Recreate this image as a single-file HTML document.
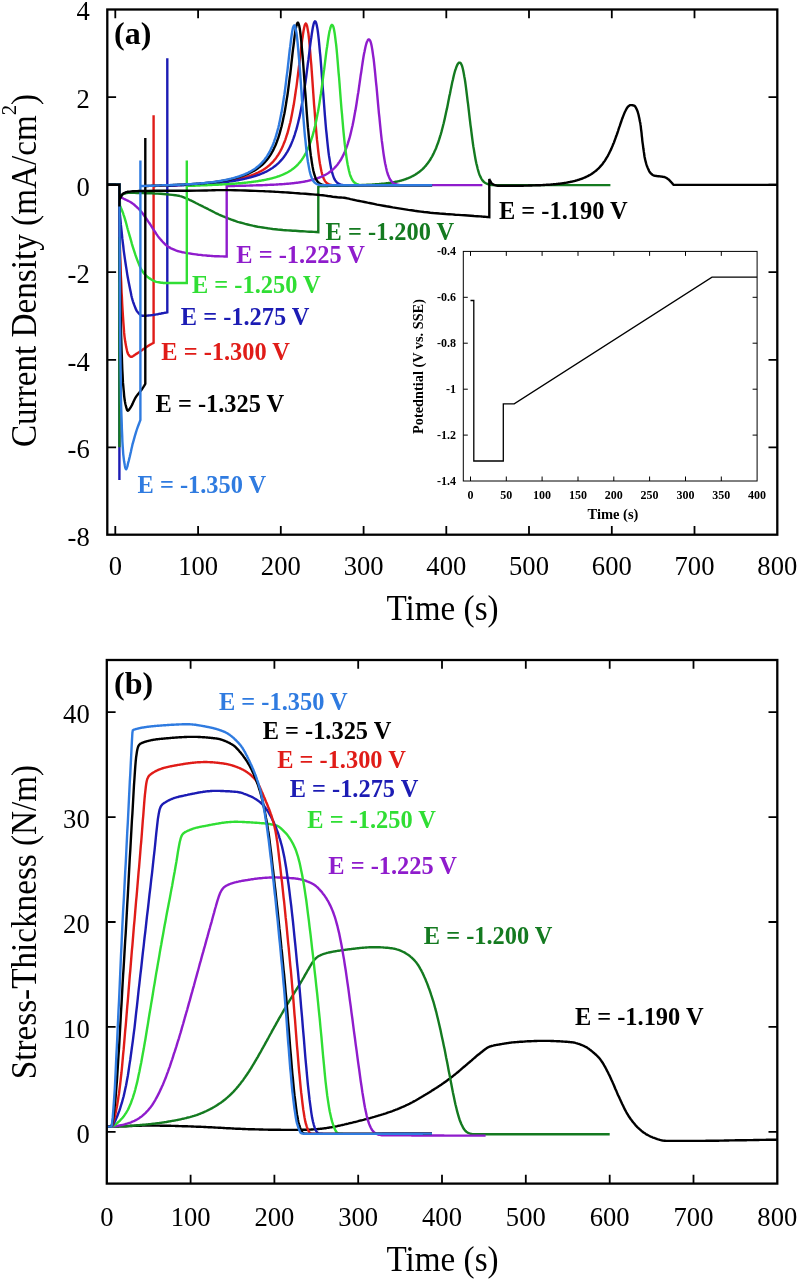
<!DOCTYPE html>
<html lang="en">
<head>
<meta charset="utf-8">
<title>Current density and stress-thickness transients</title>
<style>
html,body{margin:0;padding:0;background:#fff;}
body{width:798px;height:1280px;overflow:hidden;}
svg{display:block;}
</style>
</head>
<body>
<svg width="798" height="1280" viewBox="0 0 798 1280">
<rect x="0" y="0" width="798" height="1280" fill="#fff"/>
<defs><clipPath id="ca"><rect x="107.3" y="9.5" width="670.0" height="525.2"/></clipPath>
<clipPath id="cb"><rect x="106.8" y="660.0" width="670.5" height="523.6"/></clipPath></defs>
<g clip-path="url(#ca)" fill="none" stroke-linejoin="miter" stroke-linecap="butt" stroke-width="2.4">
<path d="M107.3,184.7 L119.4,184.7 L120.0,250.3 L120.2,257.0 L120.5,263.7 L120.7,270.1 L120.9,276.3 L121.2,282.1 L121.4,287.5 L121.6,292.6 L121.9,297.1 L122.2,303.9 L122.6,310.5 L123.0,316.8 L123.4,322.6 L123.8,327.8 L124.1,332.4 L124.5,336.3 L124.9,339.3 L125.3,342.1 L125.8,344.7 L126.2,347.1 L126.7,349.2 L127.1,351.0 L127.5,352.5 L128.0,353.7 L128.4,354.5 L128.8,354.9 L129.1,355.4 L129.5,355.8 L129.8,356.1 L130.2,356.4 L130.5,356.6 L130.9,356.8 L131.2,356.8 L131.8,356.7 L132.3,356.6 L132.8,356.3 L133.3,356.0 L133.9,355.6 L134.4,355.2 L134.9,354.8 L135.4,354.5 L136.3,353.9 L137.2,353.4 L138.1,352.8 L139.0,352.2 L139.8,351.6 L140.7,351.0 L141.6,350.4 L142.5,349.8 L143.2,349.3 L143.9,348.8 L144.7,348.3 L145.4,347.8 L146.1,347.3 L146.9,346.8 L147.6,346.3 L148.3,345.8 L149.0,345.4 L149.6,345.0 L150.3,344.6 L151.0,344.2 L151.6,343.8 L152.3,343.5 L153.0,343.1 L153.6,342.8 L153.6,115.3 L153.6,186.0 L154.0,186.0 L154.4,186.0 L154.9,186.0 L155.3,186.0 L155.7,186.0 L156.1,185.9 L156.5,185.9 L156.9,185.9 L157.3,185.9 L157.8,185.9 L158.2,185.9 L158.6,185.9 L159.0,185.8 L159.4,185.8 L159.8,185.8 L160.2,185.8 L160.6,185.8 L161.1,185.8 L161.5,185.7 L161.9,185.7 L162.3,185.7 L162.7,185.7 L163.1,185.7 L163.5,185.7 L164.0,185.7 L164.4,185.6 L164.8,185.6 L165.2,185.6 L165.6,185.6 L166.0,185.6 L166.4,185.6 L166.9,185.5 L167.3,185.5 L167.7,185.5 L168.1,185.5 L168.5,185.5 L168.9,185.5 L169.3,185.4 L169.7,185.4 L170.2,185.4 L170.6,185.4 L171.0,185.4 L171.4,185.4 L171.8,185.4 L172.2,185.3 L172.6,185.3 L173.1,185.3 L173.5,185.3 L173.9,185.3 L174.3,185.3 L174.7,185.2 L175.1,185.2 L175.5,185.2 L176.0,185.2 L176.4,185.2 L176.8,185.2 L177.2,185.1 L177.6,185.1 L178.0,185.1 L178.4,185.1 L178.9,185.1 L179.3,185.1 L179.7,185.0 L180.1,185.0 L180.5,185.0 L180.9,185.0 L181.3,185.0 L181.7,185.0 L182.2,184.9 L182.6,184.9 L183.0,184.9 L183.4,184.9 L183.8,184.9 L184.2,184.8 L184.6,184.8 L185.1,184.8 L185.5,184.8 L185.9,184.8 L186.3,184.8 L186.7,184.7 L187.1,184.7 L187.5,184.7 L188.0,184.7 L188.4,184.7 L188.8,184.6 L189.2,184.6 L189.6,184.6 L190.0,184.6 L190.4,184.6 L190.9,184.5 L191.3,184.5 L191.7,184.5 L192.1,184.5 L192.5,184.4 L192.9,184.4 L193.3,184.4 L193.7,184.4 L194.2,184.4 L194.6,184.3 L195.0,184.3 L195.4,184.3 L195.8,184.3 L196.2,184.2 L196.6,184.2 L197.1,184.2 L197.5,184.2 L197.9,184.1 L198.3,184.1 L198.7,184.1 L199.1,184.1 L199.5,184.0 L200.0,184.0 L200.4,184.0 L200.8,184.0 L201.2,183.9 L201.6,183.9 L202.0,183.9 L202.4,183.8 L202.8,183.8 L203.3,183.8 L203.7,183.8 L204.1,183.7 L204.5,183.7 L204.9,183.7 L205.3,183.6 L205.7,183.6 L206.2,183.6 L206.6,183.5 L207.0,183.5 L207.4,183.5 L207.8,183.4 L208.2,183.4 L208.6,183.4 L209.1,183.3 L209.5,183.3 L209.9,183.3 L210.3,183.2 L210.7,183.2 L211.1,183.2 L211.5,183.1 L212.0,183.1 L212.4,183.0 L212.8,183.0 L213.2,183.0 L213.6,182.9 L214.0,182.9 L214.4,182.8 L214.8,182.8 L215.3,182.7 L215.7,182.7 L216.1,182.7 L216.5,182.6 L216.9,182.6 L217.3,182.5 L217.7,182.5 L218.2,182.4 L218.6,182.4 L219.0,182.3 L219.4,182.3 L219.8,182.2 L220.2,182.2 L220.6,182.1 L221.1,182.1 L221.5,182.0 L221.9,182.0 L222.3,181.9 L222.7,181.9 L223.1,181.8 L223.5,181.8 L224.0,181.7 L224.4,181.6 L224.8,181.6 L225.2,181.5 L225.6,181.5 L226.0,181.4 L226.4,181.3 L226.8,181.3 L227.3,181.2 L227.7,181.1 L228.1,181.1 L228.5,181.0 L228.9,180.9 L229.3,180.9 L229.7,180.8 L230.2,180.7 L230.6,180.7 L231.0,180.6 L231.4,180.5 L231.8,180.4 L232.2,180.4 L232.6,180.3 L233.1,180.2 L233.5,180.1 L233.9,180.1 L234.3,180.0 L234.7,179.9 L235.1,179.8 L235.5,179.7 L235.9,179.6 L236.4,179.6 L236.8,179.5 L237.2,179.4 L237.6,179.3 L238.0,179.2 L238.4,179.1 L238.8,179.0 L239.3,178.9 L239.7,178.8 L240.1,178.7 L240.5,178.6 L240.9,178.5 L241.3,178.4 L241.7,178.3 L242.2,178.2 L242.6,178.1 L243.0,178.0 L243.4,177.9 L243.8,177.8 L244.2,177.6 L244.6,177.5 L245.1,177.4 L245.5,177.3 L245.9,177.2 L246.3,177.1 L246.7,176.9 L247.1,176.8 L247.5,176.7 L247.9,176.5 L248.4,176.4 L248.8,176.3 L249.2,176.1 L249.6,176.0 L250.0,175.9 L250.4,175.7 L250.8,175.6 L251.3,175.4 L251.7,175.3 L252.1,175.1 L252.5,175.0 L252.9,174.8 L253.3,174.6 L253.7,174.5 L254.2,174.3 L254.6,174.1 L255.0,174.0 L255.4,173.8 L255.8,173.6 L256.2,173.4 L256.6,173.2 L257.1,173.1 L257.5,172.9 L257.9,172.7 L258.3,172.5 L258.7,172.3 L259.1,172.1 L259.5,171.8 L259.9,171.6 L260.4,171.4 L260.8,171.2 L261.2,171.0 L261.6,170.7 L262.0,170.5 L262.4,170.2 L262.8,170.0 L263.3,169.7 L263.7,169.5 L264.1,169.2 L264.5,168.9 L264.9,168.7 L265.3,168.4 L265.7,168.1 L266.2,167.8 L266.6,167.5 L267.0,167.2 L267.4,166.8 L267.8,166.5 L268.2,166.2 L268.6,165.8 L269.0,165.5 L269.5,165.1 L269.9,164.8 L270.3,164.4 L270.7,164.0 L271.1,163.6 L271.5,163.2 L271.9,162.8 L272.4,162.3 L272.8,161.9 L273.2,161.5 L273.6,161.0 L274.0,160.5 L274.4,160.0 L274.8,159.5 L275.3,159.0 L275.7,158.4 L276.1,157.9 L276.5,157.3 L276.9,156.7 L277.3,156.1 L277.7,155.5 L278.2,154.9 L278.6,154.2 L279.0,153.5 L279.4,152.8 L279.8,152.1 L280.2,151.3 L280.6,150.6 L281.0,149.8 L281.5,148.9 L281.9,148.1 L282.3,147.2 L282.7,146.3 L283.1,145.3 L283.5,144.4 L283.9,143.3 L284.4,142.3 L284.8,141.2 L285.2,140.1 L285.6,138.9 L286.0,137.7 L286.4,136.4 L286.8,135.1 L287.3,133.8 L287.7,132.4 L288.1,130.9 L288.5,129.4 L288.9,127.8 L289.3,126.2 L289.7,124.5 L290.2,122.8 L290.6,120.9 L291.0,119.1 L291.4,117.1 L291.8,115.1 L292.2,112.9 L292.6,110.7 L293.0,108.5 L293.5,106.1 L293.9,103.7 L294.3,101.1 L294.7,98.5 L295.1,95.8 L295.5,93.0 L295.9,90.1 L296.4,87.1 L296.8,84.1 L297.2,80.9 L297.6,77.7 L298.0,74.4 L298.4,71.1 L298.8,67.7 L299.3,64.2 L299.7,60.7 L300.1,57.2 L300.5,53.7 L300.9,50.3 L301.3,46.9 L301.7,43.5 L302.1,40.3 L302.6,37.3 L303.0,34.4 L303.4,31.8 L303.8,29.4 L304.2,27.4 L304.6,25.8 L305.0,24.6 L305.5,23.9 L305.9,23.6 L306.3,23.9 L306.7,24.8 L307.1,26.1 L307.5,28.1 L307.9,30.5 L308.4,33.4 L308.8,36.8 L309.2,40.7 L309.6,44.9 L310.0,49.5 L310.4,54.4 L310.8,59.5 L311.3,64.9 L311.7,70.5 L312.1,76.1 L312.5,81.9 L312.9,87.7 L313.3,93.5 L313.7,99.2 L314.1,104.9 L314.6,110.4 L315.0,115.8 L315.4,121.0 L315.8,126.1 L316.2,130.9 L316.6,135.5 L317.0,139.9 L317.5,144.0 L317.9,147.9 L318.3,151.5 L318.7,154.9 L319.1,158.0 L319.5,160.9 L319.9,163.5 L320.4,166.0 L320.8,168.2 L321.2,170.2 L321.6,172.0 L322.0,173.6 L322.4,175.0 L322.8,176.3 L323.3,177.5 L323.7,178.5 L324.1,179.4 L324.5,180.1 L324.9,180.8 L325.3,181.4 L325.7,181.9 L326.1,182.4 L326.6,182.8 L327.0,183.1 L327.4,183.4 L327.8,183.7 L328.2,183.9 L328.6,184.1 L329.0,184.3 L329.5,184.5 L329.9,184.6 L330.3,184.8 L330.7,184.9 L331.1,185.0 L331.5,185.0 L331.9,185.1 L332.4,185.1 L332.8,185.1 L333.2,185.1 L333.6,185.1 L334.0,185.1 L334.4,185.1 L334.8,185.2 L335.2,185.2 L335.7,185.2 L336.1,185.2 L336.5,185.2 L336.9,185.2 L337.3,185.2 L337.7,185.2 L338.1,185.2 L338.6,185.2 L339.0,185.2 L339.4,185.2 L339.8,185.2 L340.2,185.2 L340.6,185.2 L341.0,185.2 L341.5,185.2 L341.9,185.2 L342.3,185.2 L342.7,185.2 L343.1,185.2 L343.5,185.2 L343.9,185.2 L344.4,185.2 L344.8,185.2 L345.2,185.2 L345.6,185.2 L346.0,185.2 L346.4,185.2 L346.8,185.2 L347.2,185.2 L347.7,185.2 L348.1,185.2 L348.5,185.2 L348.9,185.2 L349.3,185.2 L349.7,185.2 L350.1,185.2 L350.6,185.2 L351.0,185.2 L351.4,185.2 L351.8,185.2 L352.2,185.2 L352.6,185.2 L353.0,185.2 L353.5,185.2 L353.9,185.2 L354.3,185.2 L354.7,185.2 L355.1,185.2 L355.5,185.2 L355.9,185.2 L356.4,185.2 L356.8,185.2 L357.2,185.2 L357.6,185.2 L358.0,185.2 L358.4,185.2 L358.8,185.2 L359.2,185.2 L359.7,185.2 L360.1,185.2 L360.5,185.2 L360.9,185.2 L361.3,185.2 L361.7,185.2 L362.1,185.2 L362.6,185.2 L363.0,185.2 L363.4,185.2 L363.8,185.2 L364.2,185.2 L364.6,185.2 L365.0,185.2 L365.5,185.2 L365.9,185.2 L366.3,185.2 L366.7,185.2 L367.1,185.2 L367.5,185.2 L367.9,185.2 L368.3,185.2 L368.8,185.2 L369.2,185.2 L369.6,185.2 L370.0,185.2 L370.4,185.2 L370.8,185.2 L371.2,185.2 L371.7,185.2 L372.1,185.2 L372.5,185.2 L372.9,185.2 L373.3,185.2 L373.7,185.2 L374.1,185.2 L374.6,185.2 L375.0,185.2 L375.4,185.2 L375.8,185.2 L376.2,185.2 L376.6,185.2 L377.0,185.2 L377.5,185.2 L377.9,185.2 L378.3,185.2 L378.7,185.2 L379.1,185.2 L379.5,185.2 L379.9,185.2 L380.3,185.2 L380.8,185.2 L381.2,185.2 L381.6,185.2 L382.0,185.2 L382.4,185.2 L382.8,185.2 L383.2,185.2 L383.7,185.2 L384.1,185.2 L384.5,185.2 L384.9,185.2 L385.3,185.2 L385.7,185.2 L386.1,185.2 L386.6,185.2 L387.0,185.2 L387.4,185.2 L387.8,185.2 L388.2,185.2 L388.6,185.2 L389.0,185.2 L389.5,185.2 L389.9,185.2 L390.3,185.2 L390.7,185.2 L391.1,185.2 L391.5,185.2 L391.9,185.2 L392.3,185.2 L392.8,185.2 L393.2,185.2 L393.6,185.2 L394.0,185.2 L394.4,185.2 L394.8,185.2 L395.2,185.2 L395.7,185.2 L396.1,185.2 L396.5,185.2 L396.9,185.2 L397.3,185.2 L397.7,185.2 L398.1,185.2 L398.6,185.2 L399.0,185.2 L399.4,185.2 L399.8,185.2 L400.2,185.2 L400.6,185.2 L401.0,185.2 L401.4,185.2 L401.9,185.2 L402.3,185.2 L402.7,185.2 L403.1,185.2 L403.5,185.2 L403.9,185.2 L404.3,185.2 L404.8,185.2 L405.2,185.2 L405.6,185.2 L406.0,185.2 L406.4,185.2 L406.8,185.2 L407.2,185.2 L407.7,185.2 L408.1,185.2 L408.5,185.2 L408.9,185.2 L409.3,185.2 L409.7,185.2 L410.1,185.2 L410.6,185.2 L411.0,185.2 L411.4,185.2 L411.8,185.2 L412.2,185.2 L412.6,185.2 L413.0,185.2 L413.4,185.2 L413.9,185.2 L414.3,185.2 L414.7,185.2 L415.1,185.2 L415.5,185.2 L415.9,185.2 L416.3,185.2 L416.8,185.2 L417.2,185.2 L417.6,185.2 L418.0,185.2 L418.4,185.2 L418.8,185.2 L419.2,185.2 L419.7,185.2 L420.1,185.2 L420.5,185.2 L420.9,185.2 L421.3,185.2 L421.7,185.2 L422.1,185.2 L422.6,185.2 L423.0,185.2 L423.4,185.2 L423.8,185.2 L424.2,185.2 L424.6,185.2 L425.0,185.2 L425.4,185.2 L425.9,185.2 L426.3,185.2 L426.7,185.2 L427.1,185.2 L427.5,185.2 L427.9,185.2 L428.3,185.2 L428.8,185.2 L429.2,185.2 L429.6,185.2 L430.0,185.2 L430.4,185.2 L430.8,185.2 L431.2,185.2 L431.7,185.2 L432.1,185.2" stroke="#e01c18"/>
<path d="M107.3,184.7 L119.4,184.7 L119.4,480.1 L119.4,215.1 L120.0,215.1 L120.5,220.1 L120.9,224.9 L121.4,229.5 L121.9,234.1 L122.3,238.4 L122.8,242.6 L123.3,246.5 L123.7,250.3 L124.3,254.7 L124.9,258.9 L125.5,263.0 L126.1,266.9 L126.7,270.6 L127.2,274.1 L127.8,277.5 L128.4,280.7 L129.0,283.8 L129.6,286.8 L130.2,289.8 L130.8,292.6 L131.3,295.2 L131.9,297.7 L132.5,299.9 L133.1,301.8 L133.7,303.5 L134.3,305.2 L134.9,306.7 L135.4,308.1 L136.0,309.4 L136.6,310.6 L137.2,311.6 L137.8,312.3 L138.4,313.0 L139.0,313.6 L139.5,314.2 L140.1,314.7 L140.7,315.2 L141.3,315.5 L141.9,315.8 L142.5,315.8 L143.6,315.8 L144.8,315.8 L146.0,315.7 L147.2,315.6 L148.3,315.5 L149.5,315.4 L150.7,315.3 L151.8,315.1 L153.0,315.0 L154.2,314.8 L155.4,314.6 L156.5,314.4 L157.7,314.2 L158.9,313.9 L160.0,313.7 L161.2,313.5 L162.0,313.3 L162.7,313.2 L163.5,313.1 L164.2,312.9 L165.0,312.8 L165.8,312.6 L166.5,312.5 L167.3,312.3 L167.3,58.2 L167.3,185.9 L167.7,185.9 L168.1,185.8 L168.5,185.8 L168.9,185.8 L169.3,185.8 L169.7,185.8 L170.2,185.8 L170.6,185.7 L171.0,185.7 L171.4,185.7 L171.8,185.7 L172.2,185.7 L172.6,185.7 L173.1,185.6 L173.5,185.6 L173.9,185.6 L174.3,185.6 L174.7,185.6 L175.1,185.5 L175.5,185.5 L176.0,185.5 L176.4,185.5 L176.8,185.5 L177.2,185.5 L177.6,185.4 L178.0,185.4 L178.4,185.4 L178.9,185.4 L179.3,185.4 L179.7,185.3 L180.1,185.3 L180.5,185.3 L180.9,185.3 L181.3,185.3 L181.7,185.2 L182.2,185.2 L182.6,185.2 L183.0,185.2 L183.4,185.2 L183.8,185.2 L184.2,185.1 L184.6,185.1 L185.1,185.1 L185.5,185.1 L185.9,185.1 L186.3,185.0 L186.7,185.0 L187.1,185.0 L187.5,185.0 L188.0,185.0 L188.4,184.9 L188.8,184.9 L189.2,184.9 L189.6,184.9 L190.0,184.8 L190.4,184.8 L190.9,184.8 L191.3,184.8 L191.7,184.8 L192.1,184.7 L192.5,184.7 L192.9,184.7 L193.3,184.7 L193.7,184.7 L194.2,184.6 L194.6,184.6 L195.0,184.6 L195.4,184.6 L195.8,184.5 L196.2,184.5 L196.6,184.5 L197.1,184.5 L197.5,184.4 L197.9,184.4 L198.3,184.4 L198.7,184.4 L199.1,184.3 L199.5,184.3 L200.0,184.3 L200.4,184.3 L200.8,184.2 L201.2,184.2 L201.6,184.2 L202.0,184.2 L202.4,184.1 L202.8,184.1 L203.3,184.1 L203.7,184.1 L204.1,184.0 L204.5,184.0 L204.9,184.0 L205.3,183.9 L205.7,183.9 L206.2,183.9 L206.6,183.9 L207.0,183.8 L207.4,183.8 L207.8,183.8 L208.2,183.7 L208.6,183.7 L209.1,183.7 L209.5,183.6 L209.9,183.6 L210.3,183.6 L210.7,183.5 L211.1,183.5 L211.5,183.5 L212.0,183.4 L212.4,183.4 L212.8,183.4 L213.2,183.3 L213.6,183.3 L214.0,183.3 L214.4,183.2 L214.8,183.2 L215.3,183.1 L215.7,183.1 L216.1,183.1 L216.5,183.0 L216.9,183.0 L217.3,182.9 L217.7,182.9 L218.2,182.9 L218.6,182.8 L219.0,182.8 L219.4,182.7 L219.8,182.7 L220.2,182.7 L220.6,182.6 L221.1,182.6 L221.5,182.5 L221.9,182.5 L222.3,182.4 L222.7,182.4 L223.1,182.3 L223.5,182.3 L224.0,182.2 L224.4,182.2 L224.8,182.1 L225.2,182.1 L225.6,182.0 L226.0,182.0 L226.4,181.9 L226.8,181.9 L227.3,181.8 L227.7,181.8 L228.1,181.7 L228.5,181.7 L228.9,181.6 L229.3,181.5 L229.7,181.5 L230.2,181.4 L230.6,181.4 L231.0,181.3 L231.4,181.2 L231.8,181.2 L232.2,181.1 L232.6,181.1 L233.1,181.0 L233.5,180.9 L233.9,180.9 L234.3,180.8 L234.7,180.7 L235.1,180.7 L235.5,180.6 L235.9,180.5 L236.4,180.4 L236.8,180.4 L237.2,180.3 L237.6,180.2 L238.0,180.2 L238.4,180.1 L238.8,180.0 L239.3,179.9 L239.7,179.8 L240.1,179.8 L240.5,179.7 L240.9,179.6 L241.3,179.5 L241.7,179.4 L242.2,179.4 L242.6,179.3 L243.0,179.2 L243.4,179.1 L243.8,179.0 L244.2,178.9 L244.6,178.8 L245.1,178.7 L245.5,178.6 L245.9,178.5 L246.3,178.4 L246.7,178.3 L247.1,178.2 L247.5,178.1 L247.9,178.0 L248.4,177.9 L248.8,177.8 L249.2,177.7 L249.6,177.6 L250.0,177.5 L250.4,177.4 L250.8,177.3 L251.3,177.2 L251.7,177.0 L252.1,176.9 L252.5,176.8 L252.9,176.7 L253.3,176.6 L253.7,176.4 L254.2,176.3 L254.6,176.2 L255.0,176.1 L255.4,175.9 L255.8,175.8 L256.2,175.7 L256.6,175.5 L257.1,175.4 L257.5,175.2 L257.9,175.1 L258.3,174.9 L258.7,174.8 L259.1,174.6 L259.5,174.5 L259.9,174.3 L260.4,174.2 L260.8,174.0 L261.2,173.8 L261.6,173.7 L262.0,173.5 L262.4,173.3 L262.8,173.1 L263.3,173.0 L263.7,172.8 L264.1,172.6 L264.5,172.4 L264.9,172.2 L265.3,172.0 L265.7,171.8 L266.2,171.6 L266.6,171.4 L267.0,171.2 L267.4,171.0 L267.8,170.7 L268.2,170.5 L268.6,170.3 L269.0,170.0 L269.5,169.8 L269.9,169.6 L270.3,169.3 L270.7,169.1 L271.1,168.8 L271.5,168.5 L271.9,168.3 L272.4,168.0 L272.8,167.7 L273.2,167.4 L273.6,167.1 L274.0,166.8 L274.4,166.5 L274.8,166.2 L275.3,165.9 L275.7,165.5 L276.1,165.2 L276.5,164.9 L276.9,164.5 L277.3,164.1 L277.7,163.8 L278.2,163.4 L278.6,163.0 L279.0,162.6 L279.4,162.2 L279.8,161.8 L280.2,161.3 L280.6,160.9 L281.0,160.4 L281.5,160.0 L281.9,159.5 L282.3,159.0 L282.7,158.5 L283.1,158.0 L283.5,157.4 L283.9,156.9 L284.4,156.3 L284.8,155.7 L285.2,155.1 L285.6,154.5 L286.0,153.9 L286.4,153.2 L286.8,152.6 L287.3,151.9 L287.7,151.1 L288.1,150.4 L288.5,149.6 L288.9,148.9 L289.3,148.1 L289.7,147.2 L290.2,146.4 L290.6,145.5 L291.0,144.6 L291.4,143.6 L291.8,142.6 L292.2,141.6 L292.6,140.6 L293.0,139.5 L293.5,138.4 L293.9,137.2 L294.3,136.0 L294.7,134.8 L295.1,133.5 L295.5,132.2 L295.9,130.8 L296.4,129.4 L296.8,127.9 L297.2,126.4 L297.6,124.8 L298.0,123.2 L298.4,121.5 L298.8,119.7 L299.3,117.9 L299.7,116.0 L300.1,114.1 L300.5,112.1 L300.9,110.0 L301.3,107.8 L301.7,105.6 L302.1,103.3 L302.6,100.9 L303.0,98.4 L303.4,95.9 L303.8,93.3 L304.2,90.6 L304.6,87.8 L305.0,85.0 L305.5,82.0 L305.9,79.0 L306.3,76.0 L306.7,72.9 L307.1,69.7 L307.5,66.5 L307.9,63.2 L308.4,59.9 L308.8,56.6 L309.2,53.3 L309.6,50.0 L310.0,46.8 L310.4,43.6 L310.8,40.5 L311.3,37.5 L311.7,34.7 L312.1,32.0 L312.5,29.5 L312.9,27.3 L313.3,25.4 L313.7,23.8 L314.1,22.6 L314.6,21.8 L315.0,21.4 L315.4,21.5 L315.8,22.1 L316.2,23.1 L316.6,24.6 L317.0,26.6 L317.5,29.1 L317.9,32.0 L318.3,35.3 L318.7,38.9 L319.1,42.9 L319.5,47.3 L319.9,51.9 L320.4,56.7 L320.8,61.8 L321.2,67.0 L321.6,72.3 L322.0,77.7 L322.4,83.2 L322.8,88.7 L323.3,94.2 L323.7,99.6 L324.1,104.9 L324.5,110.2 L324.9,115.3 L325.3,120.2 L325.7,125.0 L326.1,129.6 L326.6,134.0 L327.0,138.2 L327.4,142.2 L327.8,145.9 L328.2,149.5 L328.6,152.8 L329.0,155.9 L329.5,158.7 L329.9,161.4 L330.3,163.9 L330.7,166.1 L331.1,168.2 L331.5,170.0 L331.9,171.7 L332.4,173.3 L332.8,174.7 L333.2,175.9 L333.6,177.0 L334.0,178.0 L334.4,178.9 L334.8,179.7 L335.2,180.4 L335.7,181.0 L336.1,181.5 L336.5,182.0 L336.9,182.4 L337.3,182.8 L337.7,183.1 L338.1,183.4 L338.6,183.6 L339.0,183.8 L339.4,184.0 L339.8,184.2 L340.2,184.4 L340.6,184.5 L341.0,184.7 L341.5,184.8 L341.9,184.9 L342.3,185.0 L342.7,185.0 L343.1,185.1 L343.5,185.1 L343.9,185.1 L344.4,185.1 L344.8,185.1 L345.2,185.1 L345.6,185.1 L346.0,185.1 L346.4,185.1 L346.8,185.1 L347.2,185.1 L347.7,185.1 L348.1,185.1 L348.5,185.1 L348.9,185.1 L349.3,185.1 L349.7,185.1 L350.1,185.1 L350.6,185.1 L351.0,185.1 L351.4,185.1 L351.8,185.1 L352.2,185.1 L352.6,185.1 L353.0,185.1 L353.5,185.1 L353.9,185.1 L354.3,185.1 L354.7,185.1 L355.1,185.1 L355.5,185.1 L355.9,185.1 L356.4,185.1 L356.8,185.1 L357.2,185.1 L357.6,185.1 L358.0,185.1 L358.4,185.1 L358.8,185.1 L359.2,185.1 L359.7,185.1 L360.1,185.1 L360.5,185.1 L360.9,185.1 L361.3,185.1 L361.7,185.1 L362.1,185.1 L362.6,185.1 L363.0,185.1 L363.4,185.1 L363.8,185.1 L364.2,185.1 L364.6,185.1 L365.0,185.1 L365.5,185.1 L365.9,185.1 L366.3,185.1 L366.7,185.1 L367.1,185.1 L367.5,185.1 L367.9,185.1 L368.3,185.1 L368.8,185.1 L369.2,185.1 L369.6,185.1 L370.0,185.1 L370.4,185.1 L370.8,185.1 L371.2,185.1 L371.7,185.1 L372.1,185.1 L372.5,185.1 L372.9,185.1 L373.3,185.1 L373.7,185.1 L374.1,185.1 L374.6,185.1 L375.0,185.1 L375.4,185.1 L375.8,185.1 L376.2,185.1 L376.6,185.1 L377.0,185.1 L377.5,185.1 L377.9,185.1 L378.3,185.1 L378.7,185.1 L379.1,185.1 L379.5,185.1 L379.9,185.1 L380.3,185.1 L380.8,185.1 L381.2,185.1 L381.6,185.1 L382.0,185.1 L382.4,185.1 L382.8,185.1 L383.2,185.1 L383.7,185.1 L384.1,185.1 L384.5,185.1 L384.9,185.1 L385.3,185.1 L385.7,185.1 L386.1,185.1 L386.6,185.1 L387.0,185.1 L387.4,185.1 L387.8,185.1 L388.2,185.1 L388.6,185.1 L389.0,185.1 L389.5,185.1 L389.9,185.1 L390.3,185.1 L390.7,185.1 L391.1,185.1 L391.5,185.1 L391.9,185.1 L392.3,185.1 L392.8,185.1 L393.2,185.1 L393.6,185.1 L394.0,185.1 L394.4,185.1 L394.8,185.1 L395.2,185.1 L395.7,185.1 L396.1,185.1 L396.5,185.1 L396.9,185.1 L397.3,185.1 L397.7,185.1 L398.1,185.1 L398.6,185.1 L399.0,185.1 L399.4,185.1 L399.8,185.1 L400.2,185.1 L400.6,185.1 L401.0,185.1 L401.4,185.1 L401.9,185.1 L402.3,185.1 L402.7,185.1 L403.1,185.1 L403.5,185.1 L403.9,185.1 L404.3,185.1 L404.8,185.1 L405.2,185.1 L405.6,185.1 L406.0,185.1 L406.4,185.1 L406.8,185.1 L407.2,185.1 L407.7,185.1 L408.1,185.1 L408.5,185.1 L408.9,185.1 L409.3,185.1 L409.7,185.1 L410.1,185.1 L410.6,185.1 L411.0,185.1 L411.4,185.1 L411.8,185.1 L412.2,185.1 L412.6,185.1 L413.0,185.1 L413.4,185.1 L413.9,185.1 L414.3,185.1 L414.7,185.1 L415.1,185.1 L415.5,185.1 L415.9,185.1 L416.3,185.1 L416.8,185.1 L417.2,185.1 L417.6,185.1 L418.0,185.1 L418.4,185.1 L418.8,185.1 L419.2,185.1 L419.7,185.1 L420.1,185.1 L420.5,185.1 L420.9,185.1 L421.3,185.1 L421.7,185.1 L422.1,185.1 L422.6,185.1 L423.0,185.1 L423.4,185.1 L423.8,185.1 L424.2,185.1 L424.6,185.1 L425.0,185.1 L425.4,185.1 L425.9,185.1 L426.3,185.1 L426.7,185.1 L427.1,185.1 L427.5,185.1 L427.9,185.1 L428.3,185.1 L428.8,185.1 L429.2,185.1 L429.6,185.1 L430.0,185.1 L430.4,185.1 L430.8,185.1 L431.2,185.1 L431.7,185.1 L432.1,185.1" stroke="#1c1cb4"/>
<path d="M107.3,184.7 L119.4,184.7 L119.4,447.3 L119.4,198.7 L120.0,198.7 L120.3,198.1 L120.6,197.4 L121.0,196.7 L121.3,196.1 L121.6,195.6 L121.9,195.1 L122.2,194.8 L122.6,194.5 L123.3,194.2 L124.0,193.8 L124.8,193.5 L125.5,193.3 L126.2,193.1 L127.0,193.0 L127.7,192.9 L128.4,192.9 L131.3,192.9 L134.3,192.9 L137.2,193.0 L140.1,193.0 L143.1,193.1 L146.0,193.2 L148.9,193.3 L151.8,193.3 L154.8,193.5 L157.7,193.6 L160.6,193.8 L163.5,194.0 L166.5,194.3 L169.4,194.6 L172.3,194.9 L175.3,195.2 L175.9,195.3 L176.4,195.4 L177.0,195.5 L177.6,195.6 L178.2,195.7 L178.8,195.8 L179.4,195.9 L180.0,196.1 L181.3,196.4 L182.5,196.8 L183.8,197.3 L185.0,197.8 L186.3,198.4 L187.5,198.9 L188.8,199.5 L190.0,200.1 L191.3,200.6 L192.5,201.2 L193.8,201.9 L195.0,202.5 L196.3,203.2 L197.5,203.8 L198.8,204.5 L200.1,205.1 L201.3,205.7 L202.6,206.3 L203.8,207.0 L205.1,207.6 L206.3,208.2 L207.6,208.8 L208.8,209.5 L210.1,210.1 L211.3,210.7 L212.6,211.4 L213.8,212.0 L215.1,212.7 L216.3,213.3 L217.6,213.9 L218.8,214.5 L220.1,215.1 L221.4,215.7 L222.6,216.2 L223.9,216.7 L225.1,217.2 L226.4,217.7 L227.6,218.2 L228.9,218.7 L230.1,219.1 L231.4,219.6 L232.6,220.0 L233.9,220.5 L235.1,220.9 L236.4,221.4 L237.6,221.8 L238.9,222.2 L240.2,222.5 L242.7,223.2 L245.2,223.9 L247.7,224.5 L250.2,225.1 L252.7,225.7 L255.2,226.2 L257.7,226.7 L260.2,227.1 L262.7,227.5 L265.2,227.9 L267.7,228.3 L270.2,228.6 L272.7,229.0 L275.2,229.2 L277.7,229.5 L280.3,229.7 L282.8,230.0 L285.3,230.2 L287.8,230.4 L290.3,230.5 L292.8,230.7 L295.3,230.8 L297.8,231.0 L300.3,231.2 L302.5,231.3 L304.8,231.4 L307.0,231.6 L309.3,231.7 L311.5,231.8 L313.8,231.9 L316.0,232.0 L318.3,232.2 L318.3,186.0 L318.3,186.2 L318.7,186.2 L319.1,186.2 L319.5,186.2 L319.9,186.1 L320.4,186.1 L320.8,186.1 L321.2,186.1 L321.6,186.1 L322.0,186.1 L322.4,186.1 L322.8,186.1 L323.3,186.1 L323.7,186.1 L324.1,186.0 L324.5,186.0 L324.9,186.0 L325.3,186.0 L325.7,186.0 L326.1,186.0 L326.6,186.0 L327.0,186.0 L327.4,186.0 L327.8,186.0 L328.2,185.9 L328.6,185.9 L329.0,185.9 L329.5,185.9 L329.9,185.9 L330.3,185.9 L330.7,185.9 L331.1,185.9 L331.5,185.9 L331.9,185.9 L332.4,185.8 L332.8,185.8 L333.2,185.8 L333.6,185.8 L334.0,185.8 L334.4,185.8 L334.8,185.8 L335.2,185.8 L335.7,185.8 L336.1,185.8 L336.5,185.7 L336.9,185.7 L337.3,185.7 L337.7,185.7 L338.1,185.7 L338.6,185.7 L339.0,185.7 L339.4,185.7 L339.8,185.7 L340.2,185.7 L340.6,185.6 L341.0,185.6 L341.5,185.6 L341.9,185.6 L342.3,185.6 L342.7,185.6 L343.1,185.6 L343.5,185.6 L343.9,185.6 L344.4,185.6 L344.8,185.5 L345.2,185.5 L345.6,185.5 L346.0,185.5 L346.4,185.5 L346.8,185.5 L347.2,185.5 L347.7,185.5 L348.1,185.5 L348.5,185.5 L348.9,185.4 L349.3,185.4 L349.7,185.4 L350.1,185.4 L350.6,185.4 L351.0,185.4 L351.4,185.4 L351.8,185.4 L352.2,185.3 L352.6,185.3 L353.0,185.3 L353.5,185.3 L353.9,185.3 L354.3,185.3 L354.7,185.3 L355.1,185.3 L355.5,185.3 L355.9,185.2 L356.4,185.2 L356.8,185.2 L357.2,185.2 L357.6,185.2 L358.0,185.2 L358.4,185.2 L358.8,185.1 L359.2,185.1 L359.7,185.1 L360.1,185.1 L360.5,185.1 L360.9,185.1 L361.3,185.1 L361.7,185.0 L362.1,185.0 L362.6,185.0 L363.0,185.0 L363.4,185.0 L363.8,185.0 L364.2,184.9 L364.6,184.9 L365.0,184.9 L365.5,184.9 L365.9,184.9 L366.3,184.9 L366.7,184.8 L367.1,184.8 L367.5,184.8 L367.9,184.8 L368.3,184.8 L368.8,184.7 L369.2,184.7 L369.6,184.7 L370.0,184.7 L370.4,184.6 L370.8,184.6 L371.2,184.6 L371.7,184.6 L372.1,184.6 L372.5,184.5 L372.9,184.5 L373.3,184.5 L373.7,184.5 L374.1,184.4 L374.6,184.4 L375.0,184.4 L375.4,184.3 L375.8,184.3 L376.2,184.3 L376.6,184.3 L377.0,184.2 L377.5,184.2 L377.9,184.2 L378.3,184.1 L378.7,184.1 L379.1,184.1 L379.5,184.0 L379.9,184.0 L380.3,184.0 L380.8,183.9 L381.2,183.9 L381.6,183.8 L382.0,183.8 L382.4,183.8 L382.8,183.7 L383.2,183.7 L383.7,183.6 L384.1,183.6 L384.5,183.6 L384.9,183.5 L385.3,183.5 L385.7,183.4 L386.1,183.4 L386.6,183.3 L387.0,183.3 L387.4,183.2 L387.8,183.2 L388.2,183.1 L388.6,183.0 L389.0,183.0 L389.5,182.9 L389.9,182.9 L390.3,182.8 L390.7,182.7 L391.1,182.7 L391.5,182.6 L391.9,182.5 L392.3,182.5 L392.8,182.4 L393.2,182.3 L393.6,182.2 L394.0,182.2 L394.4,182.1 L394.8,182.0 L395.2,181.9 L395.7,181.8 L396.1,181.8 L396.5,181.7 L396.9,181.6 L397.3,181.5 L397.7,181.4 L398.1,181.3 L398.6,181.2 L399.0,181.1 L399.4,181.0 L399.8,180.9 L400.2,180.8 L400.6,180.7 L401.0,180.6 L401.4,180.5 L401.9,180.3 L402.3,180.2 L402.7,180.1 L403.1,180.0 L403.5,179.8 L403.9,179.7 L404.3,179.6 L404.8,179.4 L405.2,179.3 L405.6,179.1 L406.0,179.0 L406.4,178.8 L406.8,178.7 L407.2,178.5 L407.7,178.4 L408.1,178.2 L408.5,178.0 L408.9,177.9 L409.3,177.7 L409.7,177.5 L410.1,177.3 L410.6,177.1 L411.0,176.9 L411.4,176.7 L411.8,176.5 L412.2,176.3 L412.6,176.1 L413.0,175.9 L413.4,175.7 L413.9,175.4 L414.3,175.2 L414.7,175.0 L415.1,174.7 L415.5,174.5 L415.9,174.2 L416.3,173.9 L416.8,173.7 L417.2,173.4 L417.6,173.1 L418.0,172.8 L418.4,172.5 L418.8,172.2 L419.2,171.9 L419.7,171.6 L420.1,171.2 L420.5,170.9 L420.9,170.6 L421.3,170.2 L421.7,169.8 L422.1,169.5 L422.6,169.1 L423.0,168.7 L423.4,168.3 L423.8,167.9 L424.2,167.4 L424.6,167.0 L425.0,166.5 L425.4,166.1 L425.9,165.6 L426.3,165.1 L426.7,164.6 L427.1,164.1 L427.5,163.5 L427.9,163.0 L428.3,162.4 L428.8,161.8 L429.2,161.2 L429.6,160.6 L430.0,160.0 L430.4,159.3 L430.8,158.6 L431.2,157.9 L431.7,157.2 L432.1,156.5 L432.5,155.7 L432.9,154.9 L433.3,154.1 L433.7,153.3 L434.1,152.4 L434.5,151.5 L435.0,150.6 L435.4,149.6 L435.8,148.7 L436.2,147.7 L436.6,146.6 L437.0,145.5 L437.4,144.4 L437.9,143.3 L438.3,142.1 L438.7,140.9 L439.1,139.7 L439.5,138.4 L439.9,137.1 L440.3,135.7 L440.8,134.3 L441.2,132.8 L441.6,131.4 L442.0,129.8 L442.4,128.3 L442.8,126.7 L443.2,125.0 L443.7,123.3 L444.1,121.6 L444.5,119.8 L444.9,118.0 L445.3,116.1 L445.7,114.3 L446.1,112.3 L446.5,110.4 L447.0,108.4 L447.4,106.4 L447.8,104.4 L448.2,102.3 L448.6,100.3 L449.0,98.2 L449.4,96.1 L449.9,94.0 L450.3,92.0 L450.7,89.9 L451.1,87.9 L451.5,85.9 L451.9,83.9 L452.3,82.0 L452.8,80.1 L453.2,78.3 L453.6,76.5 L454.0,74.8 L454.4,73.2 L454.8,71.7 L455.2,70.3 L455.7,69.0 L456.1,67.8 L456.5,66.7 L456.9,65.7 L457.3,64.9 L457.7,64.1 L458.1,63.5 L458.5,63.1 L459.0,62.7 L459.4,62.6 L459.8,62.6 L460.2,62.8 L460.6,63.1 L461.0,63.7 L461.4,64.5 L461.9,65.5 L462.3,66.8 L462.7,68.3 L463.1,70.0 L463.5,72.0 L463.9,74.1 L464.3,76.5 L464.8,79.1 L465.2,81.8 L465.6,84.7 L466.0,87.7 L466.4,90.8 L466.8,94.1 L467.2,97.4 L467.6,100.8 L468.1,104.3 L468.5,107.8 L468.9,111.3 L469.3,114.8 L469.7,118.3 L470.1,121.7 L470.5,125.1 L471.0,128.5 L471.4,131.8 L471.8,135.0 L472.2,138.1 L472.6,141.2 L473.0,144.1 L473.4,146.9 L473.9,149.6 L474.3,152.2 L474.7,154.6 L475.1,157.0 L475.5,159.2 L475.9,161.3 L476.3,163.3 L476.8,165.1 L477.2,166.8 L477.6,168.5 L478.0,170.0 L478.4,171.4 L478.8,172.7 L479.2,173.9 L479.6,175.0 L480.1,176.0 L480.5,176.9 L480.9,177.7 L481.3,178.5 L481.7,179.2 L482.1,179.8 L482.5,180.4 L483.0,180.9 L483.4,181.4 L483.8,181.8 L484.2,182.2 L484.6,182.5 L485.0,182.8 L485.4,183.0 L485.9,183.3 L486.3,183.5 L486.7,183.7 L487.1,183.8 L487.5,184.0 L487.9,184.1 L488.3,184.2 L488.8,184.4 L489.2,184.5 L489.6,184.6 L490.0,184.7 L490.4,184.8 L490.8,184.9 L491.2,184.9 L491.6,185.0 L492.1,185.1 L492.5,185.1 L492.9,185.1 L493.3,185.1 L493.7,185.1 L494.1,185.1 L494.5,185.1 L495.0,185.1 L495.4,185.1 L495.8,185.1 L496.2,185.1 L496.6,185.1 L497.0,185.1 L497.4,185.1 L497.9,185.1 L498.3,185.1 L498.7,185.1 L499.1,185.1 L499.5,185.1 L499.9,185.1 L500.3,185.1 L500.7,185.1 L501.2,185.1 L501.6,185.1 L502.0,185.1 L502.4,185.1 L502.8,185.1 L503.2,185.1 L503.6,185.1 L504.1,185.1 L504.5,185.1 L504.9,185.1 L505.3,185.1 L505.7,185.1 L506.1,185.1 L506.5,185.1 L507.0,185.1 L507.4,185.1 L507.8,185.1 L508.2,185.1 L508.6,185.1 L509.0,185.1 L509.4,185.1 L509.9,185.1 L510.3,185.1 L510.7,185.1 L511.1,185.1 L511.5,185.1 L511.9,185.1 L512.3,185.1 L512.7,185.1 L513.2,185.1 L513.6,185.1 L514.0,185.1 L514.4,185.1 L514.8,185.1 L515.2,185.1 L515.6,185.1 L516.1,185.1 L516.5,185.1 L516.9,185.1 L517.3,185.1 L517.7,185.1 L518.1,185.1 L518.5,185.1 L519.0,185.1 L519.4,185.1 L519.8,185.1 L520.2,185.1 L520.6,185.1 L521.0,185.1 L521.4,185.1 L521.9,185.1 L522.3,185.1 L522.7,185.1 L523.1,185.1 L523.5,185.1 L523.9,185.1 L524.3,185.1 L524.7,185.1 L525.2,185.1 L525.6,185.1 L526.0,185.1 L526.4,185.1 L526.8,185.1 L527.2,185.1 L527.6,185.1 L528.1,185.1 L528.5,185.1 L528.9,185.1 L529.3,185.1 L529.7,185.1 L530.1,185.1 L530.5,185.1 L531.0,185.1 L531.4,185.1 L531.8,185.1 L532.2,185.1 L532.6,185.1 L533.0,185.1 L533.4,185.1 L533.8,185.1 L534.3,185.1 L534.7,185.1 L535.1,185.1 L535.5,185.1 L535.9,185.1 L536.3,185.1 L536.7,185.1 L537.2,185.1 L537.6,185.1 L538.0,185.1 L538.4,185.1 L538.8,185.1 L539.2,185.1 L539.6,185.1 L540.1,185.1 L540.5,185.1 L540.9,185.1 L541.3,185.1 L541.7,185.1 L542.1,185.1 L542.5,185.1 L543.0,185.1 L543.4,185.1 L543.8,185.1 L544.2,185.1 L544.6,185.1 L545.0,185.1 L545.4,185.1 L545.8,185.1 L546.3,185.1 L546.7,185.1 L547.1,185.1 L547.5,185.1 L547.9,185.1 L548.3,185.1 L548.7,185.1 L549.2,185.1 L549.6,185.1 L550.0,185.1 L550.4,185.1 L550.8,185.1 L551.2,185.1 L551.6,185.1 L552.1,185.1 L552.5,185.1 L552.9,185.1 L553.3,185.1 L553.7,185.1 L554.1,185.1 L554.5,185.1 L555.0,185.1 L555.4,185.1 L555.8,185.1 L556.2,185.1 L556.6,185.1 L557.0,185.1 L557.4,185.1 L557.8,185.1 L558.3,185.1 L558.7,185.1 L559.1,185.1 L559.5,185.1 L559.9,185.1 L560.3,185.1 L560.7,185.1 L561.2,185.1 L561.6,185.1 L562.0,185.1 L562.4,185.1 L562.8,185.1 L563.2,185.1 L563.6,185.1 L564.1,185.1 L564.5,185.1 L564.9,185.1 L565.3,185.1 L565.7,185.1 L566.1,185.1 L566.5,185.1 L566.9,185.1 L567.4,185.1 L567.8,185.1 L568.2,185.1 L568.6,185.1 L569.0,185.1 L569.4,185.1 L569.8,185.1 L570.3,185.1 L570.7,185.1 L571.1,185.1 L571.5,185.1 L571.9,185.1 L572.3,185.1 L572.7,185.1 L573.2,185.1 L573.6,185.1 L574.0,185.1 L574.4,185.1 L574.8,185.1 L575.2,185.1 L575.6,185.1 L576.1,185.1 L576.5,185.1 L576.9,185.1 L577.3,185.1 L577.7,185.1 L578.1,185.1 L578.5,185.1 L578.9,185.1 L579.4,185.1 L579.8,185.1 L580.2,185.1 L580.6,185.1 L581.0,185.1 L581.4,185.1 L581.8,185.1 L582.3,185.1 L582.7,185.1 L583.1,185.1 L583.5,185.1 L583.9,185.1 L584.3,185.1 L584.7,185.1 L585.2,185.1 L585.6,185.1 L586.0,185.1 L586.4,185.1 L586.8,185.1 L587.2,185.1 L587.6,185.1 L588.1,185.1 L588.5,185.1 L588.9,185.1 L589.3,185.1 L589.7,185.1 L590.1,185.1 L590.5,185.1 L590.9,185.1 L591.4,185.1 L591.8,185.1 L592.2,185.1 L592.6,185.1 L593.0,185.1 L593.4,185.1 L593.8,185.1 L594.3,185.1 L594.7,185.1 L595.1,185.1 L595.5,185.1 L595.9,185.1 L596.3,185.1 L596.7,185.1 L597.2,185.1 L597.6,185.1 L598.0,185.1 L598.4,185.1 L598.8,185.1 L599.2,185.1 L599.6,185.1 L600.0,185.1 L600.5,185.1 L600.9,185.1 L601.3,185.1 L601.7,185.1 L602.1,185.1 L602.5,185.1 L602.9,185.1 L603.4,185.1 L603.8,185.1 L604.2,185.1 L604.6,185.1 L605.0,185.1 L605.4,185.1 L605.8,185.1 L606.3,185.1 L606.7,185.1 L607.1,185.1 L607.5,185.1 L607.9,185.1 L608.3,185.1 L608.7,185.1 L609.2,185.1 L609.6,185.1 L610.0,185.1 L610.4,185.1" stroke="#147a20"/>
<path d="M107.3,184.7 L119.4,184.7 L119.4,237.2 L119.4,196.4 L120.0,196.4 L120.5,196.7 L120.9,197.0 L121.4,197.3 L121.9,197.6 L122.3,197.9 L122.8,198.2 L123.3,198.5 L123.7,198.7 L124.6,199.2 L125.5,199.6 L126.4,200.0 L127.2,200.4 L128.1,200.8 L129.0,201.3 L129.9,201.7 L130.8,202.2 L131.9,203.0 L133.1,203.9 L134.3,204.8 L135.4,205.8 L136.6,206.9 L137.8,208.0 L139.0,209.2 L140.1,210.4 L141.3,211.8 L142.5,213.2 L143.6,214.8 L144.8,216.5 L146.0,218.2 L147.2,219.9 L148.3,221.6 L149.5,223.3 L150.7,225.1 L151.8,226.9 L153.0,228.8 L154.2,230.6 L155.4,232.5 L156.5,234.2 L157.7,235.9 L158.9,237.4 L160.0,238.8 L161.2,240.1 L162.4,241.5 L163.5,242.7 L164.7,243.9 L165.9,245.0 L167.1,245.9 L168.2,246.7 L169.4,247.4 L170.6,248.1 L171.7,248.7 L172.9,249.2 L174.1,249.7 L175.3,250.2 L176.4,250.6 L177.6,251.0 L178.8,251.3 L179.9,251.6 L181.1,251.9 L182.3,252.2 L183.5,252.4 L184.6,252.6 L185.8,252.9 L187.0,253.1 L189.2,253.4 L191.5,253.8 L193.7,254.1 L196.0,254.4 L198.2,254.7 L200.5,254.9 L202.7,255.2 L205.0,255.4 L206.4,255.5 L207.8,255.7 L209.2,255.8 L210.6,255.9 L212.0,256.0 L213.4,256.1 L214.8,256.2 L216.3,256.3 L217.6,256.3 L218.9,256.3 L220.2,256.4 L221.5,256.4 L222.8,256.4 L224.1,256.5 L225.4,256.5 L226.7,256.5 L226.7,184.7 L226.7,186.1 L227.1,186.1 L227.5,186.1 L227.9,186.1 L228.3,186.1 L228.8,186.1 L229.2,186.1 L229.6,186.1 L230.0,186.1 L230.4,186.1 L230.8,186.0 L231.2,186.0 L231.6,186.0 L232.1,186.0 L232.5,186.0 L232.9,186.0 L233.3,186.0 L233.7,186.0 L234.1,186.0 L234.5,186.0 L235.0,185.9 L235.4,185.9 L235.8,185.9 L236.2,185.9 L236.6,185.9 L237.0,185.9 L237.4,185.9 L237.9,185.9 L238.3,185.9 L238.7,185.8 L239.1,185.8 L239.5,185.8 L239.9,185.8 L240.3,185.8 L240.7,185.8 L241.2,185.8 L241.6,185.8 L242.0,185.8 L242.4,185.7 L242.8,185.7 L243.2,185.7 L243.6,185.7 L244.1,185.7 L244.5,185.7 L244.9,185.7 L245.3,185.7 L245.7,185.7 L246.1,185.6 L246.5,185.6 L247.0,185.6 L247.4,185.6 L247.8,185.6 L248.2,185.6 L248.6,185.6 L249.0,185.6 L249.4,185.6 L249.9,185.5 L250.3,185.5 L250.7,185.5 L251.1,185.5 L251.5,185.5 L251.9,185.5 L252.3,185.5 L252.7,185.5 L253.2,185.4 L253.6,185.4 L254.0,185.4 L254.4,185.4 L254.8,185.4 L255.2,185.4 L255.6,185.4 L256.1,185.4 L256.5,185.3 L256.9,185.3 L257.3,185.3 L257.7,185.3 L258.1,185.3 L258.5,185.3 L259.0,185.3 L259.4,185.3 L259.8,185.2 L260.2,185.2 L260.6,185.2 L261.0,185.2 L261.4,185.2 L261.9,185.2 L262.3,185.2 L262.7,185.1 L263.1,185.1 L263.5,185.1 L263.9,185.1 L264.3,185.1 L264.7,185.1 L265.2,185.0 L265.6,185.0 L266.0,185.0 L266.4,185.0 L266.8,185.0 L267.2,185.0 L267.6,184.9 L268.1,184.9 L268.5,184.9 L268.9,184.9 L269.3,184.9 L269.7,184.9 L270.1,184.8 L270.5,184.8 L271.0,184.8 L271.4,184.8 L271.8,184.8 L272.2,184.7 L272.6,184.7 L273.0,184.7 L273.4,184.7 L273.8,184.7 L274.3,184.6 L274.7,184.6 L275.1,184.6 L275.5,184.6 L275.9,184.6 L276.3,184.5 L276.7,184.5 L277.2,184.5 L277.6,184.5 L278.0,184.4 L278.4,184.4 L278.8,184.4 L279.2,184.4 L279.6,184.3 L280.1,184.3 L280.5,184.3 L280.9,184.3 L281.3,184.2 L281.7,184.2 L282.1,184.2 L282.5,184.1 L283.0,184.1 L283.4,184.1 L283.8,184.1 L284.2,184.0 L284.6,184.0 L285.0,184.0 L285.4,183.9 L285.8,183.9 L286.3,183.9 L286.7,183.8 L287.1,183.8 L287.5,183.8 L287.9,183.7 L288.3,183.7 L288.7,183.6 L289.2,183.6 L289.6,183.6 L290.0,183.5 L290.4,183.5 L290.8,183.5 L291.2,183.4 L291.6,183.4 L292.1,183.3 L292.5,183.3 L292.9,183.2 L293.3,183.2 L293.7,183.1 L294.1,183.1 L294.5,183.0 L295.0,183.0 L295.4,182.9 L295.8,182.9 L296.2,182.8 L296.6,182.8 L297.0,182.7 L297.4,182.7 L297.8,182.6 L298.3,182.6 L298.7,182.5 L299.1,182.5 L299.5,182.4 L299.9,182.3 L300.3,182.3 L300.7,182.2 L301.2,182.1 L301.6,182.1 L302.0,182.0 L302.4,181.9 L302.8,181.9 L303.2,181.8 L303.6,181.7 L304.1,181.7 L304.5,181.6 L304.9,181.5 L305.3,181.4 L305.7,181.3 L306.1,181.3 L306.5,181.2 L306.9,181.1 L307.4,181.0 L307.8,180.9 L308.2,180.8 L308.6,180.7 L309.0,180.6 L309.4,180.5 L309.8,180.4 L310.3,180.3 L310.7,180.2 L311.1,180.1 L311.5,180.0 L311.9,179.9 L312.3,179.8 L312.7,179.7 L313.2,179.6 L313.6,179.5 L314.0,179.4 L314.4,179.2 L314.8,179.1 L315.2,179.0 L315.6,178.9 L316.1,178.7 L316.5,178.6 L316.9,178.5 L317.3,178.3 L317.7,178.2 L318.1,178.0 L318.5,177.9 L318.9,177.7 L319.4,177.6 L319.8,177.4 L320.2,177.2 L320.6,177.1 L321.0,176.9 L321.4,176.7 L321.8,176.5 L322.3,176.3 L322.7,176.2 L323.1,176.0 L323.5,175.8 L323.9,175.6 L324.3,175.3 L324.7,175.1 L325.2,174.9 L325.6,174.7 L326.0,174.4 L326.4,174.2 L326.8,174.0 L327.2,173.7 L327.6,173.5 L328.1,173.2 L328.5,172.9 L328.9,172.6 L329.3,172.4 L329.7,172.1 L330.1,171.8 L330.5,171.4 L330.9,171.1 L331.4,170.8 L331.8,170.5 L332.2,170.1 L332.6,169.7 L333.0,169.4 L333.4,169.0 L333.8,168.6 L334.3,168.2 L334.7,167.8 L335.1,167.3 L335.5,166.9 L335.9,166.4 L336.3,166.0 L336.7,165.5 L337.2,165.0 L337.6,164.4 L338.0,163.9 L338.4,163.3 L338.8,162.8 L339.2,162.2 L339.6,161.6 L340.0,160.9 L340.5,160.3 L340.9,159.6 L341.3,158.9 L341.7,158.1 L342.1,157.4 L342.5,156.6 L342.9,155.8 L343.4,154.9 L343.8,154.0 L344.2,153.1 L344.6,152.2 L345.0,151.2 L345.4,150.2 L345.8,149.2 L346.3,148.1 L346.7,146.9 L347.1,145.8 L347.5,144.5 L347.9,143.3 L348.3,141.9 L348.7,140.6 L349.2,139.2 L349.6,137.7 L350.0,136.2 L350.4,134.6 L350.8,132.9 L351.2,131.2 L351.6,129.5 L352.0,127.7 L352.5,125.8 L352.9,123.8 L353.3,121.8 L353.7,119.7 L354.1,117.5 L354.5,115.3 L354.9,113.0 L355.4,110.6 L355.8,108.2 L356.2,105.7 L356.6,103.2 L357.0,100.5 L357.4,97.9 L357.8,95.1 L358.3,92.4 L358.7,89.6 L359.1,86.7 L359.5,83.8 L359.9,81.0 L360.3,78.1 L360.7,75.2 L361.2,72.3 L361.6,69.5 L362.0,66.7 L362.4,64.0 L362.8,61.3 L363.2,58.8 L363.6,56.3 L364.0,54.0 L364.5,51.8 L364.9,49.7 L365.3,47.8 L365.7,46.1 L366.1,44.5 L366.5,43.1 L366.9,41.9 L367.4,41.0 L367.8,40.2 L368.2,39.7 L368.6,39.4 L369.0,39.4 L369.4,39.6 L369.8,40.1 L370.3,41.0 L370.7,42.1 L371.1,43.5 L371.5,45.3 L371.9,47.4 L372.3,49.8 L372.7,52.5 L373.1,55.4 L373.6,58.7 L374.0,62.1 L374.4,65.8 L374.8,69.7 L375.2,73.7 L375.6,77.9 L376.0,82.1 L376.5,86.5 L376.9,90.9 L377.3,95.4 L377.7,99.9 L378.1,104.3 L378.5,108.7 L378.9,113.1 L379.4,117.4 L379.8,121.6 L380.2,125.7 L380.6,129.6 L381.0,133.5 L381.4,137.2 L381.8,140.7 L382.3,144.1 L382.7,147.3 L383.1,150.4 L383.5,153.3 L383.9,156.0 L384.3,158.5 L384.7,160.9 L385.1,163.2 L385.6,165.2 L386.0,167.2 L386.4,168.9 L386.8,170.6 L387.2,172.1 L387.6,173.4 L388.0,174.7 L388.5,175.8 L388.9,176.9 L389.3,177.8 L389.7,178.6 L390.1,179.4 L390.5,180.0 L390.9,180.6 L391.4,181.2 L391.8,181.7 L392.2,182.1 L392.6,182.4 L393.0,182.8 L393.4,183.1 L393.8,183.3 L394.3,183.5 L394.7,183.7 L395.1,183.9 L395.5,184.1 L395.9,184.2 L396.3,184.4 L396.7,184.5 L397.1,184.6 L397.6,184.8 L398.0,184.8 L398.4,184.9 L398.8,185.0 L399.2,185.0 L399.6,185.1 L400.0,185.1 L400.5,185.1 L400.9,185.1 L401.3,185.1 L401.7,185.1 L402.1,185.1 L402.5,185.1 L402.9,185.1 L403.4,185.1 L403.8,185.1 L404.2,185.1 L404.6,185.1 L405.0,185.1 L405.4,185.1 L405.8,185.1 L406.2,185.1 L406.7,185.1 L407.1,185.1 L407.5,185.1 L407.9,185.1 L408.3,185.1 L408.7,185.1 L409.1,185.1 L409.6,185.1 L410.0,185.1 L410.4,185.1 L410.8,185.1 L411.2,185.1 L411.6,185.1 L412.0,185.1 L412.5,185.1 L412.9,185.1 L413.3,185.1 L413.7,185.1 L414.1,185.1 L414.5,185.1 L414.9,185.1 L415.4,185.1 L415.8,185.1 L416.2,185.1 L416.6,185.1 L417.0,185.1 L417.4,185.1 L417.8,185.1 L418.2,185.1 L418.7,185.1 L419.1,185.1 L419.5,185.1 L419.9,185.1 L420.3,185.1 L420.7,185.1 L421.1,185.1 L421.6,185.1 L422.0,185.1 L422.4,185.1 L422.8,185.1 L423.2,185.1 L423.6,185.1 L424.0,185.1 L424.5,185.1 L424.9,185.1 L425.3,185.1 L425.7,185.1 L426.1,185.1 L426.5,185.1 L426.9,185.1 L427.4,185.1 L427.8,185.1 L428.2,185.1 L428.6,185.1 L429.0,185.1 L429.4,185.1 L429.8,185.1 L430.2,185.1 L430.7,185.1 L431.1,185.1 L431.5,185.1 L431.9,185.1 L432.3,185.1 L432.7,185.1 L433.1,185.1 L433.6,185.1 L434.0,185.1 L434.4,185.1 L434.8,185.1 L435.2,185.1 L435.6,185.1 L436.0,185.1 L436.5,185.1 L436.9,185.1 L437.3,185.1 L437.7,185.1 L438.1,185.1 L438.5,185.1 L438.9,185.1 L439.3,185.1 L439.8,185.1 L440.2,185.1 L440.6,185.1 L441.0,185.1 L441.4,185.1 L441.8,185.1 L442.2,185.1 L442.7,185.1 L443.1,185.1 L443.5,185.1 L443.9,185.1 L444.3,185.1 L444.7,185.1 L445.1,185.1 L445.6,185.1 L446.0,185.1 L446.4,185.1 L446.8,185.1 L447.2,185.1 L447.6,185.1 L448.0,185.1 L448.5,185.1 L448.9,185.1 L449.3,185.1 L449.7,185.1 L450.1,185.1 L450.5,185.1 L450.9,185.1 L451.3,185.1 L451.8,185.1 L452.2,185.1 L452.6,185.1 L453.0,185.1 L453.4,185.1 L453.8,185.1 L454.2,185.1 L454.7,185.1 L455.1,185.1 L455.5,185.1 L455.9,185.1 L456.3,185.1 L456.7,185.1 L457.1,185.1 L457.6,185.1 L458.0,185.1 L458.4,185.1 L458.8,185.1 L459.2,185.1 L459.6,185.1 L460.0,185.1 L460.5,185.1 L460.9,185.1 L461.3,185.1 L461.7,185.1 L462.1,185.1 L462.5,185.1 L462.9,185.1 L463.3,185.1 L463.8,185.1 L464.2,185.1 L464.6,185.1 L465.0,185.1 L465.4,185.1 L465.8,185.1 L466.2,185.1 L466.7,185.1 L467.1,185.1 L467.5,185.1 L467.9,185.1 L468.3,185.1 L468.7,185.1 L469.1,185.1 L469.6,185.1 L470.0,185.1 L470.4,185.1 L470.8,185.1 L471.2,185.1 L471.6,185.1 L472.0,185.1 L472.4,185.1 L472.9,185.1 L473.3,185.1 L473.7,185.1 L474.1,185.1 L474.5,185.1 L474.9,185.1 L475.3,185.1 L475.8,185.1 L476.2,185.1 L476.6,185.1 L477.0,185.1 L477.4,185.1 L477.8,185.1 L478.2,185.1 L478.7,185.1 L479.1,185.1 L479.5,185.1 L479.9,185.1 L480.3,185.1 L480.7,185.1 L481.1,185.1 L481.6,185.1 L482.0,185.1 L482.4,185.1" stroke="#8f1ccc"/>
<path d="M107.3,184.7 L119.4,184.7 L120.0,205.8 L120.5,206.8 L120.9,207.8 L121.4,208.9 L121.9,210.1 L122.3,211.3 L122.8,212.5 L123.3,213.8 L123.7,215.1 L124.3,216.9 L124.9,218.8 L125.5,220.9 L126.1,223.0 L126.7,225.2 L127.2,227.3 L127.8,229.5 L128.4,231.5 L129.3,234.6 L130.2,237.7 L131.1,240.8 L131.9,243.8 L132.8,246.8 L133.7,249.7 L134.6,252.4 L135.4,254.9 L136.3,257.4 L137.2,259.8 L138.1,262.1 L139.0,264.3 L139.8,266.4 L140.7,268.3 L141.6,270.0 L142.5,271.3 L143.3,272.5 L144.2,273.6 L145.1,274.6 L146.0,275.5 L146.9,276.3 L147.7,277.1 L148.6,277.7 L149.5,278.4 L150.4,278.9 L151.3,279.5 L152.1,280.0 L153.0,280.5 L153.9,281.0 L154.8,281.3 L155.6,281.6 L156.5,281.9 L157.7,282.1 L158.9,282.3 L160.0,282.5 L161.2,282.7 L162.4,282.8 L163.5,283.0 L164.7,283.0 L165.9,283.0 L167.1,283.0 L168.2,283.0 L169.4,283.0 L170.6,283.0 L171.7,283.0 L172.9,283.0 L174.1,283.0 L175.3,283.0 L176.7,283.0 L178.1,283.0 L179.6,283.0 L181.0,283.0 L182.5,283.0 L183.9,283.0 L185.4,283.0 L186.8,283.0 L186.8,160.4 L186.8,186.0 L187.2,186.0 L187.6,185.9 L188.0,185.9 L188.5,185.9 L188.9,185.9 L189.3,185.9 L189.7,185.9 L190.1,185.9 L190.5,185.8 L190.9,185.8 L191.3,185.8 L191.8,185.8 L192.2,185.8 L192.6,185.8 L193.0,185.7 L193.4,185.7 L193.8,185.7 L194.2,185.7 L194.7,185.7 L195.1,185.7 L195.5,185.6 L195.9,185.6 L196.3,185.6 L196.7,185.6 L197.1,185.6 L197.6,185.6 L198.0,185.5 L198.4,185.5 L198.8,185.5 L199.2,185.5 L199.6,185.5 L200.0,185.5 L200.4,185.4 L200.9,185.4 L201.3,185.4 L201.7,185.4 L202.1,185.4 L202.5,185.4 L202.9,185.3 L203.3,185.3 L203.8,185.3 L204.2,185.3 L204.6,185.3 L205.0,185.3 L205.4,185.2 L205.8,185.2 L206.2,185.2 L206.7,185.2 L207.1,185.2 L207.5,185.1 L207.9,185.1 L208.3,185.1 L208.7,185.1 L209.1,185.1 L209.6,185.1 L210.0,185.0 L210.4,185.0 L210.8,185.0 L211.2,185.0 L211.6,185.0 L212.0,185.0 L212.4,184.9 L212.9,184.9 L213.3,184.9 L213.7,184.9 L214.1,184.9 L214.5,184.8 L214.9,184.8 L215.3,184.8 L215.8,184.8 L216.2,184.8 L216.6,184.7 L217.0,184.7 L217.4,184.7 L217.8,184.7 L218.2,184.7 L218.7,184.6 L219.1,184.6 L219.5,184.6 L219.9,184.6 L220.3,184.5 L220.7,184.5 L221.1,184.5 L221.6,184.5 L222.0,184.5 L222.4,184.4 L222.8,184.4 L223.2,184.4 L223.6,184.4 L224.0,184.3 L224.4,184.3 L224.9,184.3 L225.3,184.3 L225.7,184.2 L226.1,184.2 L226.5,184.2 L226.9,184.2 L227.3,184.1 L227.8,184.1 L228.2,184.1 L228.6,184.1 L229.0,184.0 L229.4,184.0 L229.8,184.0 L230.2,184.0 L230.7,183.9 L231.1,183.9 L231.5,183.9 L231.9,183.9 L232.3,183.8 L232.7,183.8 L233.1,183.8 L233.5,183.7 L234.0,183.7 L234.4,183.7 L234.8,183.6 L235.2,183.6 L235.6,183.6 L236.0,183.5 L236.4,183.5 L236.9,183.5 L237.3,183.4 L237.7,183.4 L238.1,183.4 L238.5,183.3 L238.9,183.3 L239.3,183.3 L239.8,183.2 L240.2,183.2 L240.6,183.2 L241.0,183.1 L241.4,183.1 L241.8,183.1 L242.2,183.0 L242.7,183.0 L243.1,182.9 L243.5,182.9 L243.9,182.9 L244.3,182.8 L244.7,182.8 L245.1,182.7 L245.5,182.7 L246.0,182.6 L246.4,182.6 L246.8,182.6 L247.2,182.5 L247.6,182.5 L248.0,182.4 L248.4,182.4 L248.9,182.3 L249.3,182.3 L249.7,182.2 L250.1,182.2 L250.5,182.1 L250.9,182.1 L251.3,182.0 L251.8,182.0 L252.2,181.9 L252.6,181.9 L253.0,181.8 L253.4,181.8 L253.8,181.7 L254.2,181.6 L254.7,181.6 L255.1,181.5 L255.5,181.5 L255.9,181.4 L256.3,181.4 L256.7,181.3 L257.1,181.2 L257.5,181.2 L258.0,181.1 L258.4,181.0 L258.8,181.0 L259.2,180.9 L259.6,180.8 L260.0,180.8 L260.4,180.7 L260.9,180.6 L261.3,180.6 L261.7,180.5 L262.1,180.4 L262.5,180.3 L262.9,180.3 L263.3,180.2 L263.8,180.1 L264.2,180.0 L264.6,179.9 L265.0,179.9 L265.4,179.8 L265.8,179.7 L266.2,179.6 L266.6,179.5 L267.1,179.4 L267.5,179.3 L267.9,179.3 L268.3,179.2 L268.7,179.1 L269.1,179.0 L269.5,178.9 L270.0,178.8 L270.4,178.7 L270.8,178.6 L271.2,178.5 L271.6,178.4 L272.0,178.3 L272.4,178.1 L272.9,178.0 L273.3,177.9 L273.7,177.8 L274.1,177.7 L274.5,177.6 L274.9,177.5 L275.3,177.3 L275.8,177.2 L276.2,177.1 L276.6,176.9 L277.0,176.8 L277.4,176.7 L277.8,176.5 L278.2,176.4 L278.6,176.3 L279.1,176.1 L279.5,176.0 L279.9,175.8 L280.3,175.7 L280.7,175.5 L281.1,175.3 L281.5,175.2 L282.0,175.0 L282.4,174.8 L282.8,174.7 L283.2,174.5 L283.6,174.3 L284.0,174.1 L284.4,173.9 L284.9,173.7 L285.3,173.5 L285.7,173.3 L286.1,173.1 L286.5,172.9 L286.9,172.7 L287.3,172.5 L287.8,172.2 L288.2,172.0 L288.6,171.8 L289.0,171.5 L289.4,171.3 L289.8,171.0 L290.2,170.7 L290.6,170.5 L291.1,170.2 L291.5,169.9 L291.9,169.6 L292.3,169.3 L292.7,169.0 L293.1,168.7 L293.5,168.4 L294.0,168.1 L294.4,167.7 L294.8,167.4 L295.2,167.0 L295.6,166.7 L296.0,166.3 L296.4,165.9 L296.9,165.5 L297.3,165.1 L297.7,164.7 L298.1,164.2 L298.5,163.8 L298.9,163.3 L299.3,162.8 L299.7,162.4 L300.2,161.9 L300.6,161.3 L301.0,160.8 L301.4,160.2 L301.8,159.7 L302.2,159.1 L302.6,158.5 L303.1,157.9 L303.5,157.2 L303.9,156.5 L304.3,155.9 L304.7,155.1 L305.1,154.4 L305.5,153.6 L306.0,152.8 L306.4,152.0 L306.8,151.2 L307.2,150.3 L307.6,149.4 L308.0,148.5 L308.4,147.5 L308.9,146.5 L309.3,145.4 L309.7,144.4 L310.1,143.2 L310.5,142.1 L310.9,140.9 L311.3,139.6 L311.7,138.3 L312.2,137.0 L312.6,135.6 L313.0,134.1 L313.4,132.6 L313.8,131.1 L314.2,129.4 L314.6,127.8 L315.1,126.0 L315.5,124.2 L315.9,122.3 L316.3,120.4 L316.7,118.3 L317.1,116.3 L317.5,114.1 L318.0,111.8 L318.4,109.5 L318.8,107.1 L319.2,104.6 L319.6,102.1 L320.0,99.4 L320.4,96.7 L320.9,93.9 L321.3,91.0 L321.7,88.1 L322.1,85.1 L322.5,82.0 L322.9,78.9 L323.3,75.7 L323.7,72.5 L324.2,69.2 L324.6,65.9 L325.0,62.7 L325.4,59.4 L325.8,56.1 L326.2,52.9 L326.6,49.8 L327.1,46.7 L327.5,43.8 L327.9,40.9 L328.3,38.2 L328.7,35.7 L329.1,33.4 L329.5,31.3 L330.0,29.5 L330.4,27.9 L330.8,26.7 L331.2,25.7 L331.6,25.2 L332.0,24.9 L332.4,25.1 L332.8,25.7 L333.3,26.7 L333.7,28.1 L334.1,30.0 L334.5,32.3 L334.9,34.9 L335.3,38.0 L335.7,41.4 L336.2,45.1 L336.6,49.2 L337.0,53.5 L337.4,58.1 L337.8,62.8 L338.2,67.8 L338.6,72.8 L339.1,78.0 L339.5,83.2 L339.9,88.5 L340.3,93.8 L340.7,99.0 L341.1,104.1 L341.5,109.2 L342.0,114.2 L342.4,119.0 L342.8,123.7 L343.2,128.3 L343.6,132.6 L344.0,136.7 L344.4,140.7 L344.8,144.4 L345.3,148.0 L345.7,151.3 L346.1,154.4 L346.5,157.3 L346.9,160.0 L347.3,162.5 L347.7,164.8 L348.2,167.0 L348.6,168.9 L349.0,170.7 L349.4,172.3 L349.8,173.8 L350.2,175.1 L350.6,176.3 L351.1,177.3 L351.5,178.3 L351.9,179.1 L352.3,179.9 L352.7,180.5 L353.1,181.1 L353.5,181.6 L354.0,182.1 L354.4,182.5 L354.8,182.8 L355.2,183.1 L355.6,183.4 L356.0,183.6 L356.4,183.8 L356.8,184.0 L357.3,184.2 L357.7,184.4 L358.1,184.5 L358.5,184.7 L358.9,184.8 L359.3,184.9 L359.7,185.0 L360.2,185.0 L360.6,185.1 L361.0,185.1 L361.4,185.1 L361.8,185.1 L362.2,185.1 L362.6,185.1 L363.1,185.1 L363.5,185.1 L363.9,185.1 L364.3,185.1 L364.7,185.1 L365.1,185.1 L365.5,185.1 L365.9,185.1 L366.4,185.1 L366.8,185.1 L367.2,185.1 L367.6,185.1 L368.0,185.1 L368.4,185.1 L368.8,185.1 L369.3,185.1 L369.7,185.1 L370.1,185.1 L370.5,185.1 L370.9,185.1 L371.3,185.1 L371.7,185.1 L372.2,185.1 L372.6,185.1 L373.0,185.1 L373.4,185.1 L373.8,185.1 L374.2,185.1 L374.6,185.1 L375.1,185.1 L375.5,185.1 L375.9,185.1 L376.3,185.1 L376.7,185.1 L377.1,185.1 L377.5,185.1 L377.9,185.1 L378.4,185.1 L378.8,185.1 L379.2,185.1 L379.6,185.1 L380.0,185.1 L380.4,185.1 L380.8,185.1 L381.3,185.1 L381.7,185.1 L382.1,185.1 L382.5,185.1 L382.9,185.1 L383.3,185.1 L383.7,185.1 L384.2,185.1 L384.6,185.1 L385.0,185.1 L385.4,185.1 L385.8,185.1 L386.2,185.1 L386.6,185.1 L387.1,185.1 L387.5,185.1 L387.9,185.1 L388.3,185.1 L388.7,185.1 L389.1,185.1 L389.5,185.1 L389.9,185.1 L390.4,185.1 L390.8,185.1 L391.2,185.1 L391.6,185.1 L392.0,185.1 L392.4,185.1 L392.8,185.1 L393.3,185.1 L393.7,185.1 L394.1,185.1 L394.5,185.1 L394.9,185.1 L395.3,185.1 L395.7,185.1 L396.2,185.1 L396.6,185.1 L397.0,185.1 L397.4,185.1 L397.8,185.1 L398.2,185.1 L398.6,185.1 L399.0,185.1 L399.5,185.1 L399.9,185.1 L400.3,185.1 L400.7,185.1 L401.1,185.1 L401.5,185.1 L401.9,185.1 L402.4,185.1 L402.8,185.1 L403.2,185.1 L403.6,185.1 L404.0,185.1 L404.4,185.1 L404.8,185.1 L405.3,185.1 L405.7,185.1 L406.1,185.1 L406.5,185.1 L406.9,185.1 L407.3,185.1 L407.7,185.1 L408.2,185.1 L408.6,185.1 L409.0,185.1 L409.4,185.1 L409.8,185.1 L410.2,185.1 L410.6,185.1 L411.0,185.1 L411.5,185.1 L411.9,185.1 L412.3,185.1 L412.7,185.1 L413.1,185.1 L413.5,185.1 L413.9,185.1 L414.4,185.1 L414.8,185.1 L415.2,185.1 L415.6,185.1 L416.0,185.1 L416.4,185.1 L416.8,185.1 L417.3,185.1 L417.7,185.1 L418.1,185.1 L418.5,185.1 L418.9,185.1 L419.3,185.1 L419.7,185.1 L420.2,185.1 L420.6,185.1 L421.0,185.1 L421.4,185.1 L421.8,185.1 L422.2,185.1 L422.6,185.1 L423.0,185.1 L423.5,185.1 L423.9,185.1 L424.3,185.1 L424.7,185.1 L425.1,185.1 L425.5,185.1 L425.9,185.1 L426.4,185.1 L426.8,185.1 L427.2,185.1 L427.6,185.1 L428.0,185.1 L428.4,185.1 L428.8,185.1 L429.3,185.1 L429.7,185.1 L430.1,185.1 L430.5,185.1 L430.9,185.1 L431.3,185.1 L431.7,185.1 L432.1,185.1" stroke="#30de34"/>
<path d="M107.3,184.7 L119.4,184.7 L120.0,273.7 L120.2,284.4 L120.3,294.8 L120.5,304.7 L120.7,314.1 L120.9,322.8 L121.0,330.8 L121.2,337.9 L121.4,343.9 L121.6,351.1 L121.9,357.8 L122.1,364.0 L122.3,369.6 L122.6,374.7 L122.8,379.1 L123.0,382.9 L123.3,386.1 L123.6,389.5 L123.9,392.5 L124.1,395.3 L124.4,397.8 L124.7,400.0 L125.0,401.9 L125.3,403.5 L125.6,404.8 L125.9,405.9 L126.1,407.0 L126.4,407.9 L126.7,408.8 L126.9,409.6 L127.2,410.2 L127.5,410.5 L127.7,410.7 L128.1,410.6 L128.5,410.3 L128.9,410.0 L129.2,409.5 L129.6,408.9 L130.0,408.3 L130.4,407.7 L130.8,407.2 L131.3,406.2 L131.9,405.1 L132.5,403.9 L133.1,402.6 L133.7,401.3 L134.3,400.0 L134.9,398.8 L135.4,397.8 L136.3,396.4 L137.2,395.2 L138.1,394.1 L139.0,393.0 L139.8,391.9 L140.7,390.8 L141.6,389.7 L142.5,388.4 L142.8,387.9 L143.2,387.3 L143.5,386.8 L143.9,386.2 L144.3,385.6 L144.6,385.0 L145.0,384.4 L145.3,383.7 L145.3,137.9 L145.3,186.1 L145.8,186.0 L146.2,186.0 L146.6,186.0 L147.0,186.0 L147.4,186.0 L147.8,186.0 L148.2,186.0 L148.6,185.9 L149.1,185.9 L149.5,185.9 L149.9,185.9 L150.3,185.9 L150.7,185.9 L151.1,185.9 L151.5,185.8 L152.0,185.8 L152.4,185.8 L152.8,185.8 L153.2,185.8 L153.6,185.8 L154.0,185.7 L154.4,185.7 L154.9,185.7 L155.3,185.7 L155.7,185.7 L156.1,185.7 L156.5,185.7 L156.9,185.6 L157.3,185.6 L157.8,185.6 L158.2,185.6 L158.6,185.6 L159.0,185.6 L159.4,185.6 L159.8,185.5 L160.2,185.5 L160.6,185.5 L161.1,185.5 L161.5,185.5 L161.9,185.5 L162.3,185.4 L162.7,185.4 L163.1,185.4 L163.5,185.4 L164.0,185.4 L164.4,185.4 L164.8,185.4 L165.2,185.3 L165.6,185.3 L166.0,185.3 L166.4,185.3 L166.9,185.3 L167.3,185.3 L167.7,185.2 L168.1,185.2 L168.5,185.2 L168.9,185.2 L169.3,185.2 L169.7,185.2 L170.2,185.2 L170.6,185.1 L171.0,185.1 L171.4,185.1 L171.8,185.1 L172.2,185.1 L172.6,185.1 L173.1,185.0 L173.5,185.0 L173.9,185.0 L174.3,185.0 L174.7,185.0 L175.1,185.0 L175.5,184.9 L176.0,184.9 L176.4,184.9 L176.8,184.9 L177.2,184.9 L177.6,184.8 L178.0,184.8 L178.4,184.8 L178.9,184.8 L179.3,184.8 L179.7,184.8 L180.1,184.7 L180.5,184.7 L180.9,184.7 L181.3,184.7 L181.7,184.7 L182.2,184.6 L182.6,184.6 L183.0,184.6 L183.4,184.6 L183.8,184.6 L184.2,184.5 L184.6,184.5 L185.1,184.5 L185.5,184.5 L185.9,184.5 L186.3,184.4 L186.7,184.4 L187.1,184.4 L187.5,184.4 L188.0,184.3 L188.4,184.3 L188.8,184.3 L189.2,184.3 L189.6,184.2 L190.0,184.2 L190.4,184.2 L190.9,184.2 L191.3,184.2 L191.7,184.1 L192.1,184.1 L192.5,184.1 L192.9,184.0 L193.3,184.0 L193.7,184.0 L194.2,184.0 L194.6,183.9 L195.0,183.9 L195.4,183.9 L195.8,183.9 L196.2,183.8 L196.6,183.8 L197.1,183.8 L197.5,183.7 L197.9,183.7 L198.3,183.7 L198.7,183.6 L199.1,183.6 L199.5,183.6 L200.0,183.5 L200.4,183.5 L200.8,183.5 L201.2,183.4 L201.6,183.4 L202.0,183.4 L202.4,183.3 L202.8,183.3 L203.3,183.3 L203.7,183.2 L204.1,183.2 L204.5,183.2 L204.9,183.1 L205.3,183.1 L205.7,183.0 L206.2,183.0 L206.6,183.0 L207.0,182.9 L207.4,182.9 L207.8,182.8 L208.2,182.8 L208.6,182.7 L209.1,182.7 L209.5,182.7 L209.9,182.6 L210.3,182.6 L210.7,182.5 L211.1,182.5 L211.5,182.4 L212.0,182.4 L212.4,182.3 L212.8,182.3 L213.2,182.2 L213.6,182.2 L214.0,182.1 L214.4,182.1 L214.8,182.0 L215.3,182.0 L215.7,181.9 L216.1,181.8 L216.5,181.8 L216.9,181.7 L217.3,181.7 L217.7,181.6 L218.2,181.5 L218.6,181.5 L219.0,181.4 L219.4,181.4 L219.8,181.3 L220.2,181.2 L220.6,181.2 L221.1,181.1 L221.5,181.0 L221.9,181.0 L222.3,180.9 L222.7,180.8 L223.1,180.7 L223.5,180.7 L224.0,180.6 L224.4,180.5 L224.8,180.4 L225.2,180.4 L225.6,180.3 L226.0,180.2 L226.4,180.1 L226.8,180.0 L227.3,180.0 L227.7,179.9 L228.1,179.8 L228.5,179.7 L228.9,179.6 L229.3,179.5 L229.7,179.4 L230.2,179.3 L230.6,179.2 L231.0,179.2 L231.4,179.1 L231.8,179.0 L232.2,178.9 L232.6,178.8 L233.1,178.7 L233.5,178.6 L233.9,178.5 L234.3,178.3 L234.7,178.2 L235.1,178.1 L235.5,178.0 L235.9,177.9 L236.4,177.8 L236.8,177.7 L237.2,177.6 L237.6,177.4 L238.0,177.3 L238.4,177.2 L238.8,177.1 L239.3,176.9 L239.7,176.8 L240.1,176.7 L240.5,176.5 L240.9,176.4 L241.3,176.3 L241.7,176.1 L242.2,176.0 L242.6,175.9 L243.0,175.7 L243.4,175.6 L243.8,175.4 L244.2,175.3 L244.6,175.1 L245.1,174.9 L245.5,174.8 L245.9,174.6 L246.3,174.4 L246.7,174.3 L247.1,174.1 L247.5,173.9 L247.9,173.7 L248.4,173.6 L248.8,173.4 L249.2,173.2 L249.6,173.0 L250.0,172.8 L250.4,172.6 L250.8,172.4 L251.3,172.2 L251.7,172.0 L252.1,171.8 L252.5,171.5 L252.9,171.3 L253.3,171.1 L253.7,170.9 L254.2,170.6 L254.6,170.4 L255.0,170.1 L255.4,169.9 L255.8,169.6 L256.2,169.4 L256.6,169.1 L257.1,168.8 L257.5,168.5 L257.9,168.2 L258.3,167.9 L258.7,167.6 L259.1,167.3 L259.5,167.0 L259.9,166.7 L260.4,166.4 L260.8,166.0 L261.2,165.7 L261.6,165.3 L262.0,165.0 L262.4,164.6 L262.8,164.2 L263.3,163.8 L263.7,163.4 L264.1,163.0 L264.5,162.6 L264.9,162.1 L265.3,161.7 L265.7,161.2 L266.2,160.7 L266.6,160.3 L267.0,159.8 L267.4,159.2 L267.8,158.7 L268.2,158.2 L268.6,157.6 L269.0,157.0 L269.5,156.4 L269.9,155.8 L270.3,155.2 L270.7,154.5 L271.1,153.9 L271.5,153.2 L271.9,152.4 L272.4,151.7 L272.8,150.9 L273.2,150.1 L273.6,149.3 L274.0,148.5 L274.4,147.6 L274.8,146.7 L275.3,145.8 L275.7,144.8 L276.1,143.8 L276.5,142.7 L276.9,141.7 L277.3,140.5 L277.7,139.4 L278.2,138.2 L278.6,136.9 L279.0,135.6 L279.4,134.3 L279.8,132.9 L280.2,131.4 L280.6,129.9 L281.0,128.4 L281.5,126.8 L281.9,125.1 L282.3,123.3 L282.7,121.5 L283.1,119.6 L283.5,117.6 L283.9,115.6 L284.4,113.5 L284.8,111.2 L285.2,109.0 L285.6,106.6 L286.0,104.1 L286.4,101.5 L286.8,98.9 L287.3,96.1 L287.7,93.3 L288.1,90.3 L288.5,87.3 L288.9,84.2 L289.3,81.0 L289.7,77.7 L290.2,74.3 L290.6,70.8 L291.0,67.3 L291.4,63.7 L291.8,60.1 L292.2,56.5 L292.6,52.9 L293.0,49.3 L293.5,45.8 L293.9,42.3 L294.3,39.0 L294.7,35.9 L295.1,32.9 L295.5,30.3 L295.9,27.9 L296.4,26.0 L296.8,24.4 L297.2,23.3 L297.6,22.8 L298.0,22.8 L298.4,23.3 L298.8,24.4 L299.3,26.0 L299.7,28.2 L300.1,30.9 L300.5,34.0 L300.9,37.6 L301.3,41.7 L301.7,46.1 L302.1,50.8 L302.6,55.8 L303.0,61.0 L303.4,66.5 L303.8,72.0 L304.2,77.7 L304.6,83.5 L305.0,89.3 L305.5,95.0 L305.9,100.7 L306.3,106.3 L306.7,111.8 L307.1,117.1 L307.5,122.3 L307.9,127.2 L308.4,132.0 L308.8,136.5 L309.2,140.8 L309.6,144.8 L310.0,148.6 L310.4,152.1 L310.8,155.4 L311.3,158.5 L311.7,161.3 L312.1,163.9 L312.5,166.3 L312.9,168.4 L313.3,170.4 L313.7,172.1 L314.1,173.7 L314.6,175.1 L315.0,176.4 L315.4,177.5 L315.8,178.5 L316.2,179.4 L316.6,180.2 L317.0,180.8 L317.5,181.4 L317.9,181.9 L318.3,182.4 L318.7,182.8 L319.1,183.1 L319.5,183.4 L319.9,183.7 L320.4,183.9 L320.8,184.1 L321.2,184.3 L321.6,184.5 L322.0,184.6 L322.4,184.8 L322.8,184.9 L323.3,185.0 L323.7,185.0 L324.1,185.1 L324.5,185.1 L324.9,185.1 L325.3,185.1 L325.7,185.1 L326.1,185.1 L326.6,185.1 L327.0,185.2 L327.4,185.2 L327.8,185.2 L328.2,185.2 L328.6,185.2 L329.0,185.2 L329.5,185.2 L329.9,185.2 L330.3,185.2 L330.7,185.2 L331.1,185.2 L331.5,185.2 L331.9,185.2 L332.4,185.2 L332.8,185.2 L333.2,185.2 L333.6,185.2 L334.0,185.2 L334.4,185.2 L334.8,185.2 L335.2,185.2 L335.7,185.2 L336.1,185.2 L336.5,185.2 L336.9,185.2 L337.3,185.2 L337.7,185.2 L338.1,185.2 L338.6,185.2 L339.0,185.2 L339.4,185.2 L339.8,185.2 L340.2,185.2 L340.6,185.2 L341.0,185.2 L341.5,185.2 L341.9,185.2 L342.3,185.2 L342.7,185.2 L343.1,185.2 L343.5,185.2 L343.9,185.2 L344.4,185.2 L344.8,185.2 L345.2,185.2 L345.6,185.2 L346.0,185.2 L346.4,185.2 L346.8,185.2 L347.2,185.2 L347.7,185.2 L348.1,185.2 L348.5,185.2 L348.9,185.2 L349.3,185.2 L349.7,185.2 L350.1,185.2 L350.6,185.2 L351.0,185.2 L351.4,185.2 L351.8,185.2 L352.2,185.2 L352.6,185.2 L353.0,185.2 L353.5,185.2 L353.9,185.2 L354.3,185.2 L354.7,185.2 L355.1,185.2 L355.5,185.2 L355.9,185.2 L356.4,185.2 L356.8,185.2 L357.2,185.2 L357.6,185.2 L358.0,185.2 L358.4,185.2 L358.8,185.2 L359.2,185.2 L359.7,185.2 L360.1,185.2 L360.5,185.2 L360.9,185.2 L361.3,185.2 L361.7,185.2 L362.1,185.2 L362.6,185.2 L363.0,185.2 L363.4,185.2 L363.8,185.2 L364.2,185.2 L364.6,185.2 L365.0,185.2 L365.5,185.2 L365.9,185.2 L366.3,185.2 L366.7,185.2 L367.1,185.2 L367.5,185.2 L367.9,185.2 L368.3,185.2 L368.8,185.2 L369.2,185.2 L369.6,185.2 L370.0,185.2 L370.4,185.2 L370.8,185.2 L371.2,185.2 L371.7,185.2 L372.1,185.2 L372.5,185.2 L372.9,185.2 L373.3,185.2 L373.7,185.2 L374.1,185.2 L374.6,185.2 L375.0,185.2 L375.4,185.2 L375.8,185.2 L376.2,185.2 L376.6,185.2 L377.0,185.2 L377.5,185.2 L377.9,185.2 L378.3,185.2 L378.7,185.2 L379.1,185.2 L379.5,185.2 L379.9,185.2 L380.3,185.2 L380.8,185.2 L381.2,185.2 L381.6,185.2 L382.0,185.2 L382.4,185.2 L382.8,185.2 L383.2,185.2 L383.7,185.2 L384.1,185.2 L384.5,185.2 L384.9,185.2 L385.3,185.2 L385.7,185.2 L386.1,185.2 L386.6,185.2 L387.0,185.2 L387.4,185.2 L387.8,185.2 L388.2,185.2 L388.6,185.2 L389.0,185.2 L389.5,185.2 L389.9,185.2 L390.3,185.2 L390.7,185.2 L391.1,185.2 L391.5,185.2 L391.9,185.2 L392.3,185.2 L392.8,185.2 L393.2,185.2 L393.6,185.2 L394.0,185.2 L394.4,185.2 L394.8,185.2 L395.2,185.2 L395.7,185.2 L396.1,185.2 L396.5,185.2 L396.9,185.2 L397.3,185.2 L397.7,185.2 L398.1,185.2 L398.6,185.2 L399.0,185.2 L399.4,185.2 L399.8,185.2 L400.2,185.2 L400.6,185.2 L401.0,185.2 L401.4,185.2 L401.9,185.2 L402.3,185.2 L402.7,185.2 L403.1,185.2 L403.5,185.2 L403.9,185.2 L404.3,185.2 L404.8,185.2 L405.2,185.2 L405.6,185.2 L406.0,185.2 L406.4,185.2 L406.8,185.2 L407.2,185.2 L407.7,185.2 L408.1,185.2 L408.5,185.2 L408.9,185.2 L409.3,185.2 L409.7,185.2 L410.1,185.2 L410.6,185.2 L411.0,185.2 L411.4,185.2 L411.8,185.2 L412.2,185.2 L412.6,185.2 L413.0,185.2 L413.4,185.2 L413.9,185.2 L414.3,185.2 L414.7,185.2 L415.1,185.2 L415.5,185.2 L415.9,185.2 L416.3,185.2 L416.8,185.2 L417.2,185.2 L417.6,185.2 L418.0,185.2 L418.4,185.2 L418.8,185.2 L419.2,185.2 L419.7,185.2 L420.1,185.2 L420.5,185.2 L420.9,185.2 L421.3,185.2 L421.7,185.2 L422.1,185.2 L422.6,185.2 L423.0,185.2 L423.4,185.2 L423.8,185.2 L424.2,185.2 L424.6,185.2 L425.0,185.2 L425.4,185.2 L425.9,185.2 L426.3,185.2 L426.7,185.2 L427.1,185.2 L427.5,185.2 L427.9,185.2 L428.3,185.2 L428.8,185.2 L429.2,185.2 L429.6,185.2 L430.0,185.2 L430.4,185.2 L430.8,185.2 L431.2,185.2 L431.7,185.2 L432.1,185.2" stroke="#000000"/>
<path d="M107.3,184.7 L119.4,184.7 L120.0,320.5 L120.2,335.4 L120.3,349.9 L120.5,363.8 L120.7,376.7 L120.9,388.5 L121.0,398.9 L121.2,407.5 L121.4,414.2 L121.7,422.2 L121.9,429.4 L122.2,435.9 L122.4,441.5 L122.7,446.4 L123.0,450.5 L123.2,453.8 L123.5,456.3 L123.8,458.9 L124.1,461.3 L124.5,463.5 L124.8,465.4 L125.1,467.0 L125.4,468.2 L125.8,469.0 L126.1,469.2 L126.4,469.0 L126.7,468.4 L127.0,467.4 L127.4,466.3 L127.7,465.0 L128.0,463.6 L128.3,462.3 L128.7,461.0 L129.2,458.9 L129.8,456.6 L130.3,454.2 L130.9,451.7 L131.4,449.2 L132.0,446.7 L132.5,444.4 L133.1,442.3 L134.0,439.1 L134.9,435.9 L135.8,432.9 L136.7,430.0 L137.6,427.3 L138.6,424.7 L139.5,422.3 L140.4,420.0 L140.4,160.4 L140.4,186.1 L140.8,186.1 L141.2,186.1 L141.6,186.1 L142.0,186.0 L142.4,186.0 L142.9,186.0 L143.3,186.0 L143.7,186.0 L144.1,186.0 L144.5,186.0 L144.9,185.9 L145.3,185.9 L145.8,185.9 L146.2,185.9 L146.6,185.9 L147.0,185.9 L147.4,185.9 L147.8,185.8 L148.2,185.8 L148.6,185.8 L149.1,185.8 L149.5,185.8 L149.9,185.8 L150.3,185.8 L150.7,185.7 L151.1,185.7 L151.5,185.7 L152.0,185.7 L152.4,185.7 L152.8,185.7 L153.2,185.7 L153.6,185.6 L154.0,185.6 L154.4,185.6 L154.9,185.6 L155.3,185.6 L155.7,185.6 L156.1,185.6 L156.5,185.5 L156.9,185.5 L157.3,185.5 L157.8,185.5 L158.2,185.5 L158.6,185.5 L159.0,185.5 L159.4,185.4 L159.8,185.4 L160.2,185.4 L160.6,185.4 L161.1,185.4 L161.5,185.4 L161.9,185.4 L162.3,185.3 L162.7,185.3 L163.1,185.3 L163.5,185.3 L164.0,185.3 L164.4,185.3 L164.8,185.2 L165.2,185.2 L165.6,185.2 L166.0,185.2 L166.4,185.2 L166.9,185.2 L167.3,185.2 L167.7,185.1 L168.1,185.1 L168.5,185.1 L168.9,185.1 L169.3,185.1 L169.7,185.1 L170.2,185.1 L170.6,185.0 L171.0,185.0 L171.4,185.0 L171.8,185.0 L172.2,185.0 L172.6,185.0 L173.1,184.9 L173.5,184.9 L173.9,184.9 L174.3,184.9 L174.7,184.9 L175.1,184.9 L175.5,184.8 L176.0,184.8 L176.4,184.8 L176.8,184.8 L177.2,184.8 L177.6,184.8 L178.0,184.7 L178.4,184.7 L178.9,184.7 L179.3,184.7 L179.7,184.7 L180.1,184.6 L180.5,184.6 L180.9,184.6 L181.3,184.6 L181.7,184.6 L182.2,184.5 L182.6,184.5 L183.0,184.5 L183.4,184.5 L183.8,184.5 L184.2,184.4 L184.6,184.4 L185.1,184.4 L185.5,184.4 L185.9,184.4 L186.3,184.3 L186.7,184.3 L187.1,184.3 L187.5,184.3 L188.0,184.2 L188.4,184.2 L188.8,184.2 L189.2,184.2 L189.6,184.2 L190.0,184.1 L190.4,184.1 L190.9,184.1 L191.3,184.1 L191.7,184.0 L192.1,184.0 L192.5,184.0 L192.9,183.9 L193.3,183.9 L193.7,183.9 L194.2,183.9 L194.6,183.8 L195.0,183.8 L195.4,183.8 L195.8,183.7 L196.2,183.7 L196.6,183.7 L197.1,183.7 L197.5,183.6 L197.9,183.6 L198.3,183.6 L198.7,183.5 L199.1,183.5 L199.5,183.5 L200.0,183.4 L200.4,183.4 L200.8,183.4 L201.2,183.3 L201.6,183.3 L202.0,183.2 L202.4,183.2 L202.8,183.2 L203.3,183.1 L203.7,183.1 L204.1,183.1 L204.5,183.0 L204.9,183.0 L205.3,182.9 L205.7,182.9 L206.2,182.8 L206.6,182.8 L207.0,182.8 L207.4,182.7 L207.8,182.7 L208.2,182.6 L208.6,182.6 L209.1,182.5 L209.5,182.5 L209.9,182.4 L210.3,182.4 L210.7,182.3 L211.1,182.3 L211.5,182.2 L212.0,182.2 L212.4,182.1 L212.8,182.1 L213.2,182.0 L213.6,182.0 L214.0,181.9 L214.4,181.9 L214.8,181.8 L215.3,181.7 L215.7,181.7 L216.1,181.6 L216.5,181.6 L216.9,181.5 L217.3,181.4 L217.7,181.4 L218.2,181.3 L218.6,181.2 L219.0,181.2 L219.4,181.1 L219.8,181.0 L220.2,181.0 L220.6,180.9 L221.1,180.8 L221.5,180.7 L221.9,180.7 L222.3,180.6 L222.7,180.5 L223.1,180.4 L223.5,180.4 L224.0,180.3 L224.4,180.2 L224.8,180.1 L225.2,180.0 L225.6,179.9 L226.0,179.9 L226.4,179.8 L226.8,179.7 L227.3,179.6 L227.7,179.5 L228.1,179.4 L228.5,179.3 L228.9,179.2 L229.3,179.1 L229.7,179.0 L230.2,178.9 L230.6,178.8 L231.0,178.7 L231.4,178.6 L231.8,178.5 L232.2,178.4 L232.6,178.3 L233.1,178.2 L233.5,178.1 L233.9,178.0 L234.3,177.9 L234.7,177.7 L235.1,177.6 L235.5,177.5 L235.9,177.4 L236.4,177.2 L236.8,177.1 L237.2,177.0 L237.6,176.9 L238.0,176.7 L238.4,176.6 L238.8,176.5 L239.3,176.3 L239.7,176.2 L240.1,176.0 L240.5,175.9 L240.9,175.7 L241.3,175.6 L241.7,175.4 L242.2,175.3 L242.6,175.1 L243.0,175.0 L243.4,174.8 L243.8,174.6 L244.2,174.5 L244.6,174.3 L245.1,174.1 L245.5,173.9 L245.9,173.7 L246.3,173.6 L246.7,173.4 L247.1,173.2 L247.5,173.0 L247.9,172.8 L248.4,172.6 L248.8,172.4 L249.2,172.1 L249.6,171.9 L250.0,171.7 L250.4,171.5 L250.8,171.3 L251.3,171.0 L251.7,170.8 L252.1,170.5 L252.5,170.3 L252.9,170.0 L253.3,169.8 L253.7,169.5 L254.2,169.2 L254.6,168.9 L255.0,168.7 L255.4,168.4 L255.8,168.1 L256.2,167.8 L256.6,167.4 L257.1,167.1 L257.5,166.8 L257.9,166.4 L258.3,166.1 L258.7,165.7 L259.1,165.4 L259.5,165.0 L259.9,164.6 L260.4,164.2 L260.8,163.8 L261.2,163.4 L261.6,163.0 L262.0,162.6 L262.4,162.1 L262.8,161.6 L263.3,161.2 L263.7,160.7 L264.1,160.2 L264.5,159.7 L264.9,159.1 L265.3,158.6 L265.7,158.0 L266.2,157.4 L266.6,156.8 L267.0,156.2 L267.4,155.6 L267.8,154.9 L268.2,154.2 L268.6,153.5 L269.0,152.8 L269.5,152.0 L269.9,151.2 L270.3,150.4 L270.7,149.6 L271.1,148.7 L271.5,147.9 L271.9,146.9 L272.4,146.0 L272.8,145.0 L273.2,144.0 L273.6,142.9 L274.0,141.8 L274.4,140.6 L274.8,139.4 L275.3,138.2 L275.7,136.9 L276.1,135.6 L276.5,134.2 L276.9,132.8 L277.3,131.3 L277.7,129.7 L278.2,128.1 L278.6,126.4 L279.0,124.7 L279.4,122.8 L279.8,120.9 L280.2,119.0 L280.6,116.9 L281.0,114.8 L281.5,112.6 L281.9,110.3 L282.3,107.9 L282.7,105.4 L283.1,102.8 L283.5,100.2 L283.9,97.4 L284.4,94.5 L284.8,91.5 L285.2,88.5 L285.6,85.3 L286.0,82.1 L286.4,78.7 L286.8,75.3 L287.3,71.8 L287.7,68.3 L288.1,64.7 L288.5,61.1 L288.9,57.4 L289.3,53.8 L289.7,50.2 L290.2,46.7 L290.6,43.3 L291.0,40.0 L291.4,37.0 L291.8,34.2 L292.2,31.6 L292.6,29.5 L293.0,27.7 L293.5,26.4 L293.9,25.6 L294.3,25.4 L294.7,25.7 L295.1,26.5 L295.5,28.0 L295.9,29.9 L296.4,32.4 L296.8,35.4 L297.2,38.9 L297.6,42.7 L298.0,47.0 L298.4,51.6 L298.8,56.5 L299.3,61.7 L299.7,67.0 L300.1,72.6 L300.5,78.2 L300.9,83.9 L301.3,89.7 L301.7,95.4 L302.1,101.1 L302.6,106.7 L303.0,112.1 L303.4,117.5 L303.8,122.6 L304.2,127.6 L304.6,132.3 L305.0,136.8 L305.5,141.1 L305.9,145.2 L306.3,149.0 L306.7,152.5 L307.1,155.8 L307.5,158.8 L307.9,161.7 L308.4,164.2 L308.8,166.6 L309.2,168.7 L309.6,170.7 L310.0,172.4 L310.4,174.0 L310.8,175.4 L311.3,176.6 L311.7,177.7 L312.1,178.7 L312.5,179.6 L312.9,180.3 L313.3,181.0 L313.7,181.5 L314.1,182.0 L314.6,182.5 L315.0,182.8 L315.4,183.2 L315.8,183.5 L316.2,183.7 L316.6,183.9 L317.0,184.1 L317.5,184.3 L317.9,184.5 L318.3,184.6 L318.7,184.8 L319.1,184.9 L319.5,185.0 L319.9,185.0 L320.4,185.1 L320.8,185.1 L321.2,185.1 L321.6,185.1 L322.0,185.1 L322.4,185.1 L322.8,185.2 L323.3,185.2 L323.7,185.2 L324.1,185.2 L324.5,185.2 L324.9,185.2 L325.3,185.2 L325.7,185.2 L326.1,185.2 L326.6,185.2 L327.0,185.2 L327.4,185.2 L327.8,185.2 L328.2,185.2 L328.6,185.2 L329.0,185.2 L329.5,185.2 L329.9,185.2 L330.3,185.2 L330.7,185.2 L331.1,185.2 L331.5,185.2 L331.9,185.2 L332.4,185.2 L332.8,185.2 L333.2,185.2 L333.6,185.2 L334.0,185.2 L334.4,185.2 L334.8,185.2 L335.2,185.2 L335.7,185.2 L336.1,185.2 L336.5,185.2 L336.9,185.2 L337.3,185.2 L337.7,185.2 L338.1,185.2 L338.6,185.2 L339.0,185.2 L339.4,185.2 L339.8,185.2 L340.2,185.2 L340.6,185.2 L341.0,185.2 L341.5,185.2 L341.9,185.2 L342.3,185.2 L342.7,185.2 L343.1,185.2 L343.5,185.2 L343.9,185.2 L344.4,185.2 L344.8,185.2 L345.2,185.2 L345.6,185.2 L346.0,185.2 L346.4,185.2 L346.8,185.2 L347.2,185.2 L347.7,185.2 L348.1,185.2 L348.5,185.2 L348.9,185.2 L349.3,185.2 L349.7,185.2 L350.1,185.2 L350.6,185.2 L351.0,185.2 L351.4,185.2 L351.8,185.2 L352.2,185.2 L352.6,185.2 L353.0,185.2 L353.5,185.2 L353.9,185.2 L354.3,185.2 L354.7,185.2 L355.1,185.2 L355.5,185.2 L355.9,185.2 L356.4,185.2 L356.8,185.2 L357.2,185.2 L357.6,185.2 L358.0,185.2 L358.4,185.2 L358.8,185.2 L359.2,185.2 L359.7,185.2 L360.1,185.2 L360.5,185.2 L360.9,185.2 L361.3,185.2 L361.7,185.2 L362.1,185.2 L362.6,185.2 L363.0,185.2 L363.4,185.2 L363.8,185.2 L364.2,185.2 L364.6,185.2 L365.0,185.2 L365.5,185.2 L365.9,185.2 L366.3,185.2 L366.7,185.2 L367.1,185.2 L367.5,185.2 L367.9,185.2 L368.3,185.2 L368.8,185.2 L369.2,185.2 L369.6,185.2 L370.0,185.2 L370.4,185.2 L370.8,185.2 L371.2,185.2 L371.7,185.2 L372.1,185.2 L372.5,185.2 L372.9,185.2 L373.3,185.2 L373.7,185.2 L374.1,185.2 L374.6,185.2 L375.0,185.2 L375.4,185.2 L375.8,185.2 L376.2,185.2 L376.6,185.2 L377.0,185.2 L377.5,185.2 L377.9,185.2 L378.3,185.2 L378.7,185.2 L379.1,185.2 L379.5,185.2 L379.9,185.2 L380.3,185.2 L380.8,185.2 L381.2,185.2 L381.6,185.2 L382.0,185.2 L382.4,185.2 L382.8,185.2 L383.2,185.2 L383.7,185.2 L384.1,185.2 L384.5,185.2 L384.9,185.2 L385.3,185.2 L385.7,185.2 L386.1,185.2 L386.6,185.2 L387.0,185.2 L387.4,185.2 L387.8,185.2 L388.2,185.2 L388.6,185.2 L389.0,185.2 L389.5,185.2 L389.9,185.2 L390.3,185.2 L390.7,185.2 L391.1,185.2 L391.5,185.2 L391.9,185.2 L392.3,185.2 L392.8,185.2 L393.2,185.2 L393.6,185.2 L394.0,185.2 L394.4,185.2 L394.8,185.2 L395.2,185.2 L395.7,185.2 L396.1,185.2 L396.5,185.2 L396.9,185.2 L397.3,185.2 L397.7,185.2 L398.1,185.2 L398.6,185.2 L399.0,185.2 L399.4,185.2 L399.8,185.2 L400.2,185.2 L400.6,185.2 L401.0,185.2 L401.4,185.2 L401.9,185.2 L402.3,185.2 L402.7,185.2 L403.1,185.2 L403.5,185.2 L403.9,185.2 L404.3,185.2 L404.8,185.2 L405.2,185.2 L405.6,185.2 L406.0,185.2 L406.4,185.2 L406.8,185.2 L407.2,185.2 L407.7,185.2 L408.1,185.2 L408.5,185.2 L408.9,185.2 L409.3,185.2 L409.7,185.2 L410.1,185.2 L410.6,185.2 L411.0,185.2 L411.4,185.2 L411.8,185.2 L412.2,185.2 L412.6,185.2 L413.0,185.2 L413.4,185.2 L413.9,185.2 L414.3,185.2 L414.7,185.2 L415.1,185.2 L415.5,185.2 L415.9,185.2 L416.3,185.2 L416.8,185.2 L417.2,185.2 L417.6,185.2 L418.0,185.2 L418.4,185.2 L418.8,185.2 L419.2,185.2 L419.7,185.2 L420.1,185.2 L420.5,185.2 L420.9,185.2 L421.3,185.2 L421.7,185.2 L422.1,185.2 L422.6,185.2 L423.0,185.2 L423.4,185.2 L423.8,185.2 L424.2,185.2 L424.6,185.2 L425.0,185.2 L425.4,185.2 L425.9,185.2 L426.3,185.2 L426.7,185.2 L427.1,185.2 L427.5,185.2 L427.9,185.2 L428.3,185.2 L428.8,185.2 L429.2,185.2 L429.6,185.2 L430.0,185.2 L430.4,185.2 L430.8,185.2 L431.2,185.2 L431.7,185.2 L432.1,185.2" stroke="#2f7be0"/>
<path d="M107.3,184.7 L119.4,184.7 L119.4,206.6 L119.4,198.7 L120.0,198.7 L120.3,198.0 L120.6,197.3 L121.0,196.6 L121.3,195.9 L121.6,195.3 L121.9,194.8 L122.2,194.3 L122.6,194.1 L123.3,193.6 L124.0,193.1 L124.8,192.8 L125.5,192.4 L126.2,192.2 L127.0,192.0 L127.7,191.8 L128.4,191.7 L129.9,191.6 L131.3,191.4 L132.8,191.3 L134.3,191.2 L135.7,191.1 L137.2,191.1 L138.7,191.0 L140.1,191.0 L148.2,190.9 L156.3,190.8 L164.5,190.8 L172.6,190.8 L180.7,190.7 L188.8,190.7 L196.9,190.6 L205.0,190.5 L206.9,190.5 L208.8,190.4 L210.7,190.4 L212.6,190.3 L214.4,190.2 L216.3,190.1 L218.2,190.1 L220.1,190.1 L225.1,190.1 L230.1,190.1 L235.1,190.2 L240.2,190.4 L245.2,190.5 L250.2,190.7 L255.2,190.9 L260.2,191.1 L262.7,191.1 L265.2,191.3 L267.7,191.4 L270.2,191.5 L272.7,191.6 L275.2,191.8 L277.7,191.9 L280.3,192.1 L282.8,192.2 L285.3,192.4 L287.8,192.5 L290.3,192.7 L292.8,192.9 L295.3,193.1 L297.8,193.3 L300.3,193.5 L302.8,193.6 L305.3,193.8 L307.8,194.0 L310.3,194.2 L312.8,194.4 L315.3,194.6 L317.8,194.8 L320.4,195.1 L322.8,195.3 L325.3,195.6 L327.7,196.0 L330.2,196.3 L332.6,196.7 L335.1,197.0 L337.5,197.3 L340.0,197.5 L340.3,197.5 L340.6,197.5 L340.9,197.5 L341.3,197.5 L341.6,197.6 L341.9,197.6 L342.2,197.6 L342.5,197.6 L344.1,197.8 L345.7,198.0 L347.2,198.3 L348.8,198.7 L350.4,199.1 L351.9,199.4 L353.5,199.8 L355.1,200.1 L358.2,200.8 L361.3,201.4 L364.5,202.0 L367.6,202.7 L370.7,203.3 L373.9,203.9 L377.0,204.6 L380.1,205.1 L383.3,205.7 L386.4,206.3 L389.5,206.8 L392.7,207.4 L395.8,207.9 L398.9,208.4 L402.1,208.9 L405.2,209.4 L408.3,209.9 L411.5,210.3 L414.6,210.8 L417.7,211.2 L420.9,211.6 L424.0,212.0 L427.1,212.3 L430.3,212.7 L433.4,213.0 L436.5,213.2 L439.6,213.5 L442.8,213.7 L445.9,214.0 L449.0,214.2 L452.2,214.4 L455.3,214.7 L458.4,214.9 L461.6,215.1 L464.7,215.3 L467.8,215.5 L471.0,215.7 L474.1,216.0 L477.2,216.2 L480.4,216.4 L481.5,216.5 L482.6,216.6 L483.7,216.7 L484.9,216.8 L486.0,216.9 L487.1,217.0 L488.2,217.1 L489.3,217.2 L489.3,179.0 L489.3,178.9 L489.7,180.0 L490.2,180.9 L490.6,181.7 L491.0,182.3 L491.4,182.9 L491.8,183.4 L492.2,183.7 L492.6,184.1 L493.1,184.4 L493.5,184.6 L493.9,184.8 L494.3,185.0 L494.7,185.1 L495.1,185.2 L495.5,185.3 L496.0,185.4 L496.4,185.5 L496.8,185.6 L497.2,185.6 L497.6,185.7 L498.0,185.7 L498.4,185.7 L498.8,185.7 L499.3,185.8 L499.7,185.8 L500.1,185.8 L500.5,185.8 L500.9,185.8 L501.3,185.8 L501.7,185.8 L502.2,185.8 L502.6,185.8 L503.0,185.8 L503.4,185.8 L503.8,185.8 L504.2,185.8 L504.6,185.8 L505.1,185.8 L505.5,185.8 L505.9,185.8 L506.3,185.8 L506.7,185.8 L507.1,185.8 L507.5,185.8 L507.9,185.8 L508.4,185.8 L508.8,185.8 L509.2,185.8 L509.6,185.8 L510.0,185.8 L510.4,185.8 L510.8,185.8 L511.3,185.8 L511.7,185.8 L512.1,185.8 L512.5,185.8 L512.9,185.8 L513.3,185.8 L513.7,185.8 L514.2,185.8 L514.6,185.8 L515.0,185.8 L515.4,185.8 L515.8,185.8 L516.2,185.8 L516.6,185.8 L517.1,185.7 L517.5,185.7 L517.9,185.7 L518.3,185.7 L518.7,185.7 L519.1,185.7 L519.5,185.7 L519.9,185.7 L520.4,185.7 L520.8,185.7 L521.2,185.7 L521.6,185.7 L522.0,185.7 L522.4,185.7 L522.8,185.7 L523.3,185.7 L523.7,185.6 L524.1,185.6 L524.5,185.6 L524.9,185.6 L525.3,185.6 L525.7,185.6 L526.2,185.6 L526.6,185.6 L527.0,185.6 L527.4,185.6 L527.8,185.6 L528.2,185.6 L528.6,185.5 L529.0,185.5 L529.5,185.5 L529.9,185.5 L530.3,185.5 L530.7,185.5 L531.1,185.5 L531.5,185.5 L531.9,185.5 L532.4,185.4 L532.8,185.4 L533.2,185.4 L533.6,185.4 L534.0,185.4 L534.4,185.4 L534.8,185.4 L535.3,185.4 L535.7,185.3 L536.1,185.3 L536.5,185.3 L536.9,185.3 L537.3,185.3 L537.7,185.3 L538.2,185.3 L538.6,185.2 L539.0,185.2 L539.4,185.2 L539.8,185.2 L540.2,185.2 L540.6,185.2 L541.0,185.1 L541.5,185.1 L541.9,185.1 L542.3,185.1 L542.7,185.1 L543.1,185.0 L543.5,185.0 L543.9,185.0 L544.4,185.0 L544.8,184.9 L545.2,184.9 L545.6,184.9 L546.0,184.9 L546.4,184.8 L546.8,184.8 L547.3,184.8 L547.7,184.8 L548.1,184.7 L548.5,184.7 L548.9,184.7 L549.3,184.7 L549.7,184.6 L550.2,184.6 L550.6,184.6 L551.0,184.5 L551.4,184.5 L551.8,184.5 L552.2,184.4 L552.6,184.4 L553.0,184.4 L553.5,184.3 L553.9,184.3 L554.3,184.2 L554.7,184.2 L555.1,184.2 L555.5,184.1 L555.9,184.1 L556.4,184.0 L556.8,184.0 L557.2,184.0 L557.6,183.9 L558.0,183.9 L558.4,183.8 L558.8,183.8 L559.3,183.7 L559.7,183.7 L560.1,183.6 L560.5,183.6 L560.9,183.5 L561.3,183.5 L561.7,183.4 L562.1,183.4 L562.6,183.3 L563.0,183.2 L563.4,183.2 L563.8,183.1 L564.2,183.0 L564.6,183.0 L565.0,182.9 L565.5,182.9 L565.9,182.8 L566.3,182.7 L566.7,182.6 L567.1,182.6 L567.5,182.5 L567.9,182.4 L568.4,182.3 L568.8,182.3 L569.2,182.2 L569.6,182.1 L570.0,182.0 L570.4,181.9 L570.8,181.8 L571.3,181.8 L571.7,181.7 L572.1,181.6 L572.5,181.5 L572.9,181.4 L573.3,181.3 L573.7,181.2 L574.1,181.1 L574.6,181.0 L575.0,180.9 L575.4,180.8 L575.8,180.6 L576.2,180.5 L576.6,180.4 L577.0,180.3 L577.5,180.2 L577.9,180.0 L578.3,179.9 L578.7,179.8 L579.1,179.7 L579.5,179.5 L579.9,179.4 L580.4,179.2 L580.8,179.1 L581.2,178.9 L581.6,178.8 L582.0,178.6 L582.4,178.5 L582.8,178.3 L583.3,178.2 L583.7,178.0 L584.1,177.8 L584.5,177.6 L584.9,177.5 L585.3,177.3 L585.7,177.1 L586.1,176.9 L586.6,176.7 L587.0,176.5 L587.4,176.3 L587.8,176.1 L588.2,175.9 L588.6,175.7 L589.0,175.4 L589.5,175.2 L589.9,175.0 L590.3,174.7 L590.7,174.5 L591.1,174.2 L591.5,174.0 L591.9,173.7 L592.4,173.4 L592.8,173.1 L593.2,172.8 L593.6,172.6 L594.0,172.2 L594.4,171.9 L594.8,171.6 L595.2,171.3 L595.7,171.0 L596.1,170.6 L596.5,170.3 L596.9,169.9 L597.3,169.5 L597.7,169.1 L598.1,168.8 L598.6,168.4 L599.0,167.9 L599.4,167.5 L599.8,167.1 L600.2,166.6 L600.6,166.2 L601.0,165.7 L601.5,165.2 L601.9,164.7 L602.3,164.2 L602.7,163.7 L603.1,163.1 L603.5,162.6 L603.9,162.0 L604.4,161.4 L604.8,160.8 L605.2,160.2 L605.6,159.5 L606.0,158.9 L606.4,158.2 L606.8,157.5 L607.2,156.8 L607.7,156.1 L608.1,155.3 L608.5,154.5 L608.9,153.8 L609.3,152.9 L609.7,152.1 L610.1,151.2 L610.6,150.4 L611.0,149.5 L611.4,148.6 L611.8,147.6 L612.2,146.6 L612.6,145.7 L613.0,144.6 L613.5,143.6 L613.9,142.6 L614.3,141.5 L614.7,140.4 L615.1,139.3 L615.5,138.2 L615.9,137.0 L616.4,135.8 L616.8,134.7 L617.2,133.5 L617.6,132.3 L618.0,131.1 L618.4,129.8 L618.8,128.6 L619.2,127.4 L619.7,126.2 L620.1,124.9 L620.5,123.7 L620.9,122.5 L621.3,121.3 L621.7,120.1 L622.1,118.9 L622.6,117.8 L623.0,116.7 L623.4,115.6 L623.8,114.6 L624.2,113.6 L624.6,112.6 L625.0,111.7 L625.5,110.8 L625.9,110.0 L626.3,109.2 L626.7,108.5 L627.1,107.9 L627.5,107.3 L627.9,106.8 L628.3,106.4 L628.8,106.0 L629.2,105.7 L629.6,105.4 L630.0,105.2 L630.4,105.1 L630.8,105.1 L631.2,105.1 L631.5,105.1 L631.8,105.1 L632.1,105.1 L632.4,105.2 L632.7,105.2 L633.0,105.3 L633.3,105.4 L633.6,105.5 L633.9,105.6 L634.2,105.7 L634.5,105.8 L634.8,106.1 L635.1,106.4 L635.4,106.8 L635.7,107.3 L636.0,107.9 L636.3,108.5 L636.6,109.1 L636.9,109.8 L637.2,110.5 L637.5,111.2 L637.8,112.1 L638.1,113.2 L638.4,114.3 L638.7,115.5 L639.0,116.9 L639.3,118.3 L639.6,119.9 L639.9,121.4 L640.3,123.1 L640.5,124.7 L640.8,126.6 L641.0,128.8 L641.3,131.0 L641.6,133.4 L641.8,135.8 L642.1,138.2 L642.3,140.6 L642.6,142.8 L642.9,144.8 L643.1,146.5 L643.3,148.3 L643.6,150.0 L643.8,151.7 L644.1,153.4 L644.3,155.0 L644.5,156.5 L644.8,157.9 L645.0,159.1 L645.3,160.2 L645.6,161.4 L645.9,162.5 L646.2,163.6 L646.5,164.6 L646.8,165.5 L647.1,166.3 L647.4,167.1 L647.7,167.9 L648.0,168.6 L648.3,169.2 L648.5,169.7 L648.8,170.2 L649.0,170.7 L649.2,171.1 L649.5,171.6 L649.7,172.0 L650.0,172.3 L650.2,172.7 L650.4,173.0 L650.7,173.2 L651.0,173.6 L651.4,173.9 L651.8,174.2 L652.1,174.5 L652.5,174.8 L652.8,175.0 L653.2,175.2 L653.6,175.4 L653.9,175.5 L654.3,175.6 L654.9,175.8 L655.5,175.9 L656.1,176.0 L656.7,176.0 L657.3,176.1 L657.9,176.2 L658.5,176.2 L659.1,176.3 L659.7,176.4 L660.3,176.4 L660.7,176.5 L661.1,176.5 L661.5,176.6 L661.9,176.6 L662.3,176.7 L662.7,176.7 L663.1,176.8 L663.5,176.9 L663.9,177.0 L664.3,177.0 L664.7,177.2 L665.1,177.3 L665.5,177.5 L665.9,177.7 L666.3,177.9 L666.7,178.1 L667.1,178.4 L667.5,178.7 L667.9,179.0 L668.3,179.2 L668.6,179.5 L668.9,179.7 L669.2,180.0 L669.5,180.3 L669.8,180.6 L670.1,181.0 L670.4,181.3 L670.7,181.6 L671.0,181.9 L671.3,182.3 L671.6,182.5 L671.8,182.9 L672.1,183.2 L672.4,183.5 L672.6,183.9 L672.9,184.2 L673.2,184.5 L673.4,184.7 L673.7,184.8 L673.9,184.9 L674.6,184.9 L675.2,184.9 L675.9,184.9 L676.5,184.9 L677.1,184.9 L677.8,184.9 L678.4,184.9 L679.1,184.9 L679.7,184.9 L680.4,184.9 L682.3,184.9 L684.3,184.9 L686.2,184.9 L688.2,184.9 L690.2,184.9 L692.1,184.9 L694.1,184.9 L696.1,184.9 L698.0,184.9 L700.0,184.9 L707.7,184.9 L715.5,184.9 L723.2,184.9 L730.9,184.9 L738.6,184.9 L746.4,184.9 L754.1,184.9 L761.8,184.9 L769.6,184.9 L777.3,184.9" stroke="#000000"/>
</g>
<g clip-path="url(#cb)" fill="none" stroke-linejoin="round" stroke-width="2.4">
<path d="M106.8,1126.6 L107.6,1126.6 L108.5,1126.6 L109.3,1126.6 L110.2,1126.6 L111.0,1126.6 L111.8,1126.6 L112.7,1126.5 L113.5,1126.5 L114.3,1126.5 L115.2,1126.5 L116.0,1126.5 L116.9,1126.5 L117.7,1126.5 L118.5,1126.5 L119.4,1126.4 L120.2,1126.4 L121.0,1126.4 L121.9,1126.4 L122.7,1126.3 L123.6,1126.3 L124.4,1126.3 L125.2,1126.2 L126.1,1126.2 L126.9,1126.2 L127.8,1126.1 L128.6,1126.1 L129.4,1126.1 L130.3,1126.0 L131.1,1126.0 L131.9,1126.0 L132.8,1125.9 L133.6,1125.9 L134.5,1125.9 L135.3,1125.9 L136.1,1125.8 L137.0,1125.8 L137.8,1125.8 L138.6,1125.7 L139.5,1125.7 L140.3,1125.7 L141.2,1125.7 L142.0,1125.6 L142.8,1125.6 L143.7,1125.6 L144.5,1125.6 L145.4,1125.6 L146.2,1125.6 L147.0,1125.6 L147.9,1125.6 L148.7,1125.6 L149.5,1125.6 L150.4,1125.6 L151.2,1125.6 L152.1,1125.6 L152.9,1125.6 L153.7,1125.6 L154.6,1125.6 L155.4,1125.6 L156.2,1125.6 L157.1,1125.6 L157.9,1125.6 L158.8,1125.6 L159.6,1125.6 L160.4,1125.7 L161.3,1125.7 L162.1,1125.7 L163.0,1125.7 L163.8,1125.7 L164.6,1125.7 L165.5,1125.7 L166.3,1125.7 L167.1,1125.8 L168.0,1125.8 L168.8,1125.8 L169.7,1125.8 L170.5,1125.8 L171.3,1125.9 L172.2,1125.9 L173.0,1125.9 L173.8,1125.9 L174.7,1125.9 L175.5,1126.0 L176.4,1126.0 L177.2,1126.0 L178.0,1126.0 L178.9,1126.1 L179.7,1126.1 L180.6,1126.1 L181.4,1126.1 L182.2,1126.2 L183.1,1126.2 L183.9,1126.2 L184.7,1126.2 L185.6,1126.3 L186.4,1126.3 L187.3,1126.3 L188.1,1126.4 L188.9,1126.4 L189.8,1126.4 L190.6,1126.4 L191.4,1126.5 L192.3,1126.5 L193.1,1126.5 L194.0,1126.6 L194.8,1126.6 L195.6,1126.6 L196.5,1126.7 L197.3,1126.7 L198.2,1126.7 L199.0,1126.8 L199.8,1126.8 L200.7,1126.8 L201.5,1126.9 L202.3,1126.9 L203.2,1126.9 L204.0,1127.0 L204.9,1127.0 L205.7,1127.0 L206.5,1127.1 L207.4,1127.1 L208.2,1127.2 L209.0,1127.2 L209.9,1127.2 L210.7,1127.3 L211.6,1127.3 L212.4,1127.4 L213.2,1127.4 L214.1,1127.5 L214.9,1127.5 L215.8,1127.6 L216.6,1127.6 L217.4,1127.6 L218.3,1127.7 L219.1,1127.7 L219.9,1127.8 L220.8,1127.8 L221.6,1127.9 L222.5,1127.9 L223.3,1128.0 L224.1,1128.0 L225.0,1128.1 L225.8,1128.1 L226.6,1128.2 L227.5,1128.2 L228.3,1128.3 L229.2,1128.3 L230.0,1128.3 L230.8,1128.4 L231.7,1128.4 L232.5,1128.5 L233.4,1128.5 L234.2,1128.6 L235.0,1128.6 L235.9,1128.7 L236.7,1128.7 L237.5,1128.7 L238.4,1128.8 L239.2,1128.8 L240.1,1128.8 L240.9,1128.9 L241.7,1128.9 L242.6,1129.0 L243.4,1129.0 L244.2,1129.0 L245.1,1129.0 L245.9,1129.1 L246.8,1129.1 L247.6,1129.1 L248.4,1129.2 L249.3,1129.2 L250.1,1129.2 L251.0,1129.2 L251.8,1129.3 L252.6,1129.3 L253.5,1129.3 L254.3,1129.3 L255.1,1129.4 L256.0,1129.4 L256.8,1129.4 L257.7,1129.4 L258.5,1129.4 L259.3,1129.5 L260.2,1129.5 L261.0,1129.5 L261.8,1129.5 L262.7,1129.5 L263.5,1129.6 L264.4,1129.6 L265.2,1129.6 L266.0,1129.6 L266.9,1129.6 L267.7,1129.6 L268.6,1129.7 L269.4,1129.7 L270.2,1129.7 L271.1,1129.7 L271.9,1129.7 L272.7,1129.7 L273.6,1129.7 L274.4,1129.8 L275.3,1129.8 L276.1,1129.8 L276.9,1129.8 L277.8,1129.8 L278.6,1129.8 L279.4,1129.8 L280.3,1129.8 L281.1,1129.9 L282.0,1129.9 L282.8,1129.9 L283.6,1129.9 L284.5,1129.9 L285.3,1129.9 L286.2,1129.9 L287.0,1129.9 L287.8,1129.9 L288.7,1129.9 L289.5,1129.9 L290.3,1129.9 L291.2,1129.9 L292.0,1129.9 L292.9,1129.9 L293.7,1129.9 L294.5,1129.9 L295.4,1129.9 L296.2,1129.9 L297.0,1129.9 L297.9,1129.9 L298.7,1129.9 L299.6,1129.9 L300.4,1129.9 L301.2,1129.9 L302.1,1129.8 L302.9,1129.8 L303.8,1129.8 L304.6,1129.8 L305.4,1129.8 L306.3,1129.7 L307.1,1129.7 L307.9,1129.7 L308.8,1129.6 L309.6,1129.6 L310.5,1129.6 L311.3,1129.5 L312.1,1129.5 L313.0,1129.4 L313.8,1129.4 L314.6,1129.3 L315.5,1129.2 L316.3,1129.2 L317.2,1129.1 L318.0,1129.0 L318.8,1129.0 L319.7,1128.9 L320.5,1128.8 L321.4,1128.7 L322.2,1128.6 L323.0,1128.5 L323.9,1128.4 L324.7,1128.3 L325.5,1128.2 L326.4,1128.1 L327.2,1127.9 L328.1,1127.8 L328.9,1127.7 L329.7,1127.5 L330.6,1127.4 L331.4,1127.3 L332.2,1127.1 L333.1,1127.0 L333.9,1126.8 L334.8,1126.6 L335.6,1126.5 L336.4,1126.3 L337.3,1126.1 L338.1,1125.9 L339.0,1125.7 L339.8,1125.6 L340.6,1125.4 L341.5,1125.2 L342.3,1125.0 L343.1,1124.8 L344.0,1124.6 L344.8,1124.4 L345.7,1124.2 L346.5,1124.0 L347.3,1123.8 L348.2,1123.6 L349.0,1123.4 L349.8,1123.2 L350.7,1123.0 L351.5,1122.8 L352.4,1122.6 L353.2,1122.4 L354.0,1122.2 L354.9,1122.0 L355.7,1121.8 L356.6,1121.6 L357.4,1121.4 L358.2,1121.2 L359.1,1120.9 L359.9,1120.7 L360.7,1120.5 L361.6,1120.3 L362.4,1120.1 L363.3,1119.9 L364.1,1119.7 L364.9,1119.4 L365.8,1119.2 L366.6,1119.0 L367.4,1118.8 L368.3,1118.5 L369.1,1118.3 L370.0,1118.1 L370.8,1117.8 L371.6,1117.6 L372.5,1117.4 L373.3,1117.1 L374.2,1116.9 L375.0,1116.7 L375.8,1116.4 L376.7,1116.2 L377.5,1115.9 L378.3,1115.7 L379.2,1115.4 L380.0,1115.2 L380.9,1114.9 L381.7,1114.6 L382.5,1114.4 L383.4,1114.1 L384.2,1113.8 L385.0,1113.6 L385.9,1113.3 L386.7,1113.0 L387.6,1112.7 L388.4,1112.4 L389.2,1112.2 L390.1,1111.9 L390.9,1111.6 L391.8,1111.3 L392.6,1111.0 L393.4,1110.7 L394.3,1110.3 L395.1,1110.0 L395.9,1109.7 L396.8,1109.4 L397.6,1109.1 L398.5,1108.7 L399.3,1108.4 L400.1,1108.0 L401.0,1107.7 L401.8,1107.3 L402.6,1106.9 L403.5,1106.6 L404.3,1106.2 L405.2,1105.8 L406.0,1105.4 L406.8,1105.0 L407.7,1104.6 L408.5,1104.2 L409.4,1103.8 L410.2,1103.4 L411.0,1102.9 L411.9,1102.5 L412.7,1102.1 L413.5,1101.6 L414.4,1101.1 L415.2,1100.7 L416.1,1100.2 L416.9,1099.8 L417.7,1099.3 L418.6,1098.8 L419.4,1098.3 L420.2,1097.8 L421.1,1097.3 L421.9,1096.8 L422.8,1096.3 L423.6,1095.8 L424.4,1095.3 L425.3,1094.8 L426.1,1094.3 L427.0,1093.8 L427.8,1093.3 L428.6,1092.7 L429.5,1092.2 L430.3,1091.7 L431.1,1091.2 L432.0,1090.6 L432.8,1090.1 L433.7,1089.6 L434.5,1089.0 L435.3,1088.5 L436.2,1088.0 L437.0,1087.4 L437.8,1086.9 L438.7,1086.3 L439.5,1085.8 L440.4,1085.2 L441.2,1084.7 L442.0,1084.1 L442.9,1083.5 L443.7,1082.9 L444.6,1082.4 L445.4,1081.8 L446.2,1081.2 L447.1,1080.6 L447.9,1079.9 L448.7,1079.3 L449.6,1078.7 L450.4,1078.1 L451.3,1077.4 L452.1,1076.8 L452.9,1076.1 L453.8,1075.4 L454.6,1074.8 L455.4,1074.1 L456.3,1073.4 L457.1,1072.7 L458.0,1072.0 L458.8,1071.3 L459.6,1070.6 L460.5,1069.9 L461.3,1069.2 L462.2,1068.4 L463.0,1067.7 L463.8,1067.0 L464.7,1066.3 L465.5,1065.6 L466.3,1064.9 L467.2,1064.2 L468.0,1063.4 L468.9,1062.7 L469.7,1062.0 L470.5,1061.3 L471.4,1060.6 L472.2,1059.8 L473.0,1059.1 L473.9,1058.4 L474.7,1057.7 L475.6,1057.0 L476.4,1056.2 L477.2,1055.5 L478.1,1054.8 L478.9,1054.2 L479.8,1053.5 L480.6,1052.8 L481.4,1052.2 L482.3,1051.5 L483.1,1050.8 L483.9,1050.2 L484.8,1049.5 L485.6,1048.9 L486.5,1048.3 L487.3,1047.7 L488.1,1047.3 L489.0,1046.9 L489.8,1046.5 L490.6,1046.3 L491.5,1046.0 L492.3,1045.8 L493.2,1045.6 L494.0,1045.4 L494.8,1045.2 L495.7,1045.1 L496.5,1044.9 L497.4,1044.8 L498.2,1044.6 L499.0,1044.5 L499.9,1044.3 L500.7,1044.2 L501.5,1044.1 L502.4,1043.9 L503.2,1043.8 L504.1,1043.6 L504.9,1043.5 L505.7,1043.4 L506.6,1043.2 L507.4,1043.1 L508.2,1043.0 L509.1,1042.9 L509.9,1042.7 L510.8,1042.6 L511.6,1042.5 L512.4,1042.4 L513.3,1042.4 L514.1,1042.3 L515.0,1042.2 L515.8,1042.1 L516.6,1042.1 L517.5,1042.0 L518.3,1042.0 L519.1,1041.9 L520.0,1041.8 L520.8,1041.8 L521.7,1041.7 L522.5,1041.7 L523.3,1041.6 L524.2,1041.6 L525.0,1041.5 L525.8,1041.4 L526.7,1041.4 L527.5,1041.3 L528.4,1041.3 L529.2,1041.3 L530.0,1041.2 L530.9,1041.2 L531.7,1041.1 L532.6,1041.1 L533.4,1041.1 L534.2,1041.0 L535.1,1041.0 L535.9,1041.0 L536.7,1041.0 L537.6,1040.9 L538.4,1040.9 L539.3,1040.9 L540.1,1040.9 L540.9,1040.9 L541.8,1040.9 L542.6,1040.9 L543.5,1040.9 L544.3,1040.9 L545.1,1040.9 L546.0,1040.9 L546.8,1040.9 L547.6,1040.9 L548.5,1040.9 L549.3,1040.9 L550.2,1040.9 L551.0,1041.0 L551.8,1041.0 L552.7,1041.0 L553.5,1041.0 L554.3,1041.1 L555.2,1041.1 L556.0,1041.1 L556.9,1041.2 L557.7,1041.2 L558.5,1041.3 L559.4,1041.3 L560.2,1041.4 L561.1,1041.4 L561.9,1041.5 L562.7,1041.5 L563.6,1041.6 L564.4,1041.6 L565.2,1041.7 L566.1,1041.8 L566.9,1041.8 L567.8,1041.9 L568.6,1042.0 L569.4,1042.0 L570.3,1042.1 L571.1,1042.2 L571.9,1042.3 L572.8,1042.4 L573.6,1042.5 L574.5,1042.7 L575.3,1042.9 L576.1,1043.1 L577.0,1043.3 L577.8,1043.6 L578.7,1043.9 L579.5,1044.2 L580.3,1044.5 L581.2,1044.8 L582.0,1045.2 L582.8,1045.5 L583.7,1045.9 L584.5,1046.3 L585.4,1046.7 L586.2,1047.1 L587.0,1047.6 L587.9,1048.2 L588.7,1048.7 L589.5,1049.4 L590.4,1050.0 L591.2,1050.7 L592.1,1051.4 L592.9,1052.1 L593.7,1052.8 L594.6,1053.5 L595.4,1054.3 L596.3,1055.0 L597.1,1055.8 L597.9,1056.7 L598.8,1057.6 L599.6,1058.6 L600.4,1059.6 L601.3,1060.8 L602.1,1062.0 L603.0,1063.3 L603.8,1064.7 L604.6,1066.2 L605.5,1067.7 L606.3,1069.3 L607.1,1070.9 L608.0,1072.5 L608.8,1074.2 L609.7,1075.9 L610.5,1077.7 L611.3,1079.5 L612.2,1081.4 L613.0,1083.3 L613.9,1085.2 L614.7,1087.2 L615.5,1089.2 L616.4,1091.1 L617.2,1093.1 L618.0,1095.0 L618.9,1096.8 L619.7,1098.6 L620.6,1100.5 L621.4,1102.2 L622.2,1104.0 L623.1,1105.8 L623.9,1107.5 L624.7,1109.2 L625.6,1110.8 L626.4,1112.3 L627.3,1113.8 L628.1,1115.2 L628.9,1116.5 L629.8,1117.8 L630.6,1119.0 L631.5,1120.1 L632.3,1121.2 L633.1,1122.3 L634.0,1123.3 L634.8,1124.3 L635.6,1125.3 L636.5,1126.2 L637.3,1127.1 L638.2,1127.9 L639.0,1128.7 L639.8,1129.4 L640.7,1130.2 L641.5,1130.9 L642.3,1131.5 L643.2,1132.2 L644.0,1132.8 L644.9,1133.3 L645.7,1133.9 L646.5,1134.4 L647.4,1134.9 L648.2,1135.3 L649.1,1135.8 L649.9,1136.2 L650.7,1136.6 L651.6,1136.9 L652.4,1137.3 L653.2,1137.6 L654.1,1137.9 L654.9,1138.2 L655.8,1138.5 L656.6,1138.8 L657.4,1139.1 L658.3,1139.4 L659.1,1139.6 L659.9,1139.9 L660.8,1140.1 L661.6,1140.3 L662.5,1140.5 L663.3,1140.6 L664.1,1140.7 L665.0,1140.8 L665.8,1140.9 L666.7,1140.9 L667.5,1140.9 L668.3,1140.9 L669.2,1140.9 L670.0,1140.9 L670.8,1140.9 L671.7,1140.9 L672.5,1140.9 L673.4,1140.9 L674.2,1140.9 L675.0,1140.9 L675.9,1140.9 L676.7,1140.9 L677.5,1140.9 L678.4,1140.9 L679.2,1140.9 L680.1,1140.9 L680.9,1140.9 L681.7,1140.9 L682.6,1140.9 L683.4,1140.9 L684.3,1140.9 L685.1,1140.9 L685.9,1140.9 L686.8,1140.9 L687.6,1140.9 L688.4,1140.9 L689.3,1140.9 L690.1,1140.9 L691.0,1140.9 L691.8,1140.9 L692.6,1140.9 L693.5,1140.9 L694.3,1140.9 L695.1,1140.9 L696.0,1140.9 L696.8,1140.9 L697.7,1140.9 L698.5,1140.9 L699.3,1140.9 L700.2,1140.9 L701.0,1140.9 L701.9,1140.9 L702.7,1140.9 L703.5,1140.9 L704.4,1140.9 L705.2,1140.9 L706.0,1140.8 L706.9,1140.8 L707.7,1140.8 L708.6,1140.8 L709.4,1140.8 L710.2,1140.8 L711.1,1140.8 L711.9,1140.8 L712.7,1140.8 L713.6,1140.7 L714.4,1140.7 L715.3,1140.7 L716.1,1140.7 L716.9,1140.7 L717.8,1140.7 L718.6,1140.7 L719.5,1140.6 L720.3,1140.6 L721.1,1140.6 L722.0,1140.6 L722.8,1140.6 L723.6,1140.6 L724.5,1140.5 L725.3,1140.5 L726.2,1140.5 L727.0,1140.5 L727.8,1140.5 L728.7,1140.5 L729.5,1140.4 L730.3,1140.4 L731.2,1140.4 L732.0,1140.4 L732.9,1140.4 L733.7,1140.4 L734.5,1140.4 L735.4,1140.3 L736.2,1140.3 L737.1,1140.3 L737.9,1140.3 L738.7,1140.3 L739.6,1140.3 L740.4,1140.2 L741.2,1140.2 L742.1,1140.2 L742.9,1140.2 L743.8,1140.2 L744.6,1140.2 L745.4,1140.2 L746.3,1140.2 L747.1,1140.1 L747.9,1140.1 L748.8,1140.1 L749.6,1140.1 L750.5,1140.1 L751.3,1140.1 L752.1,1140.1 L753.0,1140.1 L753.8,1140.0 L754.7,1140.0 L755.5,1140.0 L756.3,1140.0 L757.2,1140.0 L758.0,1140.0 L758.8,1140.0 L759.7,1139.9 L760.5,1139.9 L761.4,1139.9 L762.2,1139.9 L763.0,1139.9 L763.9,1139.9 L764.7,1139.9 L765.5,1139.9 L766.4,1139.8 L767.2,1139.8 L768.1,1139.8 L768.9,1139.8 L769.7,1139.8 L770.6,1139.8 L771.4,1139.8 L772.3,1139.7 L773.1,1139.7 L773.9,1139.7 L774.8,1139.7 L775.6,1139.7 L776.4,1139.7 L777.3,1139.7" stroke="#000000"/>
<path d="M106.8,1126.6 L107.6,1126.6 L108.5,1126.6 L109.3,1126.6 L110.2,1126.6 L111.0,1126.5 L111.8,1126.5 L112.7,1126.5 L113.5,1126.5 L114.3,1126.5 L115.2,1126.5 L116.0,1126.5 L116.9,1126.5 L117.7,1126.5 L118.5,1126.4 L119.4,1126.4 L120.2,1126.4 L121.0,1126.3 L121.9,1126.3 L122.7,1126.3 L123.6,1126.2 L124.4,1126.2 L125.2,1126.2 L126.1,1126.1 L126.9,1126.1 L127.8,1126.0 L128.6,1126.0 L129.4,1125.9 L130.3,1125.8 L131.1,1125.8 L131.9,1125.7 L132.8,1125.7 L133.6,1125.6 L134.5,1125.5 L135.3,1125.5 L136.1,1125.4 L137.0,1125.3 L137.8,1125.3 L138.6,1125.2 L139.5,1125.1 L140.3,1125.0 L141.2,1125.0 L142.0,1124.9 L142.8,1124.8 L143.7,1124.8 L144.5,1124.7 L145.4,1124.6 L146.2,1124.5 L147.0,1124.4 L147.9,1124.4 L148.7,1124.3 L149.5,1124.2 L150.4,1124.1 L151.2,1124.0 L152.1,1123.9 L152.9,1123.8 L153.7,1123.7 L154.6,1123.6 L155.4,1123.5 L156.2,1123.4 L157.1,1123.3 L157.9,1123.2 L158.8,1123.1 L159.6,1123.0 L160.4,1122.9 L161.3,1122.7 L162.1,1122.6 L163.0,1122.5 L163.8,1122.4 L164.6,1122.2 L165.5,1122.1 L166.3,1122.0 L167.1,1121.8 L168.0,1121.7 L168.8,1121.5 L169.7,1121.4 L170.5,1121.2 L171.3,1121.1 L172.2,1120.9 L173.0,1120.8 L173.8,1120.6 L174.7,1120.5 L175.5,1120.3 L176.4,1120.1 L177.2,1120.0 L178.0,1119.8 L178.9,1119.6 L179.7,1119.5 L180.6,1119.3 L181.4,1119.1 L182.2,1118.9 L183.1,1118.7 L183.9,1118.6 L184.7,1118.4 L185.6,1118.2 L186.4,1118.0 L187.3,1117.7 L188.1,1117.5 L188.9,1117.3 L189.8,1117.1 L190.6,1116.9 L191.4,1116.6 L192.3,1116.4 L193.1,1116.1 L194.0,1115.9 L194.8,1115.6 L195.6,1115.3 L196.5,1115.1 L197.3,1114.8 L198.2,1114.5 L199.0,1114.2 L199.8,1113.8 L200.7,1113.5 L201.5,1113.2 L202.3,1112.8 L203.2,1112.5 L204.0,1112.1 L204.9,1111.7 L205.7,1111.3 L206.5,1111.0 L207.4,1110.5 L208.2,1110.1 L209.0,1109.7 L209.9,1109.3 L210.7,1108.8 L211.6,1108.4 L212.4,1107.9 L213.2,1107.4 L214.1,1107.0 L214.9,1106.5 L215.8,1106.0 L216.6,1105.4 L217.4,1104.9 L218.3,1104.4 L219.1,1103.8 L219.9,1103.3 L220.8,1102.7 L221.6,1102.1 L222.5,1101.5 L223.3,1100.8 L224.1,1100.2 L225.0,1099.5 L225.8,1098.8 L226.6,1098.1 L227.5,1097.4 L228.3,1096.7 L229.2,1095.9 L230.0,1095.1 L230.8,1094.3 L231.7,1093.5 L232.5,1092.7 L233.4,1091.8 L234.2,1090.9 L235.0,1090.0 L235.9,1089.0 L236.7,1088.1 L237.5,1087.1 L238.4,1086.1 L239.2,1085.1 L240.1,1084.0 L240.9,1082.9 L241.7,1081.8 L242.6,1080.7 L243.4,1079.6 L244.2,1078.4 L245.1,1077.2 L245.9,1076.0 L246.8,1074.8 L247.6,1073.5 L248.4,1072.3 L249.3,1071.0 L250.1,1069.7 L251.0,1068.3 L251.8,1067.0 L252.6,1065.6 L253.5,1064.2 L254.3,1062.8 L255.1,1061.4 L256.0,1060.0 L256.8,1058.5 L257.7,1057.1 L258.5,1055.6 L259.3,1054.2 L260.2,1052.7 L261.0,1051.2 L261.8,1049.7 L262.7,1048.2 L263.5,1046.7 L264.4,1045.1 L265.2,1043.6 L266.0,1042.1 L266.9,1040.6 L267.7,1039.1 L268.6,1037.5 L269.4,1036.0 L270.2,1034.5 L271.1,1033.0 L271.9,1031.4 L272.7,1029.9 L273.6,1028.4 L274.4,1026.9 L275.3,1025.4 L276.1,1023.9 L276.9,1022.4 L277.8,1020.9 L278.6,1019.4 L279.4,1017.9 L280.3,1016.5 L281.1,1015.0 L282.0,1013.5 L282.8,1012.1 L283.6,1010.7 L284.5,1009.2 L285.3,1007.8 L286.2,1006.4 L287.0,1005.0 L287.8,1003.5 L288.7,1002.1 L289.5,1000.7 L290.3,999.3 L291.2,997.9 L292.0,996.6 L292.9,995.2 L293.7,993.8 L294.5,992.5 L295.4,991.1 L296.2,989.8 L297.0,988.5 L297.9,987.2 L298.7,985.8 L299.6,984.5 L300.4,983.1 L301.2,981.7 L302.1,980.3 L302.9,978.8 L303.8,977.4 L304.6,975.9 L305.4,974.4 L306.3,973.0 L307.1,971.5 L307.9,970.0 L308.8,968.6 L309.6,967.1 L310.5,965.7 L311.3,964.3 L312.1,963.0 L313.0,961.8 L313.8,960.6 L314.6,959.6 L315.5,958.7 L316.3,957.9 L317.2,957.1 L318.0,956.5 L318.8,956.0 L319.7,955.6 L320.5,955.2 L321.4,954.8 L322.2,954.5 L323.0,954.2 L323.9,953.9 L324.7,953.7 L325.5,953.4 L326.4,953.2 L327.2,952.9 L328.1,952.7 L328.9,952.5 L329.7,952.3 L330.6,952.2 L331.4,952.0 L332.2,951.8 L333.1,951.6 L333.9,951.5 L334.8,951.4 L335.6,951.2 L336.4,951.1 L337.3,950.9 L338.1,950.8 L339.0,950.7 L339.8,950.6 L340.6,950.4 L341.5,950.3 L342.3,950.2 L343.1,950.1 L344.0,950.0 L344.8,949.9 L345.7,949.7 L346.5,949.6 L347.3,949.5 L348.2,949.4 L349.0,949.3 L349.8,949.2 L350.7,949.1 L351.5,949.0 L352.4,948.9 L353.2,948.8 L354.0,948.7 L354.9,948.6 L355.7,948.5 L356.6,948.4 L357.4,948.3 L358.2,948.2 L359.1,948.1 L359.9,948.0 L360.7,947.9 L361.6,947.9 L362.4,947.8 L363.3,947.7 L364.1,947.6 L364.9,947.6 L365.8,947.5 L366.6,947.5 L367.4,947.4 L368.3,947.4 L369.1,947.3 L370.0,947.3 L370.8,947.3 L371.6,947.2 L372.5,947.2 L373.3,947.2 L374.2,947.2 L375.0,947.2 L375.8,947.2 L376.7,947.2 L377.5,947.2 L378.3,947.3 L379.2,947.3 L380.0,947.3 L380.9,947.4 L381.7,947.4 L382.5,947.4 L383.4,947.5 L384.2,947.6 L385.0,947.6 L385.9,947.7 L386.7,947.7 L387.6,947.8 L388.4,947.9 L389.2,948.0 L390.1,948.1 L390.9,948.2 L391.8,948.3 L392.6,948.4 L393.4,948.6 L394.3,948.7 L395.1,948.9 L395.9,949.1 L396.8,949.4 L397.6,949.6 L398.5,949.9 L399.3,950.2 L400.1,950.5 L401.0,950.8 L401.8,951.2 L402.6,951.6 L403.5,952.0 L404.3,952.4 L405.2,952.9 L406.0,953.4 L406.8,954.0 L407.7,954.5 L408.5,955.1 L409.4,955.7 L410.2,956.4 L411.0,957.1 L411.9,957.8 L412.7,958.6 L413.5,959.4 L414.4,960.3 L415.2,961.3 L416.1,962.3 L416.9,963.4 L417.7,964.5 L418.6,965.8 L419.4,967.1 L420.2,968.6 L421.1,970.1 L421.9,971.7 L422.8,973.4 L423.6,975.2 L424.4,977.0 L425.3,978.9 L426.1,981.0 L427.0,983.1 L427.8,985.2 L428.6,987.5 L429.5,989.8 L430.3,992.2 L431.1,994.7 L432.0,997.3 L432.8,999.9 L433.7,1002.7 L434.5,1005.6 L435.3,1008.7 L436.2,1011.8 L437.0,1015.2 L437.8,1018.6 L438.7,1022.2 L439.5,1025.8 L440.4,1029.6 L441.2,1033.4 L442.0,1037.2 L442.9,1041.2 L443.7,1045.2 L444.6,1049.3 L445.4,1053.4 L446.2,1057.7 L447.1,1062.0 L447.9,1066.3 L448.7,1070.7 L449.6,1075.1 L450.4,1079.5 L451.3,1083.9 L452.1,1088.2 L452.9,1092.4 L453.8,1096.5 L454.6,1100.4 L455.4,1104.2 L456.3,1107.8 L457.1,1111.2 L458.0,1114.3 L458.8,1117.1 L459.6,1119.7 L460.5,1122.0 L461.3,1124.0 L462.2,1125.8 L463.0,1127.4 L463.8,1128.8 L464.7,1129.9 L465.5,1130.9 L466.3,1131.7 L467.2,1132.3 L468.0,1132.8 L468.9,1133.2 L469.7,1133.5 L470.5,1133.8 L471.4,1133.9 L472.2,1134.1 L473.0,1134.2 L473.9,1134.2 L474.7,1134.3 L475.6,1134.3 L476.4,1134.3 L477.2,1134.3 L478.1,1134.3 L478.9,1134.3 L479.8,1134.3 L480.6,1134.3 L481.4,1134.3 L482.3,1134.3 L483.1,1134.3 L483.9,1134.3 L484.8,1134.3 L485.6,1134.3 L486.5,1134.3 L487.3,1134.3 L488.1,1134.3 L489.0,1134.3 L489.8,1134.3 L490.6,1134.3 L491.5,1134.3 L492.3,1134.3 L493.2,1134.3 L494.0,1134.3 L494.8,1134.3 L495.7,1134.3 L496.5,1134.3 L497.4,1134.3 L498.2,1134.3 L499.0,1134.3 L499.9,1134.3 L500.7,1134.3 L501.5,1134.3 L502.4,1134.3 L503.2,1134.3 L504.1,1134.3 L504.9,1134.3 L505.7,1134.3 L506.6,1134.3 L507.4,1134.3 L508.2,1134.3 L509.1,1134.3 L509.9,1134.3 L510.8,1134.3 L511.6,1134.3 L512.4,1134.3 L513.3,1134.3 L514.1,1134.3 L515.0,1134.3 L515.8,1134.3 L516.6,1134.3 L517.5,1134.3 L518.3,1134.3 L519.1,1134.3 L520.0,1134.3 L520.8,1134.3 L521.7,1134.3 L522.5,1134.3 L523.3,1134.3 L524.2,1134.3 L525.0,1134.3 L525.8,1134.3 L526.7,1134.3 L527.5,1134.3 L528.4,1134.3 L529.2,1134.3 L530.0,1134.3 L530.9,1134.3 L531.7,1134.3 L532.6,1134.3 L533.4,1134.3 L534.2,1134.3 L535.1,1134.3 L535.9,1134.3 L536.7,1134.3 L537.6,1134.3 L538.4,1134.3 L539.3,1134.3 L540.1,1134.3 L540.9,1134.3 L541.8,1134.3 L542.6,1134.3 L543.5,1134.3 L544.3,1134.3 L545.1,1134.3 L546.0,1134.3 L546.8,1134.3 L547.6,1134.3 L548.5,1134.3 L549.3,1134.3 L550.2,1134.3 L551.0,1134.3 L551.8,1134.3 L552.7,1134.3 L553.5,1134.3 L554.3,1134.3 L555.2,1134.3 L556.0,1134.3 L556.9,1134.3 L557.7,1134.3 L558.5,1134.3 L559.4,1134.3 L560.2,1134.3 L561.1,1134.3 L561.9,1134.3 L562.7,1134.3 L563.6,1134.3 L564.4,1134.3 L565.2,1134.3 L566.1,1134.3 L566.9,1134.3 L567.8,1134.3 L568.6,1134.3 L569.4,1134.3 L570.3,1134.3 L571.1,1134.3 L571.9,1134.3 L572.8,1134.3 L573.6,1134.3 L574.5,1134.3 L575.3,1134.3 L576.1,1134.3 L577.0,1134.3 L577.8,1134.3 L578.7,1134.3 L579.5,1134.3 L580.3,1134.3 L581.2,1134.3 L582.0,1134.3 L582.8,1134.3 L583.7,1134.3 L584.5,1134.3 L585.4,1134.3 L586.2,1134.3 L587.0,1134.3 L587.9,1134.3 L588.7,1134.3 L589.5,1134.3 L590.4,1134.3 L591.2,1134.3 L592.1,1134.3 L592.9,1134.3 L593.7,1134.3 L594.6,1134.3 L595.4,1134.3 L596.3,1134.3 L597.1,1134.3 L597.9,1134.3 L598.8,1134.3 L599.6,1134.3 L600.4,1134.3 L601.3,1134.3 L602.1,1134.3 L603.0,1134.3 L603.8,1134.3 L604.6,1134.3 L605.5,1134.3 L606.3,1134.3 L607.1,1134.3 L608.0,1134.3 L608.8,1134.3 L609.7,1134.3" stroke="#147a20"/>
<path d="M106.8,1126.6 L107.6,1126.6 L108.5,1126.6 L109.3,1126.5 L110.2,1126.5 L111.0,1126.5 L111.8,1126.5 L112.7,1126.5 L113.5,1126.4 L114.3,1126.3 L115.2,1126.2 L116.0,1126.1 L116.9,1126.0 L117.7,1125.9 L118.5,1125.7 L119.4,1125.5 L120.2,1125.4 L121.0,1125.2 L121.9,1125.0 L122.7,1124.8 L123.6,1124.6 L124.4,1124.4 L125.2,1124.2 L126.1,1123.9 L126.9,1123.7 L127.8,1123.4 L128.6,1123.2 L129.4,1122.9 L130.3,1122.6 L131.1,1122.3 L131.9,1121.9 L132.8,1121.5 L133.6,1121.2 L134.5,1120.8 L135.3,1120.4 L136.1,1119.9 L137.0,1119.5 L137.8,1119.0 L138.6,1118.5 L139.5,1117.9 L140.3,1117.3 L141.2,1116.7 L142.0,1116.1 L142.8,1115.4 L143.7,1114.6 L144.5,1113.9 L145.4,1113.1 L146.2,1112.2 L147.0,1111.4 L147.9,1110.5 L148.7,1109.5 L149.5,1108.5 L150.4,1107.5 L151.2,1106.4 L152.1,1105.2 L152.9,1104.0 L153.7,1102.6 L154.6,1101.2 L155.4,1099.8 L156.2,1098.3 L157.1,1096.7 L157.9,1095.1 L158.8,1093.4 L159.6,1091.7 L160.4,1089.9 L161.3,1088.1 L162.1,1086.3 L163.0,1084.4 L163.8,1082.4 L164.6,1080.4 L165.5,1078.3 L166.3,1076.1 L167.1,1073.9 L168.0,1071.6 L168.8,1069.2 L169.7,1066.8 L170.5,1064.3 L171.3,1061.9 L172.2,1059.3 L173.0,1056.8 L173.8,1054.2 L174.7,1051.7 L175.5,1049.1 L176.4,1046.4 L177.2,1043.7 L178.0,1041.0 L178.9,1038.3 L179.7,1035.5 L180.6,1032.6 L181.4,1029.8 L182.2,1026.9 L183.1,1024.0 L183.9,1021.1 L184.7,1018.2 L185.6,1015.2 L186.4,1012.3 L187.3,1009.3 L188.1,1006.4 L188.9,1003.4 L189.8,1000.4 L190.6,997.4 L191.4,994.4 L192.3,991.4 L193.1,988.3 L194.0,985.3 L194.8,982.2 L195.6,979.2 L196.5,976.1 L197.3,973.1 L198.2,970.0 L199.0,967.0 L199.8,963.9 L200.7,960.9 L201.5,957.9 L202.3,954.9 L203.2,951.9 L204.0,948.9 L204.9,945.9 L205.7,942.9 L206.5,939.9 L207.4,936.9 L208.2,933.9 L209.0,930.8 L209.9,927.8 L210.7,924.8 L211.6,921.8 L212.4,918.7 L213.2,915.7 L214.1,912.6 L214.9,909.5 L215.8,906.5 L216.6,903.6 L217.4,900.8 L218.3,898.1 L219.1,895.7 L219.9,893.6 L220.8,891.7 L221.6,890.2 L222.5,889.0 L223.3,888.0 L224.1,887.2 L225.0,886.6 L225.8,886.0 L226.6,885.5 L227.5,885.1 L228.3,884.7 L229.2,884.3 L230.0,884.0 L230.8,883.7 L231.7,883.4 L232.5,883.1 L233.4,882.8 L234.2,882.6 L235.0,882.4 L235.9,882.2 L236.7,882.0 L237.5,881.8 L238.4,881.6 L239.2,881.4 L240.1,881.3 L240.9,881.1 L241.7,880.9 L242.6,880.8 L243.4,880.7 L244.2,880.5 L245.1,880.4 L245.9,880.2 L246.8,880.1 L247.6,880.0 L248.4,879.8 L249.3,879.7 L250.1,879.6 L251.0,879.4 L251.8,879.3 L252.6,879.2 L253.5,879.1 L254.3,878.9 L255.1,878.8 L256.0,878.7 L256.8,878.6 L257.7,878.5 L258.5,878.4 L259.3,878.3 L260.2,878.2 L261.0,878.2 L261.8,878.1 L262.7,878.0 L263.5,877.9 L264.4,877.9 L265.2,877.8 L266.0,877.7 L266.9,877.7 L267.7,877.6 L268.6,877.6 L269.4,877.5 L270.2,877.5 L271.1,877.5 L271.9,877.5 L272.7,877.4 L273.6,877.4 L274.4,877.4 L275.3,877.4 L276.1,877.4 L276.9,877.4 L277.8,877.5 L278.6,877.5 L279.4,877.5 L280.3,877.5 L281.1,877.6 L282.0,877.6 L282.8,877.6 L283.6,877.7 L284.5,877.7 L285.3,877.7 L286.2,877.8 L287.0,877.8 L287.8,877.9 L288.7,877.9 L289.5,878.0 L290.3,878.1 L291.2,878.1 L292.0,878.2 L292.9,878.3 L293.7,878.3 L294.5,878.4 L295.4,878.5 L296.2,878.6 L297.0,878.7 L297.9,878.8 L298.7,879.0 L299.6,879.1 L300.4,879.3 L301.2,879.5 L302.1,879.7 L302.9,880.0 L303.8,880.2 L304.6,880.5 L305.4,880.7 L306.3,881.0 L307.1,881.4 L307.9,881.7 L308.8,882.0 L309.6,882.4 L310.5,882.7 L311.3,883.1 L312.1,883.6 L313.0,884.0 L313.8,884.5 L314.6,885.1 L315.5,885.7 L316.3,886.4 L317.2,887.1 L318.0,887.9 L318.8,888.8 L319.7,889.7 L320.5,890.6 L321.4,891.6 L322.2,892.6 L323.0,893.7 L323.9,894.8 L324.7,895.9 L325.5,897.1 L326.4,898.4 L327.2,899.8 L328.1,901.2 L328.9,902.7 L329.7,904.4 L330.6,906.1 L331.4,908.0 L332.2,909.9 L333.1,912.0 L333.9,914.3 L334.8,916.8 L335.6,919.5 L336.4,922.4 L337.3,925.6 L338.1,929.0 L339.0,932.6 L339.8,936.5 L340.6,940.6 L341.5,945.0 L342.3,949.6 L343.1,954.4 L344.0,959.4 L344.8,964.7 L345.7,970.2 L346.5,975.8 L347.3,981.6 L348.2,987.6 L349.0,993.7 L349.8,999.9 L350.7,1006.2 L351.5,1012.6 L352.4,1019.0 L353.2,1025.3 L354.0,1031.7 L354.9,1038.0 L355.7,1044.3 L356.6,1050.6 L357.4,1056.8 L358.2,1062.9 L359.1,1069.0 L359.9,1075.0 L360.7,1081.0 L361.6,1086.8 L362.4,1092.4 L363.3,1097.8 L364.1,1102.8 L364.9,1107.3 L365.8,1111.5 L366.6,1115.2 L367.4,1118.5 L368.3,1121.4 L369.1,1123.9 L370.0,1126.0 L370.8,1127.8 L371.6,1129.3 L372.5,1130.5 L373.3,1131.5 L374.2,1132.3 L375.0,1133.0 L375.8,1133.5 L376.7,1133.9 L377.5,1134.3 L378.3,1134.5 L379.2,1134.8 L380.0,1134.9 L380.9,1135.1 L381.7,1135.2 L382.5,1135.2 L383.4,1135.3 L384.2,1135.3 L385.0,1135.3 L385.9,1135.3 L386.7,1135.3 L387.6,1135.3 L388.4,1135.3 L389.2,1135.3 L390.1,1135.3 L390.9,1135.3 L391.8,1135.3 L392.6,1135.3 L393.4,1135.4 L394.3,1135.4 L395.1,1135.4 L395.9,1135.4 L396.8,1135.4 L397.6,1135.4 L398.5,1135.4 L399.3,1135.4 L400.1,1135.4 L401.0,1135.4 L401.8,1135.4 L402.6,1135.4 L403.5,1135.4 L404.3,1135.4 L405.2,1135.4 L406.0,1135.4 L406.8,1135.4 L407.7,1135.4 L408.5,1135.4 L409.4,1135.4 L410.2,1135.4 L411.0,1135.4 L411.9,1135.5 L412.7,1135.5 L413.5,1135.5 L414.4,1135.5 L415.2,1135.5 L416.1,1135.5 L416.9,1135.5 L417.7,1135.5 L418.6,1135.5 L419.4,1135.5 L420.2,1135.5 L421.1,1135.5 L421.9,1135.5 L422.8,1135.5 L423.6,1135.5 L424.4,1135.5 L425.3,1135.5 L426.1,1135.5 L427.0,1135.5 L427.8,1135.5 L428.6,1135.5 L429.5,1135.5 L430.3,1135.5 L431.1,1135.5 L432.0,1135.5 L432.8,1135.5 L433.7,1135.5 L434.5,1135.5 L435.3,1135.5 L436.2,1135.5 L437.0,1135.5 L437.8,1135.5 L438.7,1135.5 L439.5,1135.5 L440.4,1135.5 L441.2,1135.5 L442.0,1135.5 L442.9,1135.5 L443.7,1135.5 L444.6,1135.6 L445.4,1135.6 L446.2,1135.6 L447.1,1135.6 L447.9,1135.6 L448.7,1135.6 L449.6,1135.6 L450.4,1135.6 L451.3,1135.6 L452.1,1135.6 L452.9,1135.6 L453.8,1135.6 L454.6,1135.6 L455.4,1135.6 L456.3,1135.6 L457.1,1135.6 L458.0,1135.6 L458.8,1135.6 L459.6,1135.6 L460.5,1135.6 L461.3,1135.6 L462.2,1135.6 L463.0,1135.6 L463.8,1135.6 L464.7,1135.6 L465.5,1135.6 L466.3,1135.6 L467.2,1135.6 L468.0,1135.6 L468.9,1135.6 L469.7,1135.6 L470.5,1135.6 L471.4,1135.6 L472.2,1135.6 L473.0,1135.6 L473.9,1135.6 L474.7,1135.6 L475.6,1135.6 L476.4,1135.6 L477.2,1135.6 L478.1,1135.6 L478.9,1135.6 L479.8,1135.6 L480.6,1135.6 L481.4,1135.6 L482.3,1135.6 L483.1,1135.6 L483.9,1135.6 L484.8,1135.6 L485.6,1135.6" stroke="#8f1ccc"/>
<path d="M106.8,1126.6 L107.6,1126.6 L108.5,1126.6 L109.3,1126.6 L110.2,1126.5 L111.0,1126.5 L111.8,1126.4 L112.7,1126.2 L113.5,1125.8 L114.3,1125.4 L115.2,1124.8 L116.0,1124.2 L116.9,1123.4 L117.7,1122.7 L118.5,1121.9 L119.4,1121.1 L120.2,1120.3 L121.0,1119.4 L121.9,1118.5 L122.7,1117.6 L123.6,1116.5 L124.4,1115.4 L125.2,1114.2 L126.1,1112.9 L126.9,1111.5 L127.8,1110.0 L128.6,1108.4 L129.4,1106.6 L130.3,1104.6 L131.1,1102.5 L131.9,1100.2 L132.8,1097.8 L133.6,1095.2 L134.5,1092.4 L135.3,1089.5 L136.1,1086.3 L137.0,1082.9 L137.8,1079.2 L138.6,1075.3 L139.5,1071.2 L140.3,1067.0 L141.2,1062.7 L142.0,1058.2 L142.8,1053.7 L143.7,1049.1 L144.5,1044.3 L145.4,1039.3 L146.2,1034.3 L147.0,1029.2 L147.9,1024.0 L148.7,1018.8 L149.5,1013.7 L150.4,1008.6 L151.2,1003.6 L152.1,998.5 L152.9,993.5 L153.7,988.4 L154.6,983.4 L155.4,978.4 L156.2,973.4 L157.1,968.5 L157.9,963.6 L158.8,958.7 L159.6,953.9 L160.4,949.0 L161.3,944.3 L162.1,939.5 L163.0,934.8 L163.8,930.1 L164.6,925.5 L165.5,920.9 L166.3,916.4 L167.1,912.0 L168.0,907.6 L168.8,903.2 L169.7,898.8 L170.5,894.4 L171.3,889.9 L172.2,885.4 L173.0,880.8 L173.8,876.2 L174.7,871.5 L175.5,866.7 L176.4,861.8 L177.2,856.7 L178.0,851.5 L178.9,846.5 L179.7,842.2 L180.6,838.7 L181.4,836.4 L182.2,834.8 L183.1,833.7 L183.9,833.0 L184.7,832.4 L185.6,831.9 L186.4,831.5 L187.3,831.0 L188.1,830.6 L188.9,830.3 L189.8,829.9 L190.6,829.6 L191.4,829.3 L192.3,829.0 L193.1,828.7 L194.0,828.4 L194.8,828.2 L195.6,827.9 L196.5,827.7 L197.3,827.5 L198.2,827.3 L199.0,827.1 L199.8,826.9 L200.7,826.8 L201.5,826.6 L202.3,826.4 L203.2,826.3 L204.0,826.1 L204.9,826.0 L205.7,825.8 L206.5,825.6 L207.4,825.5 L208.2,825.3 L209.0,825.2 L209.9,825.0 L210.7,824.9 L211.6,824.7 L212.4,824.5 L213.2,824.4 L214.1,824.2 L214.9,824.1 L215.8,823.9 L216.6,823.8 L217.4,823.6 L218.3,823.5 L219.1,823.3 L219.9,823.2 L220.8,823.1 L221.6,822.9 L222.5,822.8 L223.3,822.7 L224.1,822.6 L225.0,822.5 L225.8,822.4 L226.6,822.3 L227.5,822.2 L228.3,822.1 L229.2,822.1 L230.0,822.0 L230.8,822.0 L231.7,821.9 L232.5,821.9 L233.4,821.9 L234.2,821.8 L235.0,821.8 L235.9,821.8 L236.7,821.8 L237.5,821.8 L238.4,821.9 L239.2,821.9 L240.1,821.9 L240.9,821.9 L241.7,821.9 L242.6,822.0 L243.4,822.0 L244.2,822.0 L245.1,822.1 L245.9,822.1 L246.8,822.2 L247.6,822.2 L248.4,822.3 L249.3,822.3 L250.1,822.4 L251.0,822.4 L251.8,822.5 L252.6,822.5 L253.5,822.6 L254.3,822.6 L255.1,822.7 L256.0,822.8 L256.8,822.8 L257.7,822.9 L258.5,822.9 L259.3,823.0 L260.2,823.1 L261.0,823.1 L261.8,823.2 L262.7,823.3 L263.5,823.3 L264.4,823.4 L265.2,823.5 L266.0,823.6 L266.9,823.7 L267.7,823.8 L268.6,823.9 L269.4,824.0 L270.2,824.2 L271.1,824.3 L271.9,824.5 L272.7,824.6 L273.6,824.8 L274.4,825.0 L275.3,825.2 L276.1,825.4 L276.9,825.7 L277.8,826.1 L278.6,826.5 L279.4,827.1 L280.3,827.8 L281.1,828.5 L282.0,829.3 L282.8,830.1 L283.6,831.0 L284.5,831.8 L285.3,832.7 L286.2,833.6 L287.0,834.6 L287.8,835.6 L288.7,836.8 L289.5,838.0 L290.3,839.2 L291.2,840.6 L292.0,842.0 L292.9,843.6 L293.7,845.2 L294.5,847.0 L295.4,849.0 L296.2,851.2 L297.0,853.6 L297.9,856.3 L298.7,859.4 L299.6,862.8 L300.4,866.5 L301.2,870.5 L302.1,874.7 L302.9,879.2 L303.8,884.0 L304.6,889.1 L305.4,894.6 L306.3,900.5 L307.1,906.8 L307.9,913.3 L308.8,920.1 L309.6,927.1 L310.5,934.1 L311.3,941.2 L312.1,948.4 L313.0,955.6 L313.8,963.0 L314.6,970.6 L315.5,978.3 L316.3,986.1 L317.2,994.0 L318.0,1002.0 L318.8,1010.2 L319.7,1018.7 L320.5,1027.5 L321.4,1036.6 L322.2,1045.8 L323.0,1055.0 L323.9,1064.1 L324.7,1072.8 L325.5,1081.0 L326.4,1088.6 L327.2,1095.4 L328.1,1101.4 L328.9,1106.6 L329.7,1111.3 L330.6,1115.3 L331.4,1118.9 L332.2,1121.9 L333.1,1124.6 L333.9,1127.0 L334.8,1129.0 L335.6,1130.7 L336.4,1132.0 L337.3,1132.8 L338.1,1133.3 L339.0,1133.5 L339.8,1133.6 L340.6,1133.7 L341.5,1133.8 L342.3,1133.8 L343.1,1133.9 L344.0,1133.9 L344.8,1133.9 L345.7,1133.9 L346.5,1133.9 L347.3,1133.9 L348.2,1133.9 L349.0,1133.9 L349.8,1133.9 L350.7,1133.9 L351.5,1133.9 L352.4,1133.9 L353.2,1133.9 L354.0,1133.9 L354.9,1133.9 L355.7,1133.9 L356.6,1133.9 L357.4,1133.9 L358.2,1133.9 L359.1,1133.9 L359.9,1133.9 L360.7,1133.9 L361.6,1133.9 L362.4,1133.9 L363.3,1133.9 L364.1,1133.9 L364.9,1133.9 L365.8,1133.9 L366.6,1133.9 L367.4,1133.9 L368.3,1133.9 L369.1,1133.9 L370.0,1133.9 L370.8,1133.9 L371.6,1133.9 L372.5,1133.9 L373.3,1133.9 L374.2,1133.9 L375.0,1133.9 L375.8,1133.9 L376.7,1133.9 L377.5,1133.9 L378.3,1133.9 L379.2,1133.9 L380.0,1133.9 L380.9,1133.9 L381.7,1133.9 L382.5,1133.9 L383.4,1133.9 L384.2,1133.9 L385.0,1133.9 L385.9,1133.9 L386.7,1133.9 L387.6,1133.9 L388.4,1133.9 L389.2,1133.9 L390.1,1133.9 L390.9,1133.9 L391.8,1133.8 L392.6,1133.8 L393.4,1133.8 L394.3,1133.8 L395.1,1133.8 L395.9,1133.8 L396.8,1133.8 L397.6,1133.8 L398.5,1133.8 L399.3,1133.8 L400.1,1133.8 L401.0,1133.8 L401.8,1133.8 L402.6,1133.8 L403.5,1133.8 L404.3,1133.8 L405.2,1133.8 L406.0,1133.8 L406.8,1133.8 L407.7,1133.8 L408.5,1133.8 L409.4,1133.8 L410.2,1133.8 L411.0,1133.8 L411.9,1133.8 L412.7,1133.7 L413.5,1133.7 L414.4,1133.7 L415.2,1133.7 L416.1,1133.7 L416.9,1133.7 L417.7,1133.7 L418.6,1133.7 L419.4,1133.7 L420.2,1133.7 L421.1,1133.7 L421.9,1133.7 L422.8,1133.7 L423.6,1133.7 L424.4,1133.7 L425.3,1133.6 L426.1,1133.6 L427.0,1133.6 L427.8,1133.6 L428.6,1133.6 L429.5,1133.6 L430.3,1133.6 L431.1,1133.6 L432.0,1133.6" stroke="#30de34"/>
<path d="M106.8,1126.6 L107.6,1126.6 L108.5,1126.6 L109.3,1126.6 L110.2,1126.5 L111.0,1126.4 L111.8,1126.1 L112.7,1125.4 L113.5,1124.3 L114.3,1122.8 L115.2,1121.0 L116.0,1119.0 L116.9,1117.0 L117.7,1115.0 L118.5,1112.9 L119.4,1110.6 L120.2,1108.2 L121.0,1105.5 L121.9,1102.7 L122.7,1099.7 L123.6,1096.5 L124.4,1093.0 L125.2,1089.3 L126.1,1085.3 L126.9,1080.8 L127.8,1076.0 L128.6,1070.7 L129.4,1065.2 L130.3,1059.5 L131.1,1053.5 L131.9,1047.5 L132.8,1041.2 L133.6,1034.6 L134.5,1027.8 L135.3,1020.6 L136.1,1013.2 L137.0,1005.7 L137.8,998.1 L138.6,990.4 L139.5,982.9 L140.3,975.4 L141.2,968.0 L142.0,960.5 L142.8,953.1 L143.7,945.7 L144.5,938.2 L145.4,930.9 L146.2,923.5 L147.0,916.2 L147.9,909.0 L148.7,901.8 L149.5,894.5 L150.4,887.3 L151.2,879.9 L152.1,872.6 L152.9,865.1 L153.7,857.6 L154.6,849.9 L155.4,842.0 L156.2,833.9 L157.1,825.9 L157.9,818.9 L158.8,813.4 L159.6,809.6 L160.4,807.3 L161.3,805.7 L162.1,804.7 L163.0,803.9 L163.8,803.3 L164.6,802.7 L165.5,802.2 L166.3,801.7 L167.1,801.2 L168.0,800.7 L168.8,800.3 L169.7,799.9 L170.5,799.5 L171.3,799.2 L172.2,798.8 L173.0,798.5 L173.8,798.2 L174.7,797.9 L175.5,797.7 L176.4,797.4 L177.2,797.2 L178.0,797.0 L178.9,796.7 L179.7,796.5 L180.6,796.3 L181.4,796.2 L182.2,796.0 L183.1,795.8 L183.9,795.6 L184.7,795.4 L185.6,795.2 L186.4,795.1 L187.3,794.9 L188.1,794.7 L188.9,794.5 L189.8,794.4 L190.6,794.2 L191.4,794.0 L192.3,793.8 L193.1,793.7 L194.0,793.5 L194.8,793.3 L195.6,793.1 L196.5,793.0 L197.3,792.8 L198.2,792.7 L199.0,792.5 L199.8,792.4 L200.7,792.2 L201.5,792.1 L202.3,792.0 L203.2,791.8 L204.0,791.7 L204.9,791.6 L205.7,791.5 L206.5,791.4 L207.4,791.3 L208.2,791.2 L209.0,791.2 L209.9,791.1 L210.7,791.0 L211.6,791.0 L212.4,790.9 L213.2,790.9 L214.1,790.9 L214.9,790.9 L215.8,790.9 L216.6,790.9 L217.4,790.9 L218.3,790.9 L219.1,790.9 L219.9,790.9 L220.8,791.0 L221.6,791.0 L222.5,791.0 L223.3,791.0 L224.1,791.1 L225.0,791.1 L225.8,791.2 L226.6,791.2 L227.5,791.2 L228.3,791.3 L229.2,791.3 L230.0,791.4 L230.8,791.5 L231.7,791.5 L232.5,791.6 L233.4,791.6 L234.2,791.7 L235.0,791.8 L235.9,791.9 L236.7,791.9 L237.5,792.0 L238.4,792.2 L239.2,792.3 L240.1,792.5 L240.9,792.7 L241.7,792.9 L242.6,793.2 L243.4,793.5 L244.2,793.8 L245.1,794.1 L245.9,794.4 L246.8,794.7 L247.6,795.1 L248.4,795.4 L249.3,795.8 L250.1,796.1 L251.0,796.5 L251.8,796.9 L252.6,797.3 L253.5,797.8 L254.3,798.2 L255.1,798.7 L256.0,799.2 L256.8,799.8 L257.7,800.4 L258.5,801.0 L259.3,801.6 L260.2,802.3 L261.0,803.0 L261.8,803.8 L262.7,804.6 L263.5,805.4 L264.4,806.4 L265.2,807.4 L266.0,808.6 L266.9,809.8 L267.7,811.1 L268.6,812.4 L269.4,813.9 L270.2,815.4 L271.1,817.0 L271.9,818.6 L272.7,820.3 L273.6,822.1 L274.4,823.9 L275.3,825.9 L276.1,828.0 L276.9,830.2 L277.8,832.5 L278.6,834.9 L279.4,837.6 L280.3,840.4 L281.1,843.3 L282.0,846.5 L282.8,849.9 L283.6,853.7 L284.5,858.1 L285.3,862.8 L286.2,868.0 L287.0,873.6 L287.8,879.4 L288.7,885.5 L289.5,891.9 L290.3,898.6 L291.2,905.7 L292.0,913.2 L292.9,921.0 L293.7,929.0 L294.5,937.2 L295.4,945.6 L296.2,954.0 L297.0,962.6 L297.9,971.2 L298.7,979.9 L299.6,988.8 L300.4,998.1 L301.2,1007.8 L302.1,1017.7 L302.9,1027.8 L303.8,1037.9 L304.6,1048.0 L305.4,1057.8 L306.3,1067.3 L307.1,1076.4 L307.9,1084.9 L308.8,1092.8 L309.6,1100.0 L310.5,1106.6 L311.3,1112.6 L312.1,1117.6 L313.0,1121.7 L313.8,1124.8 L314.6,1127.4 L315.5,1129.6 L316.3,1131.3 L317.2,1132.4 L318.0,1133.1 L318.8,1133.4 L319.7,1133.6 L320.5,1133.7 L321.4,1133.8 L322.2,1133.8 L323.0,1133.9 L323.9,1133.9 L324.7,1133.9 L325.5,1133.9 L326.4,1133.9 L327.2,1133.9 L328.1,1133.9 L328.9,1133.9 L329.7,1133.9 L330.6,1133.9 L331.4,1133.9 L332.2,1133.9 L333.1,1133.9 L333.9,1133.9 L334.8,1133.9 L335.6,1133.9 L336.4,1133.9 L337.3,1133.9 L338.1,1133.9 L339.0,1133.9 L339.8,1133.9 L340.6,1133.9 L341.5,1133.9 L342.3,1133.9 L343.1,1133.9 L344.0,1133.9 L344.8,1133.9 L345.7,1133.9 L346.5,1133.9 L347.3,1133.9 L348.2,1133.9 L349.0,1133.9 L349.8,1133.9 L350.7,1133.9 L351.5,1133.9 L352.4,1133.9 L353.2,1133.9 L354.0,1133.9 L354.9,1133.9 L355.7,1133.9 L356.6,1133.9 L357.4,1133.9 L358.2,1133.9 L359.1,1133.9 L359.9,1133.9 L360.7,1133.9 L361.6,1133.9 L362.4,1133.9 L363.3,1133.9 L364.1,1133.9 L364.9,1133.9 L365.8,1133.9 L366.6,1133.9 L367.4,1133.9 L368.3,1133.9 L369.1,1133.9 L370.0,1133.9 L370.8,1133.9 L371.6,1133.9 L372.5,1133.9 L373.3,1133.9 L374.2,1133.9 L375.0,1133.9 L375.8,1133.9 L376.7,1133.9 L377.5,1133.9 L378.3,1133.9 L379.2,1133.9 L380.0,1133.9 L380.9,1133.9 L381.7,1133.9 L382.5,1133.8 L383.4,1133.8 L384.2,1133.8 L385.0,1133.8 L385.9,1133.8 L386.7,1133.8 L387.6,1133.8 L388.4,1133.8 L389.2,1133.8 L390.1,1133.8 L390.9,1133.8 L391.8,1133.8 L392.6,1133.8 L393.4,1133.8 L394.3,1133.8 L395.1,1133.8 L395.9,1133.8 L396.8,1133.8 L397.6,1133.8 L398.5,1133.8 L399.3,1133.8 L400.1,1133.8 L401.0,1133.8 L401.8,1133.8 L402.6,1133.8 L403.5,1133.8 L404.3,1133.8 L405.2,1133.8 L406.0,1133.8 L406.8,1133.8 L407.7,1133.8 L408.5,1133.7 L409.4,1133.7 L410.2,1133.7 L411.0,1133.7 L411.9,1133.7 L412.7,1133.7 L413.5,1133.7 L414.4,1133.7 L415.2,1133.7 L416.1,1133.7 L416.9,1133.7 L417.7,1133.7 L418.6,1133.7 L419.4,1133.7 L420.2,1133.7 L421.1,1133.7 L421.9,1133.7 L422.8,1133.7 L423.6,1133.7 L424.4,1133.6 L425.3,1133.6 L426.1,1133.6 L427.0,1133.6 L427.8,1133.6 L428.6,1133.6 L429.5,1133.6 L430.3,1133.6 L431.1,1133.6 L432.0,1133.6" stroke="#1c1cb4"/>
<path d="M106.8,1126.6 L107.2,1126.6 L107.6,1126.6 L108.1,1126.6 L108.5,1126.6 L108.9,1126.6 L109.3,1126.6 L109.7,1126.5 L110.2,1126.5 L110.6,1126.5 L111.0,1126.4 L111.4,1126.1 L111.8,1125.6 L112.2,1125.0 L112.7,1124.0 L113.1,1122.9 L113.5,1121.5 L113.9,1120.0 L114.3,1118.4 L114.8,1116.7 L115.2,1114.9 L115.6,1113.1 L116.0,1111.1 L116.4,1109.0 L116.9,1106.7 L117.3,1104.4 L117.7,1101.8 L118.1,1099.2 L118.5,1096.4 L119.0,1093.5 L119.4,1090.4 L119.8,1087.2 L120.2,1083.9 L120.6,1080.3 L121.0,1076.5 L121.5,1072.5 L121.9,1068.3 L122.3,1063.9 L122.7,1059.3 L123.1,1054.6 L123.6,1049.9 L124.0,1045.1 L124.4,1040.3 L124.8,1035.5 L125.2,1030.7 L125.7,1025.9 L126.1,1021.0 L126.5,1016.0 L126.9,1011.0 L127.3,1006.0 L127.8,1000.9 L128.2,995.8 L128.6,990.7 L129.0,985.6 L129.4,980.5 L129.8,975.4 L130.3,970.4 L130.7,965.3 L131.1,960.3 L131.5,955.3 L131.9,950.3 L132.4,945.3 L132.8,940.3 L133.2,935.3 L133.6,930.3 L134.0,925.4 L134.5,920.5 L134.9,915.6 L135.3,910.7 L135.7,905.8 L136.1,901.0 L136.6,896.2 L137.0,891.4 L137.4,886.5 L137.8,881.7 L138.2,876.8 L138.6,871.9 L139.1,867.0 L139.5,862.0 L139.9,857.1 L140.3,852.1 L140.7,847.0 L141.2,841.9 L141.6,836.8 L142.0,831.5 L142.4,826.1 L142.8,820.6 L143.3,815.1 L143.7,809.7 L144.1,804.4 L144.5,799.4 L144.9,794.8 L145.4,790.6 L145.8,787.0 L146.2,784.0 L146.6,781.7 L147.0,780.0 L147.4,778.7 L147.9,777.7 L148.3,776.9 L148.7,776.2 L149.1,775.7 L149.5,775.3 L150.0,774.9 L150.4,774.5 L150.8,774.2 L151.2,773.9 L151.6,773.6 L152.1,773.3 L152.5,773.1 L152.9,772.8 L153.3,772.5 L153.7,772.3 L154.2,772.0 L154.6,771.8 L155.0,771.5 L155.4,771.3 L155.8,771.1 L156.2,770.9 L156.7,770.7 L157.1,770.5 L157.5,770.3 L157.9,770.1 L158.3,769.9 L158.8,769.7 L159.2,769.5 L159.6,769.4 L160.0,769.2 L160.4,769.1 L160.9,768.9 L161.3,768.7 L161.7,768.6 L162.1,768.5 L162.5,768.3 L163.0,768.2 L163.4,768.1 L163.8,767.9 L164.2,767.8 L164.6,767.7 L165.0,767.6 L165.5,767.5 L165.9,767.4 L166.3,767.3 L166.7,767.2 L167.1,767.1 L167.6,767.0 L168.0,766.9 L168.4,766.8 L168.8,766.7 L169.2,766.6 L169.7,766.5 L170.1,766.4 L170.5,766.3 L170.9,766.3 L171.3,766.2 L171.8,766.1 L172.2,766.0 L172.6,765.9 L173.0,765.9 L173.4,765.8 L173.8,765.7 L174.3,765.6 L174.7,765.5 L175.1,765.5 L175.5,765.4 L175.9,765.3 L176.4,765.2 L176.8,765.2 L177.2,765.1 L177.6,765.0 L178.0,764.9 L178.5,764.9 L178.9,764.8 L179.3,764.7 L179.7,764.7 L180.1,764.6 L180.6,764.5 L181.0,764.4 L181.4,764.4 L181.8,764.3 L182.2,764.2 L182.6,764.2 L183.1,764.1 L183.5,764.0 L183.9,764.0 L184.3,763.9 L184.7,763.8 L185.2,763.8 L185.6,763.7 L186.0,763.6 L186.4,763.6 L186.8,763.5 L187.3,763.5 L187.7,763.4 L188.1,763.3 L188.5,763.3 L188.9,763.2 L189.4,763.2 L189.8,763.1 L190.2,763.1 L190.6,763.0 L191.0,763.0 L191.4,762.9 L191.9,762.9 L192.3,762.8 L192.7,762.8 L193.1,762.7 L193.5,762.7 L194.0,762.6 L194.4,762.6 L194.8,762.6 L195.2,762.5 L195.6,762.5 L196.1,762.4 L196.5,762.4 L196.9,762.4 L197.3,762.3 L197.7,762.3 L198.2,762.3 L198.6,762.3 L199.0,762.2 L199.4,762.2 L199.8,762.2 L200.2,762.2 L200.7,762.1 L201.1,762.1 L201.5,762.1 L201.9,762.1 L202.3,762.1 L202.8,762.1 L203.2,762.1 L203.6,762.0 L204.0,762.0 L204.4,762.0 L204.9,762.0 L205.3,762.0 L205.7,762.0 L206.1,762.0 L206.5,762.0 L207.0,762.0 L207.4,762.1 L207.8,762.1 L208.2,762.1 L208.6,762.1 L209.0,762.1 L209.5,762.1 L209.9,762.2 L210.3,762.2 L210.7,762.2 L211.1,762.2 L211.6,762.3 L212.0,762.3 L212.4,762.3 L212.8,762.3 L213.2,762.4 L213.7,762.4 L214.1,762.4 L214.5,762.5 L214.9,762.5 L215.3,762.6 L215.8,762.6 L216.2,762.6 L216.6,762.7 L217.0,762.7 L217.4,762.8 L217.8,762.8 L218.3,762.9 L218.7,762.9 L219.1,763.0 L219.5,763.0 L219.9,763.1 L220.4,763.1 L220.8,763.2 L221.2,763.2 L221.6,763.3 L222.0,763.3 L222.5,763.4 L222.9,763.4 L223.3,763.5 L223.7,763.5 L224.1,763.6 L224.6,763.7 L225.0,763.7 L225.4,763.8 L225.8,763.9 L226.2,763.9 L226.6,764.0 L227.1,764.1 L227.5,764.2 L227.9,764.3 L228.3,764.4 L228.7,764.5 L229.2,764.6 L229.6,764.7 L230.0,764.8 L230.4,764.9 L230.8,765.0 L231.3,765.1 L231.7,765.3 L232.1,765.4 L232.5,765.5 L232.9,765.7 L233.4,765.8 L233.8,765.9 L234.2,766.1 L234.6,766.2 L235.0,766.4 L235.4,766.5 L235.9,766.7 L236.3,766.8 L236.7,767.0 L237.1,767.1 L237.5,767.3 L238.0,767.5 L238.4,767.6 L238.8,767.8 L239.2,768.0 L239.6,768.2 L240.1,768.3 L240.5,768.5 L240.9,768.7 L241.3,768.9 L241.7,769.1 L242.2,769.3 L242.6,769.5 L243.0,769.7 L243.4,769.9 L243.8,770.2 L244.2,770.4 L244.7,770.6 L245.1,770.9 L245.5,771.2 L245.9,771.4 L246.3,771.7 L246.8,772.0 L247.2,772.3 L247.6,772.6 L248.0,772.9 L248.4,773.2 L248.9,773.5 L249.3,773.8 L249.7,774.1 L250.1,774.5 L250.5,774.8 L251.0,775.2 L251.4,775.6 L251.8,776.0 L252.2,776.4 L252.6,776.8 L253.0,777.2 L253.5,777.6 L253.9,778.0 L254.3,778.5 L254.7,778.9 L255.1,779.4 L255.6,779.9 L256.0,780.5 L256.4,781.0 L256.8,781.7 L257.2,782.3 L257.7,783.0 L258.1,783.8 L258.5,784.6 L258.9,785.4 L259.3,786.2 L259.8,787.1 L260.2,788.0 L260.6,788.9 L261.0,789.8 L261.4,790.8 L261.8,791.7 L262.3,792.7 L262.7,793.7 L263.1,794.7 L263.5,795.7 L263.9,796.7 L264.4,797.8 L264.8,798.8 L265.2,799.8 L265.6,800.8 L266.0,801.8 L266.5,802.8 L266.9,803.8 L267.3,804.8 L267.7,805.8 L268.1,806.8 L268.6,807.9 L269.0,808.9 L269.4,810.0 L269.8,811.1 L270.2,812.2 L270.6,813.4 L271.1,814.6 L271.5,815.9 L271.9,817.2 L272.3,818.6 L272.7,820.0 L273.2,821.4 L273.6,823.0 L274.0,824.6 L274.4,826.3 L274.8,828.1 L275.3,830.1 L275.7,832.2 L276.1,834.6 L276.5,837.1 L276.9,839.9 L277.4,842.9 L277.8,846.1 L278.2,849.5 L278.6,852.9 L279.0,856.5 L279.4,860.1 L279.9,863.8 L280.3,867.5 L280.7,871.1 L281.1,874.8 L281.5,878.5 L282.0,882.2 L282.4,886.0 L282.8,889.8 L283.2,893.6 L283.6,897.6 L284.1,901.5 L284.5,905.5 L284.9,909.6 L285.3,913.7 L285.7,917.9 L286.2,922.1 L286.6,926.3 L287.0,930.6 L287.4,934.8 L287.8,939.2 L288.2,943.5 L288.7,947.9 L289.1,952.3 L289.5,956.7 L289.9,961.1 L290.3,965.6 L290.8,970.1 L291.2,974.6 L291.6,979.2 L292.0,984.0 L292.4,988.8 L292.9,993.7 L293.3,998.8 L293.7,1003.9 L294.1,1009.1 L294.5,1014.4 L295.0,1019.7 L295.4,1025.0 L295.8,1030.3 L296.2,1035.6 L296.6,1040.9 L297.0,1046.2 L297.5,1051.4 L297.9,1056.5 L298.3,1061.5 L298.7,1066.4 L299.1,1071.2 L299.6,1075.9 L300.0,1080.4 L300.4,1084.7 L300.8,1088.8 L301.2,1092.7 L301.7,1096.5 L302.1,1100.1 L302.5,1103.5 L302.9,1106.7 L303.3,1109.9 L303.8,1112.8 L304.2,1115.5 L304.6,1117.9 L305.0,1120.0 L305.4,1121.9 L305.8,1123.5 L306.3,1125.0 L306.7,1126.3 L307.1,1127.5 L307.5,1128.6 L307.9,1129.7 L308.4,1130.6 L308.8,1131.4 L309.2,1132.0 L309.6,1132.5 L310.0,1132.9 L310.5,1133.2 L310.9,1133.4 L311.3,1133.5 L311.7,1133.6 L312.1,1133.6 L312.6,1133.7 L313.0,1133.7 L313.4,1133.8 L313.8,1133.8 L314.2,1133.8 L314.6,1133.8 L315.1,1133.9 L315.5,1133.9 L315.9,1133.9 L316.3,1133.9 L316.7,1133.9 L317.2,1133.9 L317.6,1133.9 L318.0,1133.9 L318.4,1133.9 L318.8,1133.9 L319.3,1133.9 L319.7,1133.9 L320.1,1133.9 L320.5,1133.9 L320.9,1133.9 L321.4,1133.9 L321.8,1133.9 L322.2,1133.9 L322.6,1133.9 L323.0,1133.9 L323.4,1133.9 L323.9,1133.9 L324.3,1133.9 L324.7,1133.9 L325.1,1133.9 L325.5,1133.9 L326.0,1133.9 L326.4,1133.9 L326.8,1133.9 L327.2,1133.9 L327.6,1133.9 L328.1,1133.9 L328.5,1133.9 L328.9,1133.9 L329.3,1133.9 L329.7,1133.9 L330.2,1133.9 L330.6,1133.9 L331.0,1133.9 L331.4,1133.9 L331.8,1133.9 L332.2,1133.9 L332.7,1133.9 L333.1,1133.9 L333.5,1133.9 L333.9,1133.9 L334.3,1133.9 L334.8,1133.9 L335.2,1133.9 L335.6,1133.9 L336.0,1133.9 L336.4,1133.9 L336.9,1133.9 L337.3,1133.9 L337.7,1133.9 L338.1,1133.9 L338.5,1133.9 L339.0,1133.9 L339.4,1133.9 L339.8,1133.9 L340.2,1133.9 L340.6,1133.9 L341.0,1133.9 L341.5,1133.9 L341.9,1133.9 L342.3,1133.9 L342.7,1133.9 L343.1,1133.9 L343.6,1133.9 L344.0,1133.9 L344.4,1133.9 L344.8,1133.9 L345.2,1133.9 L345.7,1133.9 L346.1,1133.9 L346.5,1133.9 L346.9,1133.9 L347.3,1133.9 L347.8,1133.9 L348.2,1133.9 L348.6,1133.9 L349.0,1133.9 L349.4,1133.9 L349.8,1133.9 L350.3,1133.9 L350.7,1133.9 L351.1,1133.9 L351.5,1133.9 L351.9,1133.9 L352.4,1133.9 L352.8,1133.9 L353.2,1133.9 L353.6,1133.9 L354.0,1133.9 L354.5,1133.9 L354.9,1133.9 L355.3,1133.9 L355.7,1133.9 L356.1,1133.9 L356.6,1133.9 L357.0,1133.9 L357.4,1133.9 L357.8,1133.9 L358.2,1133.9 L358.6,1133.9 L359.1,1133.9 L359.5,1133.9 L359.9,1133.9 L360.3,1133.9 L360.7,1133.9 L361.2,1133.9 L361.6,1133.9 L362.0,1133.9 L362.4,1133.9 L362.8,1133.9 L363.3,1133.9 L363.7,1133.9 L364.1,1133.9 L364.5,1133.9 L364.9,1133.9 L365.4,1133.9 L365.8,1133.9 L366.2,1133.9 L366.6,1133.9 L367.0,1133.9 L367.4,1133.9 L367.9,1133.9 L368.3,1133.9 L368.7,1133.9 L369.1,1133.9 L369.5,1133.9 L370.0,1133.9 L370.4,1133.9 L370.8,1133.9 L371.2,1133.9 L371.6,1133.9 L372.1,1133.9 L372.5,1133.9 L372.9,1133.9 L373.3,1133.9 L373.7,1133.9 L374.2,1133.9 L374.6,1133.9 L375.0,1133.9 L375.4,1133.9 L375.8,1133.9 L376.2,1133.9 L376.7,1133.9 L377.1,1133.9 L377.5,1133.9 L377.9,1133.9 L378.3,1133.8 L378.8,1133.8 L379.2,1133.8 L379.6,1133.8 L380.0,1133.8 L380.4,1133.8 L380.9,1133.8 L381.3,1133.8 L381.7,1133.8 L382.1,1133.8 L382.5,1133.8 L383.0,1133.8 L383.4,1133.8 L383.8,1133.8 L384.2,1133.8 L384.6,1133.8 L385.0,1133.8 L385.5,1133.8 L385.9,1133.8 L386.3,1133.8 L386.7,1133.8 L387.1,1133.8 L387.6,1133.8 L388.0,1133.8 L388.4,1133.8 L388.8,1133.8 L389.2,1133.8 L389.7,1133.8 L390.1,1133.8 L390.5,1133.8 L390.9,1133.8 L391.3,1133.8 L391.8,1133.8 L392.2,1133.8 L392.6,1133.8 L393.0,1133.8 L393.4,1133.8 L393.8,1133.8 L394.3,1133.8 L394.7,1133.8 L395.1,1133.8 L395.5,1133.8 L395.9,1133.8 L396.4,1133.8 L396.8,1133.8 L397.2,1133.8 L397.6,1133.8 L398.0,1133.8 L398.5,1133.8 L398.9,1133.8 L399.3,1133.8 L399.7,1133.8 L400.1,1133.8 L400.6,1133.8 L401.0,1133.8 L401.4,1133.8 L401.8,1133.8 L402.2,1133.8 L402.6,1133.8 L403.1,1133.8 L403.5,1133.8 L403.9,1133.8 L404.3,1133.8 L404.7,1133.8 L405.2,1133.8 L405.6,1133.8 L406.0,1133.8 L406.4,1133.7 L406.8,1133.7 L407.3,1133.7 L407.7,1133.7 L408.1,1133.7 L408.5,1133.7 L408.9,1133.7 L409.4,1133.7 L409.8,1133.7 L410.2,1133.7 L410.6,1133.7 L411.0,1133.7 L411.4,1133.7 L411.9,1133.7 L412.3,1133.7 L412.7,1133.7 L413.1,1133.7 L413.5,1133.7 L414.0,1133.7 L414.4,1133.7 L414.8,1133.7 L415.2,1133.7 L415.6,1133.7 L416.1,1133.7 L416.5,1133.7 L416.9,1133.7 L417.3,1133.7 L417.7,1133.7 L418.2,1133.7 L418.6,1133.7 L419.0,1133.7 L419.4,1133.7 L419.8,1133.7 L420.2,1133.7 L420.7,1133.7 L421.1,1133.7 L421.5,1133.7 L421.9,1133.7 L422.3,1133.7 L422.8,1133.7 L423.2,1133.6 L423.6,1133.6 L424.0,1133.6 L424.4,1133.6 L424.9,1133.6 L425.3,1133.6 L425.7,1133.6 L426.1,1133.6 L426.5,1133.6 L427.0,1133.6 L427.4,1133.6 L427.8,1133.6 L428.2,1133.6 L428.6,1133.6 L429.0,1133.6 L429.5,1133.6 L429.9,1133.6 L430.3,1133.6 L430.7,1133.6 L431.1,1133.6 L431.6,1133.6 L432.0,1133.6" stroke="#e01c18"/>
<path d="M106.8,1126.6 L107.2,1126.6 L107.6,1126.6 L108.1,1126.6 L108.5,1126.6 L108.9,1126.6 L109.3,1126.6 L109.7,1126.6 L110.2,1126.5 L110.6,1126.5 L111.0,1126.3 L111.4,1125.9 L111.8,1125.1 L112.2,1123.7 L112.7,1121.7 L113.1,1119.2 L113.5,1116.2 L113.9,1112.9 L114.3,1109.4 L114.8,1105.7 L115.2,1101.7 L115.6,1097.3 L116.0,1092.4 L116.4,1087.0 L116.9,1081.2 L117.3,1075.0 L117.7,1068.5 L118.1,1061.9 L118.5,1055.2 L119.0,1048.4 L119.4,1041.5 L119.8,1034.4 L120.2,1027.0 L120.6,1019.6 L121.0,1012.0 L121.5,1004.4 L121.9,996.9 L122.3,989.5 L122.7,982.3 L123.1,975.2 L123.6,968.2 L124.0,961.3 L124.4,954.4 L124.8,947.4 L125.2,940.5 L125.7,933.4 L126.1,926.1 L126.5,918.7 L126.9,911.2 L127.3,903.5 L127.8,895.7 L128.2,888.0 L128.6,880.4 L129.0,872.8 L129.4,865.2 L129.8,857.7 L130.3,850.2 L130.7,842.8 L131.1,835.4 L131.5,828.1 L131.9,820.8 L132.4,813.7 L132.8,806.5 L133.2,799.2 L133.6,792.0 L134.0,784.9 L134.5,778.0 L134.9,771.8 L135.3,766.2 L135.7,761.4 L136.1,757.4 L136.6,754.0 L137.0,751.3 L137.4,749.2 L137.8,747.7 L138.2,746.6 L138.6,745.7 L139.1,745.0 L139.5,744.5 L139.9,744.1 L140.3,743.8 L140.7,743.5 L141.2,743.3 L141.6,743.1 L142.0,742.9 L142.4,742.8 L142.8,742.6 L143.3,742.5 L143.7,742.3 L144.1,742.1 L144.5,742.0 L144.9,741.9 L145.4,741.7 L145.8,741.6 L146.2,741.5 L146.6,741.3 L147.0,741.2 L147.4,741.1 L147.9,741.0 L148.3,740.9 L148.7,740.8 L149.1,740.7 L149.5,740.6 L150.0,740.5 L150.4,740.4 L150.8,740.3 L151.2,740.2 L151.6,740.1 L152.1,740.0 L152.5,740.0 L152.9,739.9 L153.3,739.8 L153.7,739.7 L154.2,739.7 L154.6,739.6 L155.0,739.6 L155.4,739.5 L155.8,739.4 L156.2,739.4 L156.7,739.3 L157.1,739.3 L157.5,739.2 L157.9,739.2 L158.3,739.1 L158.8,739.1 L159.2,739.0 L159.6,739.0 L160.0,738.9 L160.4,738.9 L160.9,738.9 L161.3,738.8 L161.7,738.8 L162.1,738.7 L162.5,738.7 L163.0,738.7 L163.4,738.6 L163.8,738.6 L164.2,738.5 L164.6,738.5 L165.0,738.5 L165.5,738.4 L165.9,738.4 L166.3,738.3 L166.7,738.3 L167.1,738.3 L167.6,738.2 L168.0,738.2 L168.4,738.2 L168.8,738.1 L169.2,738.1 L169.7,738.1 L170.1,738.0 L170.5,738.0 L170.9,737.9 L171.3,737.9 L171.8,737.9 L172.2,737.8 L172.6,737.8 L173.0,737.8 L173.4,737.7 L173.8,737.7 L174.3,737.7 L174.7,737.6 L175.1,737.6 L175.5,737.6 L175.9,737.5 L176.4,737.5 L176.8,737.5 L177.2,737.5 L177.6,737.4 L178.0,737.4 L178.5,737.4 L178.9,737.3 L179.3,737.3 L179.7,737.3 L180.1,737.3 L180.6,737.2 L181.0,737.2 L181.4,737.2 L181.8,737.2 L182.2,737.1 L182.6,737.1 L183.1,737.1 L183.5,737.1 L183.9,737.1 L184.3,737.0 L184.7,737.0 L185.2,737.0 L185.6,737.0 L186.0,737.0 L186.4,737.0 L186.8,736.9 L187.3,736.9 L187.7,736.9 L188.1,736.9 L188.5,736.9 L188.9,736.9 L189.4,736.9 L189.8,736.9 L190.2,736.9 L190.6,736.9 L191.0,736.9 L191.4,736.9 L191.9,736.9 L192.3,736.9 L192.7,736.9 L193.1,736.9 L193.5,736.9 L194.0,736.9 L194.4,736.9 L194.8,736.9 L195.2,736.9 L195.6,736.9 L196.1,736.9 L196.5,736.9 L196.9,736.9 L197.3,736.9 L197.7,736.9 L198.2,737.0 L198.6,737.0 L199.0,737.0 L199.4,737.0 L199.8,737.0 L200.2,737.0 L200.7,737.1 L201.1,737.1 L201.5,737.1 L201.9,737.1 L202.3,737.2 L202.8,737.2 L203.2,737.2 L203.6,737.2 L204.0,737.3 L204.4,737.3 L204.9,737.3 L205.3,737.4 L205.7,737.4 L206.1,737.4 L206.5,737.5 L207.0,737.5 L207.4,737.5 L207.8,737.6 L208.2,737.6 L208.6,737.7 L209.0,737.7 L209.5,737.7 L209.9,737.8 L210.3,737.8 L210.7,737.9 L211.1,737.9 L211.6,738.0 L212.0,738.0 L212.4,738.0 L212.8,738.1 L213.2,738.1 L213.7,738.2 L214.1,738.2 L214.5,738.3 L214.9,738.3 L215.3,738.4 L215.8,738.4 L216.2,738.5 L216.6,738.5 L217.0,738.6 L217.4,738.7 L217.8,738.8 L218.3,738.8 L218.7,738.9 L219.1,739.0 L219.5,739.1 L219.9,739.2 L220.4,739.4 L220.8,739.5 L221.2,739.6 L221.6,739.7 L222.0,739.9 L222.5,740.0 L222.9,740.2 L223.3,740.3 L223.7,740.5 L224.1,740.6 L224.6,740.8 L225.0,741.0 L225.4,741.1 L225.8,741.3 L226.2,741.5 L226.6,741.7 L227.1,741.9 L227.5,742.1 L227.9,742.3 L228.3,742.5 L228.7,742.7 L229.2,742.9 L229.6,743.1 L230.0,743.3 L230.4,743.6 L230.8,743.8 L231.3,744.0 L231.7,744.2 L232.1,744.5 L232.5,744.7 L232.9,745.0 L233.4,745.3 L233.8,745.6 L234.2,745.9 L234.6,746.3 L235.0,746.6 L235.4,747.0 L235.9,747.4 L236.3,747.9 L236.7,748.3 L237.1,748.7 L237.5,749.2 L238.0,749.7 L238.4,750.1 L238.8,750.6 L239.2,751.1 L239.6,751.6 L240.1,752.1 L240.5,752.6 L240.9,753.1 L241.3,753.6 L241.7,754.1 L242.2,754.6 L242.6,755.1 L243.0,755.7 L243.4,756.2 L243.8,756.8 L244.2,757.4 L244.7,758.0 L245.1,758.6 L245.5,759.2 L245.9,759.8 L246.3,760.4 L246.8,761.1 L247.2,761.7 L247.6,762.4 L248.0,763.1 L248.4,763.8 L248.9,764.5 L249.3,765.3 L249.7,766.0 L250.1,766.8 L250.5,767.6 L251.0,768.4 L251.4,769.2 L251.8,770.0 L252.2,770.9 L252.6,771.8 L253.0,772.7 L253.5,773.6 L253.9,774.5 L254.3,775.5 L254.7,776.5 L255.1,777.5 L255.6,778.6 L256.0,779.6 L256.4,780.7 L256.8,781.9 L257.2,783.0 L257.7,784.2 L258.1,785.4 L258.5,786.7 L258.9,787.9 L259.3,789.3 L259.8,790.6 L260.2,792.0 L260.6,793.4 L261.0,794.9 L261.4,796.5 L261.8,798.1 L262.3,799.8 L262.7,801.6 L263.1,803.4 L263.5,805.3 L263.9,807.3 L264.4,809.3 L264.8,811.4 L265.2,813.6 L265.6,815.8 L266.0,818.0 L266.5,820.4 L266.9,822.7 L267.3,825.2 L267.7,827.7 L268.1,830.4 L268.6,833.2 L269.0,836.1 L269.4,839.2 L269.8,842.4 L270.2,845.7 L270.6,849.1 L271.1,852.7 L271.5,856.2 L271.9,859.9 L272.3,863.6 L272.7,867.3 L273.2,871.0 L273.6,874.7 L274.0,878.4 L274.4,882.1 L274.8,885.8 L275.3,889.6 L275.7,893.3 L276.1,897.1 L276.5,900.9 L276.9,904.7 L277.4,908.6 L277.8,912.5 L278.2,916.4 L278.6,920.4 L279.0,924.4 L279.4,928.4 L279.9,932.4 L280.3,936.5 L280.7,940.6 L281.1,944.7 L281.5,948.9 L282.0,953.0 L282.4,957.2 L282.8,961.5 L283.2,965.7 L283.6,970.0 L284.1,974.4 L284.5,978.8 L284.9,983.3 L285.3,987.9 L285.7,992.6 L286.2,997.5 L286.6,1002.4 L287.0,1007.5 L287.4,1012.7 L287.8,1017.9 L288.2,1023.1 L288.7,1028.4 L289.1,1033.7 L289.5,1038.9 L289.9,1044.2 L290.3,1049.4 L290.8,1054.5 L291.2,1059.6 L291.6,1064.5 L292.0,1069.4 L292.4,1074.1 L292.9,1078.7 L293.3,1083.1 L293.7,1087.3 L294.1,1091.4 L294.5,1095.2 L295.0,1098.8 L295.4,1102.2 L295.8,1105.5 L296.2,1108.7 L296.6,1111.6 L297.0,1114.5 L297.5,1117.0 L297.9,1119.4 L298.3,1121.4 L298.7,1123.1 L299.1,1124.6 L299.6,1126.0 L300.0,1127.3 L300.4,1128.5 L300.8,1129.5 L301.2,1130.5 L301.7,1131.4 L302.1,1132.1 L302.5,1132.6 L302.9,1133.0 L303.3,1133.2 L303.8,1133.4 L304.2,1133.5 L304.6,1133.6 L305.0,1133.6 L305.4,1133.7 L305.8,1133.7 L306.3,1133.7 L306.7,1133.8 L307.1,1133.8 L307.5,1133.8 L307.9,1133.9 L308.4,1133.9 L308.8,1133.9 L309.2,1133.9 L309.6,1133.9 L310.0,1133.9 L310.5,1133.9 L310.9,1133.9 L311.3,1133.9 L311.7,1133.9 L312.1,1133.9 L312.6,1133.9 L313.0,1133.9 L313.4,1133.9 L313.8,1133.9 L314.2,1133.9 L314.6,1133.9 L315.1,1133.9 L315.5,1133.9 L315.9,1133.9 L316.3,1133.9 L316.7,1133.9 L317.2,1133.9 L317.6,1133.9 L318.0,1133.9 L318.4,1133.9 L318.8,1133.9 L319.3,1133.9 L319.7,1133.9 L320.1,1133.9 L320.5,1133.9 L320.9,1133.9 L321.4,1133.9 L321.8,1133.9 L322.2,1133.9 L322.6,1133.9 L323.0,1133.9 L323.4,1133.9 L323.9,1133.9 L324.3,1133.9 L324.7,1133.9 L325.1,1133.9 L325.5,1133.9 L326.0,1133.9 L326.4,1133.9 L326.8,1133.9 L327.2,1133.9 L327.6,1133.9 L328.1,1133.9 L328.5,1133.9 L328.9,1133.9 L329.3,1133.9 L329.7,1133.9 L330.2,1133.9 L330.6,1133.9 L331.0,1133.9 L331.4,1133.9 L331.8,1133.9 L332.2,1133.9 L332.7,1133.9 L333.1,1133.9 L333.5,1133.9 L333.9,1133.9 L334.3,1133.9 L334.8,1133.9 L335.2,1133.9 L335.6,1133.9 L336.0,1133.9 L336.4,1133.9 L336.9,1133.9 L337.3,1133.9 L337.7,1133.9 L338.1,1133.9 L338.5,1133.9 L339.0,1133.9 L339.4,1133.9 L339.8,1133.9 L340.2,1133.9 L340.6,1133.9 L341.0,1133.9 L341.5,1133.9 L341.9,1133.9 L342.3,1133.9 L342.7,1133.9 L343.1,1133.9 L343.6,1133.9 L344.0,1133.9 L344.4,1133.9 L344.8,1133.9 L345.2,1133.9 L345.7,1133.9 L346.1,1133.9 L346.5,1133.9 L346.9,1133.9 L347.3,1133.9 L347.8,1133.9 L348.2,1133.9 L348.6,1133.9 L349.0,1133.9 L349.4,1133.9 L349.8,1133.9 L350.3,1133.9 L350.7,1133.9 L351.1,1133.9 L351.5,1133.9 L351.9,1133.9 L352.4,1133.9 L352.8,1133.9 L353.2,1133.9 L353.6,1133.9 L354.0,1133.9 L354.5,1133.9 L354.9,1133.9 L355.3,1133.9 L355.7,1133.9 L356.1,1133.9 L356.6,1133.9 L357.0,1133.9 L357.4,1133.9 L357.8,1133.9 L358.2,1133.9 L358.6,1133.9 L359.1,1133.9 L359.5,1133.9 L359.9,1133.9 L360.3,1133.9 L360.7,1133.9 L361.2,1133.9 L361.6,1133.9 L362.0,1133.9 L362.4,1133.9 L362.8,1133.9 L363.3,1133.9 L363.7,1133.9 L364.1,1133.9 L364.5,1133.9 L364.9,1133.9 L365.4,1133.9 L365.8,1133.9 L366.2,1133.9 L366.6,1133.9 L367.0,1133.9 L367.4,1133.9 L367.9,1133.9 L368.3,1133.9 L368.7,1133.9 L369.1,1133.9 L369.5,1133.9 L370.0,1133.9 L370.4,1133.9 L370.8,1133.9 L371.2,1133.9 L371.6,1133.9 L372.1,1133.9 L372.5,1133.9 L372.9,1133.9 L373.3,1133.9 L373.7,1133.9 L374.2,1133.9 L374.6,1133.9 L375.0,1133.8 L375.4,1133.8 L375.8,1133.8 L376.2,1133.8 L376.7,1133.8 L377.1,1133.8 L377.5,1133.8 L377.9,1133.8 L378.3,1133.8 L378.8,1133.8 L379.2,1133.8 L379.6,1133.8 L380.0,1133.8 L380.4,1133.8 L380.9,1133.8 L381.3,1133.8 L381.7,1133.8 L382.1,1133.8 L382.5,1133.8 L383.0,1133.8 L383.4,1133.8 L383.8,1133.8 L384.2,1133.8 L384.6,1133.8 L385.0,1133.8 L385.5,1133.8 L385.9,1133.8 L386.3,1133.8 L386.7,1133.8 L387.1,1133.8 L387.6,1133.8 L388.0,1133.8 L388.4,1133.8 L388.8,1133.8 L389.2,1133.8 L389.7,1133.8 L390.1,1133.8 L390.5,1133.8 L390.9,1133.8 L391.3,1133.8 L391.8,1133.8 L392.2,1133.8 L392.6,1133.8 L393.0,1133.8 L393.4,1133.8 L393.8,1133.8 L394.3,1133.8 L394.7,1133.8 L395.1,1133.8 L395.5,1133.8 L395.9,1133.8 L396.4,1133.8 L396.8,1133.8 L397.2,1133.8 L397.6,1133.8 L398.0,1133.8 L398.5,1133.8 L398.9,1133.8 L399.3,1133.8 L399.7,1133.8 L400.1,1133.8 L400.6,1133.8 L401.0,1133.8 L401.4,1133.8 L401.8,1133.8 L402.2,1133.8 L402.6,1133.8 L403.1,1133.8 L403.5,1133.8 L403.9,1133.8 L404.3,1133.8 L404.7,1133.8 L405.2,1133.7 L405.6,1133.7 L406.0,1133.7 L406.4,1133.7 L406.8,1133.7 L407.3,1133.7 L407.7,1133.7 L408.1,1133.7 L408.5,1133.7 L408.9,1133.7 L409.4,1133.7 L409.8,1133.7 L410.2,1133.7 L410.6,1133.7 L411.0,1133.7 L411.4,1133.7 L411.9,1133.7 L412.3,1133.7 L412.7,1133.7 L413.1,1133.7 L413.5,1133.7 L414.0,1133.7 L414.4,1133.7 L414.8,1133.7 L415.2,1133.7 L415.6,1133.7 L416.1,1133.7 L416.5,1133.7 L416.9,1133.7 L417.3,1133.7 L417.7,1133.7 L418.2,1133.7 L418.6,1133.7 L419.0,1133.7 L419.4,1133.7 L419.8,1133.7 L420.2,1133.7 L420.7,1133.7 L421.1,1133.7 L421.5,1133.7 L421.9,1133.7 L422.3,1133.7 L422.8,1133.6 L423.2,1133.6 L423.6,1133.6 L424.0,1133.6 L424.4,1133.6 L424.9,1133.6 L425.3,1133.6 L425.7,1133.6 L426.1,1133.6 L426.5,1133.6 L427.0,1133.6 L427.4,1133.6 L427.8,1133.6 L428.2,1133.6 L428.6,1133.6 L429.0,1133.6 L429.5,1133.6 L429.9,1133.6 L430.3,1133.6 L430.7,1133.6 L431.1,1133.6 L431.6,1133.6 L432.0,1133.6" stroke="#000000"/>
<path d="M106.8,1126.6 L107.2,1126.6 L107.6,1126.6 L108.1,1126.6 L108.5,1126.6 L108.9,1126.6 L109.3,1126.6 L109.7,1126.6 L110.2,1126.6 L110.6,1126.6 L111.0,1126.6 L111.4,1126.5 L111.8,1125.1 L112.2,1122.0 L112.7,1117.7 L113.1,1112.6 L113.5,1107.2 L113.9,1101.9 L114.3,1095.8 L114.8,1088.7 L115.2,1080.8 L115.6,1072.3 L116.0,1063.5 L116.4,1054.6 L116.9,1045.7 L117.3,1037.1 L117.7,1028.4 L118.1,1019.6 L118.5,1010.5 L119.0,1001.4 L119.4,992.3 L119.8,983.1 L120.2,973.9 L120.6,964.5 L121.0,955.0 L121.5,945.4 L121.9,936.1 L122.3,927.1 L122.7,918.7 L123.1,910.8 L123.6,903.2 L124.0,895.7 L124.4,887.9 L124.8,879.9 L125.2,871.9 L125.7,863.8 L126.1,855.7 L126.5,847.5 L126.9,839.3 L127.3,831.1 L127.8,822.9 L128.2,814.8 L128.6,806.6 L129.0,798.4 L129.4,790.1 L129.8,781.7 L130.3,773.4 L130.7,765.1 L131.1,757.1 L131.5,749.3 L131.9,741.4 L132.4,732.8 L132.8,730.4 L133.2,730.0 L133.6,729.8 L134.0,729.6 L134.5,729.5 L134.9,729.4 L135.3,729.3 L135.7,729.1 L136.1,729.0 L136.6,728.9 L137.0,728.8 L137.4,728.7 L137.8,728.6 L138.2,728.5 L138.6,728.4 L139.1,728.3 L139.5,728.2 L139.9,728.1 L140.3,728.0 L140.7,727.9 L141.2,727.8 L141.6,727.8 L142.0,727.7 L142.4,727.6 L142.8,727.5 L143.3,727.5 L143.7,727.4 L144.1,727.3 L144.5,727.2 L144.9,727.2 L145.4,727.1 L145.8,727.1 L146.2,727.0 L146.6,726.9 L147.0,726.9 L147.4,726.8 L147.9,726.8 L148.3,726.7 L148.7,726.7 L149.1,726.6 L149.5,726.6 L150.0,726.5 L150.4,726.5 L150.8,726.4 L151.2,726.4 L151.6,726.3 L152.1,726.3 L152.5,726.2 L152.9,726.2 L153.3,726.2 L153.7,726.1 L154.2,726.1 L154.6,726.0 L155.0,726.0 L155.4,726.0 L155.8,725.9 L156.2,725.9 L156.7,725.9 L157.1,725.8 L157.5,725.8 L157.9,725.8 L158.3,725.7 L158.8,725.7 L159.2,725.7 L159.6,725.6 L160.0,725.6 L160.4,725.6 L160.9,725.5 L161.3,725.5 L161.7,725.5 L162.1,725.4 L162.5,725.4 L163.0,725.4 L163.4,725.3 L163.8,725.3 L164.2,725.3 L164.6,725.3 L165.0,725.2 L165.5,725.2 L165.9,725.2 L166.3,725.1 L166.7,725.1 L167.1,725.1 L167.6,725.0 L168.0,725.0 L168.4,725.0 L168.8,725.0 L169.2,724.9 L169.7,724.9 L170.1,724.9 L170.5,724.9 L170.9,724.8 L171.3,724.8 L171.8,724.8 L172.2,724.8 L172.6,724.7 L173.0,724.7 L173.4,724.7 L173.8,724.7 L174.3,724.6 L174.7,724.6 L175.1,724.6 L175.5,724.6 L175.9,724.6 L176.4,724.5 L176.8,724.5 L177.2,724.5 L177.6,724.5 L178.0,724.5 L178.5,724.5 L178.9,724.4 L179.3,724.4 L179.7,724.4 L180.1,724.4 L180.6,724.4 L181.0,724.4 L181.4,724.4 L181.8,724.3 L182.2,724.3 L182.6,724.3 L183.1,724.3 L183.5,724.3 L183.9,724.3 L184.3,724.3 L184.7,724.3 L185.2,724.3 L185.6,724.3 L186.0,724.3 L186.4,724.3 L186.8,724.3 L187.3,724.3 L187.7,724.3 L188.1,724.3 L188.5,724.3 L188.9,724.3 L189.4,724.3 L189.8,724.3 L190.2,724.3 L190.6,724.4 L191.0,724.4 L191.4,724.4 L191.9,724.4 L192.3,724.5 L192.7,724.5 L193.1,724.6 L193.5,724.6 L194.0,724.6 L194.4,724.7 L194.8,724.7 L195.2,724.8 L195.6,724.8 L196.1,724.9 L196.5,725.0 L196.9,725.0 L197.3,725.1 L197.7,725.2 L198.2,725.2 L198.6,725.3 L199.0,725.4 L199.4,725.4 L199.8,725.5 L200.2,725.6 L200.7,725.6 L201.1,725.7 L201.5,725.8 L201.9,725.9 L202.3,725.9 L202.8,726.0 L203.2,726.1 L203.6,726.2 L204.0,726.3 L204.4,726.3 L204.9,726.4 L205.3,726.5 L205.7,726.6 L206.1,726.7 L206.5,726.7 L207.0,726.8 L207.4,726.9 L207.8,727.0 L208.2,727.0 L208.6,727.1 L209.0,727.2 L209.5,727.3 L209.9,727.4 L210.3,727.5 L210.7,727.6 L211.1,727.7 L211.6,727.7 L212.0,727.8 L212.4,727.9 L212.8,728.0 L213.2,728.1 L213.7,728.3 L214.1,728.4 L214.5,728.5 L214.9,728.6 L215.3,728.7 L215.8,728.8 L216.2,728.9 L216.6,729.1 L217.0,729.2 L217.4,729.3 L217.8,729.4 L218.3,729.6 L218.7,729.7 L219.1,729.9 L219.5,730.0 L219.9,730.1 L220.4,730.3 L220.8,730.4 L221.2,730.6 L221.6,730.8 L222.0,730.9 L222.5,731.1 L222.9,731.2 L223.3,731.4 L223.7,731.6 L224.1,731.8 L224.6,731.9 L225.0,732.1 L225.4,732.3 L225.8,732.5 L226.2,732.7 L226.6,733.0 L227.1,733.2 L227.5,733.4 L227.9,733.7 L228.3,733.9 L228.7,734.2 L229.2,734.5 L229.6,734.8 L230.0,735.1 L230.4,735.4 L230.8,735.7 L231.3,736.0 L231.7,736.4 L232.1,736.7 L232.5,737.1 L232.9,737.4 L233.4,737.8 L233.8,738.2 L234.2,738.6 L234.6,739.0 L235.0,739.4 L235.4,739.8 L235.9,740.2 L236.3,740.6 L236.7,741.0 L237.1,741.5 L237.5,741.9 L238.0,742.4 L238.4,742.8 L238.8,743.3 L239.2,743.8 L239.6,744.2 L240.1,744.7 L240.5,745.2 L240.9,745.8 L241.3,746.3 L241.7,746.9 L242.2,747.5 L242.6,748.1 L243.0,748.8 L243.4,749.5 L243.8,750.2 L244.2,750.9 L244.7,751.6 L245.1,752.4 L245.5,753.2 L245.9,754.0 L246.3,754.8 L246.8,755.6 L247.2,756.4 L247.6,757.3 L248.0,758.1 L248.4,759.0 L248.9,759.9 L249.3,760.8 L249.7,761.7 L250.1,762.6 L250.5,763.5 L251.0,764.4 L251.4,765.3 L251.8,766.2 L252.2,767.1 L252.6,768.1 L253.0,769.1 L253.5,770.1 L253.9,771.1 L254.3,772.1 L254.7,773.1 L255.1,774.2 L255.6,775.3 L256.0,776.5 L256.4,777.6 L256.8,778.8 L257.2,780.1 L257.7,781.3 L258.1,782.6 L258.5,784.0 L258.9,785.4 L259.3,786.8 L259.8,788.3 L260.2,789.8 L260.6,791.4 L261.0,793.2 L261.4,795.1 L261.8,797.1 L262.3,799.1 L262.7,801.3 L263.1,803.6 L263.5,805.9 L263.9,808.4 L264.4,810.9 L264.8,813.4 L265.2,816.0 L265.6,818.6 L266.0,821.3 L266.5,824.0 L266.9,826.9 L267.3,829.9 L267.7,832.9 L268.1,836.1 L268.6,839.3 L269.0,842.6 L269.4,846.0 L269.8,849.5 L270.2,853.0 L270.6,856.6 L271.1,860.2 L271.5,863.8 L271.9,867.4 L272.3,871.1 L272.7,874.8 L273.2,878.5 L273.6,882.2 L274.0,886.0 L274.4,889.9 L274.8,893.8 L275.3,897.7 L275.7,901.7 L276.1,905.7 L276.5,909.8 L276.9,913.8 L277.4,918.0 L277.8,922.1 L278.2,926.3 L278.6,930.6 L279.0,934.8 L279.4,939.1 L279.9,943.5 L280.3,947.8 L280.7,952.2 L281.1,956.6 L281.5,961.0 L282.0,965.5 L282.4,970.0 L282.8,974.4 L283.2,979.1 L283.6,983.8 L284.1,988.8 L284.5,993.9 L284.9,999.1 L285.3,1004.4 L285.7,1009.8 L286.2,1015.2 L286.6,1020.7 L287.0,1026.2 L287.4,1031.8 L287.8,1037.3 L288.2,1042.8 L288.7,1048.2 L289.1,1053.6 L289.5,1058.9 L289.9,1064.1 L290.3,1069.1 L290.8,1074.0 L291.2,1078.8 L291.6,1083.3 L292.0,1087.7 L292.4,1091.8 L292.9,1095.7 L293.3,1099.4 L293.7,1102.7 L294.1,1105.9 L294.5,1109.1 L295.0,1112.1 L295.4,1114.9 L295.8,1117.5 L296.2,1119.8 L296.6,1121.8 L297.0,1123.4 L297.5,1124.8 L297.9,1126.1 L298.3,1127.4 L298.7,1128.6 L299.1,1129.8 L299.6,1130.8 L300.0,1131.6 L300.4,1132.4 L300.8,1132.9 L301.2,1133.2 L301.7,1133.4 L302.1,1133.5 L302.5,1133.5 L302.9,1133.6 L303.3,1133.6 L303.8,1133.7 L304.2,1133.7 L304.6,1133.8 L305.0,1133.8 L305.4,1133.8 L305.8,1133.8 L306.3,1133.9 L306.7,1133.9 L307.1,1133.9 L307.5,1133.9 L307.9,1133.9 L308.4,1133.9 L308.8,1133.9 L309.2,1133.9 L309.6,1133.9 L310.0,1133.9 L310.5,1133.9 L310.9,1133.9 L311.3,1133.9 L311.7,1133.9 L312.1,1133.9 L312.6,1133.9 L313.0,1133.9 L313.4,1133.9 L313.8,1133.9 L314.2,1133.9 L314.6,1133.9 L315.1,1133.9 L315.5,1133.9 L315.9,1133.9 L316.3,1133.9 L316.7,1133.9 L317.2,1133.9 L317.6,1133.9 L318.0,1133.9 L318.4,1133.9 L318.8,1133.9 L319.3,1133.9 L319.7,1133.9 L320.1,1133.9 L320.5,1133.9 L320.9,1133.9 L321.4,1133.9 L321.8,1133.9 L322.2,1133.9 L322.6,1133.9 L323.0,1133.9 L323.4,1133.9 L323.9,1133.9 L324.3,1133.9 L324.7,1133.9 L325.1,1133.9 L325.5,1133.9 L326.0,1133.9 L326.4,1133.9 L326.8,1133.9 L327.2,1133.9 L327.6,1133.9 L328.1,1133.9 L328.5,1133.9 L328.9,1133.9 L329.3,1133.9 L329.7,1133.9 L330.2,1133.9 L330.6,1133.9 L331.0,1133.9 L331.4,1133.9 L331.8,1133.9 L332.2,1133.9 L332.7,1133.9 L333.1,1133.9 L333.5,1133.9 L333.9,1133.9 L334.3,1133.9 L334.8,1133.9 L335.2,1133.9 L335.6,1133.9 L336.0,1133.9 L336.4,1133.9 L336.9,1133.9 L337.3,1133.9 L337.7,1133.9 L338.1,1133.9 L338.5,1133.9 L339.0,1133.9 L339.4,1133.9 L339.8,1133.9 L340.2,1133.9 L340.6,1133.9 L341.0,1133.9 L341.5,1133.9 L341.9,1133.9 L342.3,1133.9 L342.7,1133.9 L343.1,1133.9 L343.6,1133.9 L344.0,1133.9 L344.4,1133.9 L344.8,1133.9 L345.2,1133.9 L345.7,1133.9 L346.1,1133.9 L346.5,1133.9 L346.9,1133.9 L347.3,1133.9 L347.8,1133.9 L348.2,1133.9 L348.6,1133.9 L349.0,1133.9 L349.4,1133.9 L349.8,1133.9 L350.3,1133.9 L350.7,1133.9 L351.1,1133.9 L351.5,1133.9 L351.9,1133.9 L352.4,1133.9 L352.8,1133.9 L353.2,1133.9 L353.6,1133.9 L354.0,1133.9 L354.5,1133.9 L354.9,1133.9 L355.3,1133.9 L355.7,1133.9 L356.1,1133.9 L356.6,1133.9 L357.0,1133.9 L357.4,1133.9 L357.8,1133.9 L358.2,1133.9 L358.6,1133.9 L359.1,1133.9 L359.5,1133.9 L359.9,1133.9 L360.3,1133.9 L360.7,1133.9 L361.2,1133.9 L361.6,1133.9 L362.0,1133.9 L362.4,1133.9 L362.8,1133.9 L363.3,1133.9 L363.7,1133.9 L364.1,1133.9 L364.5,1133.9 L364.9,1133.9 L365.4,1133.9 L365.8,1133.9 L366.2,1133.9 L366.6,1133.9 L367.0,1133.9 L367.4,1133.9 L367.9,1133.9 L368.3,1133.9 L368.7,1133.9 L369.1,1133.9 L369.5,1133.9 L370.0,1133.9 L370.4,1133.9 L370.8,1133.9 L371.2,1133.9 L371.6,1133.9 L372.1,1133.9 L372.5,1133.9 L372.9,1133.9 L373.3,1133.9 L373.7,1133.9 L374.2,1133.9 L374.6,1133.8 L375.0,1133.8 L375.4,1133.8 L375.8,1133.8 L376.2,1133.8 L376.7,1133.8 L377.1,1133.8 L377.5,1133.8 L377.9,1133.8 L378.3,1133.8 L378.8,1133.8 L379.2,1133.8 L379.6,1133.8 L380.0,1133.8 L380.4,1133.8 L380.9,1133.8 L381.3,1133.8 L381.7,1133.8 L382.1,1133.8 L382.5,1133.8 L383.0,1133.8 L383.4,1133.8 L383.8,1133.8 L384.2,1133.8 L384.6,1133.8 L385.0,1133.8 L385.5,1133.8 L385.9,1133.8 L386.3,1133.8 L386.7,1133.8 L387.1,1133.8 L387.6,1133.8 L388.0,1133.8 L388.4,1133.8 L388.8,1133.8 L389.2,1133.8 L389.7,1133.8 L390.1,1133.8 L390.5,1133.8 L390.9,1133.8 L391.3,1133.8 L391.8,1133.8 L392.2,1133.8 L392.6,1133.8 L393.0,1133.8 L393.4,1133.8 L393.8,1133.8 L394.3,1133.8 L394.7,1133.8 L395.1,1133.8 L395.5,1133.8 L395.9,1133.8 L396.4,1133.8 L396.8,1133.8 L397.2,1133.8 L397.6,1133.8 L398.0,1133.8 L398.5,1133.8 L398.9,1133.8 L399.3,1133.8 L399.7,1133.8 L400.1,1133.8 L400.6,1133.8 L401.0,1133.8 L401.4,1133.8 L401.8,1133.8 L402.2,1133.8 L402.6,1133.8 L403.1,1133.8 L403.5,1133.8 L403.9,1133.8 L404.3,1133.8 L404.7,1133.7 L405.2,1133.7 L405.6,1133.7 L406.0,1133.7 L406.4,1133.7 L406.8,1133.7 L407.3,1133.7 L407.7,1133.7 L408.1,1133.7 L408.5,1133.7 L408.9,1133.7 L409.4,1133.7 L409.8,1133.7 L410.2,1133.7 L410.6,1133.7 L411.0,1133.7 L411.4,1133.7 L411.9,1133.7 L412.3,1133.7 L412.7,1133.7 L413.1,1133.7 L413.5,1133.7 L414.0,1133.7 L414.4,1133.7 L414.8,1133.7 L415.2,1133.7 L415.6,1133.7 L416.1,1133.7 L416.5,1133.7 L416.9,1133.7 L417.3,1133.7 L417.7,1133.7 L418.2,1133.7 L418.6,1133.7 L419.0,1133.7 L419.4,1133.7 L419.8,1133.7 L420.2,1133.7 L420.7,1133.7 L421.1,1133.7 L421.5,1133.7 L421.9,1133.7 L422.3,1133.7 L422.8,1133.6 L423.2,1133.6 L423.6,1133.6 L424.0,1133.6 L424.4,1133.6 L424.9,1133.6 L425.3,1133.6 L425.7,1133.6 L426.1,1133.6 L426.5,1133.6 L427.0,1133.6 L427.4,1133.6 L427.8,1133.6 L428.2,1133.6 L428.6,1133.6 L429.0,1133.6 L429.5,1133.6 L429.9,1133.6 L430.3,1133.6 L430.7,1133.6 L431.1,1133.6 L431.6,1133.6 L432.0,1133.6" stroke="#2f7be0"/>
</g>
<g stroke="#000" stroke-width="2.3" fill="none" stroke-linecap="butt">
<rect x="107.3" y="9.5" width="670.0" height="525.2"/>
<path d="M115.3,534.7 v-8.8 M115.3,9.5 v8.8 M198.1,534.7 v-8.8 M198.1,9.5 v8.8 M280.8,534.7 v-8.8 M280.8,9.5 v8.8 M363.6,534.7 v-8.8 M363.6,9.5 v8.8 M446.3,534.7 v-8.8 M446.3,9.5 v8.8 M529.0,534.7 v-8.8 M529.0,9.5 v8.8 M611.8,534.7 v-8.8 M611.8,9.5 v8.8 M694.5,534.7 v-8.8 M694.5,9.5 v8.8 M107.3,447.3 h8.8 M777.3,447.3 h-8.8 M107.3,359.8 h8.8 M777.3,359.8 h-8.8 M107.3,272.2 h8.8 M777.3,272.2 h-8.8 M107.3,184.7 h8.8 M777.3,184.7 h-8.8 M107.3,97.2 h8.8 M777.3,97.2 h-8.8" stroke-width="1.8"/>
</g>
<g stroke="#000" stroke-width="2.3" fill="none" stroke-linecap="butt">
<rect x="106.8" y="660.0" width="670.5" height="523.6"/>
<path d="M190.6,1183.6 v-8.8 M190.6,660.0 v8.8 M274.4,1183.6 v-8.8 M274.4,660.0 v8.8 M358.2,1183.6 v-8.8 M358.2,660.0 v8.8 M442.0,1183.6 v-8.8 M442.0,660.0 v8.8 M525.8,1183.6 v-8.8 M525.8,660.0 v8.8 M609.7,1183.6 v-8.8 M609.7,660.0 v8.8 M693.5,1183.6 v-8.8 M693.5,660.0 v8.8 M106.8,1131.8 h8.8 M777.3,1131.8 h-8.8 M106.8,1026.9 h8.8 M777.3,1026.9 h-8.8 M106.8,922.0 h8.8 M777.3,922.0 h-8.8 M106.8,817.1 h8.8 M777.3,817.1 h-8.8 M106.8,712.2 h8.8 M777.3,712.2 h-8.8" stroke-width="1.8"/>
</g>
<g font-family="'Liberation Serif', 'Times New Roman', serif" font-size="26.6" fill="#000">
<text transform="translate(115.3,575.1) scale(1,1.030)" text-anchor="middle">0</text>
<text transform="translate(106.8,1225.6) scale(1,1.030)" text-anchor="middle">0</text>
<text transform="translate(198.1,575.1) scale(1,1.030)" text-anchor="middle">100</text>
<text transform="translate(190.6,1225.6) scale(1,1.030)" text-anchor="middle">100</text>
<text transform="translate(280.8,575.1) scale(1,1.030)" text-anchor="middle">200</text>
<text transform="translate(274.4,1225.6) scale(1,1.030)" text-anchor="middle">200</text>
<text transform="translate(363.6,575.1) scale(1,1.030)" text-anchor="middle">300</text>
<text transform="translate(358.2,1225.6) scale(1,1.030)" text-anchor="middle">300</text>
<text transform="translate(446.3,575.1) scale(1,1.030)" text-anchor="middle">400</text>
<text transform="translate(442.0,1225.6) scale(1,1.030)" text-anchor="middle">400</text>
<text transform="translate(529.0,575.1) scale(1,1.030)" text-anchor="middle">500</text>
<text transform="translate(525.8,1225.6) scale(1,1.030)" text-anchor="middle">500</text>
<text transform="translate(611.8,575.1) scale(1,1.030)" text-anchor="middle">600</text>
<text transform="translate(609.7,1225.6) scale(1,1.030)" text-anchor="middle">600</text>
<text transform="translate(694.5,575.1) scale(1,1.030)" text-anchor="middle">700</text>
<text transform="translate(693.5,1225.6) scale(1,1.030)" text-anchor="middle">700</text>
<text transform="translate(777.3,575.1) scale(1,1.030)" text-anchor="middle">800</text>
<text transform="translate(777.3,1225.6) scale(1,1.030)" text-anchor="middle">800</text>
<text transform="translate(89.7,545.7) scale(1,1.030)" text-anchor="end">-8</text>
<text transform="translate(89.7,458.1) scale(1,1.030)" text-anchor="end">-6</text>
<text transform="translate(89.7,370.6) scale(1,1.030)" text-anchor="end">-4</text>
<text transform="translate(89.7,283.0) scale(1,1.030)" text-anchor="end">-2</text>
<text transform="translate(89.7,195.5) scale(1,1.030)" text-anchor="end">0</text>
<text transform="translate(89.7,108.0) scale(1,1.030)" text-anchor="end">2</text>
<text transform="translate(89.7,20.4) scale(1,1.030)" text-anchor="end">4</text>
<text transform="translate(89.7,1142.6) scale(1,1.030)" text-anchor="end">0</text>
<text transform="translate(89.7,1037.7) scale(1,1.030)" text-anchor="end">10</text>
<text transform="translate(89.7,932.8) scale(1,1.030)" text-anchor="end">20</text>
<text transform="translate(89.7,827.9) scale(1,1.030)" text-anchor="end">30</text>
<text transform="translate(89.7,723.0) scale(1,1.030)" text-anchor="end">40</text>
</g>
<g font-family="'Liberation Serif', 'Times New Roman', serif" font-size="33.2" fill="#000">
<text transform="translate(442.5,620.2) scale(1,1.05)" text-anchor="middle">Time (s)</text>
<text transform="translate(442.5,1271.2) scale(1,1.05)" text-anchor="middle">Time (s)</text>
<text transform="translate(35.6,270.5) rotate(-90) scale(1,1.05)" text-anchor="middle">Current Density (mA/cm<tspan font-size="20.7" dy="-19">2</tspan><tspan dy="19">)</tspan></text>
<text transform="translate(35.6,922) rotate(-90) scale(1,1.05)" text-anchor="middle">Stress-Thickness (N/m)</text>
</g>
<g font-family="'Liberation Serif', 'Times New Roman', serif" font-weight="bold" font-size="24.4" >
<text x="137.6" y="493.2" fill="#2f7be0">E = -1.350 V</text>
<text x="155.6" y="412.4" fill="#000000">E = -1.325 V</text>
<text x="161.3" y="359.9" fill="#e01c18">E = -1.300 V</text>
<text x="180.8" y="325.0" fill="#1c1cb4">E = -1.275 V</text>
<text x="192.0" y="293.2" fill="#30de34">E = -1.250 V</text>
<text x="236.3" y="263.3" fill="#8f1ccc">E = -1.225 V</text>
<text x="325.6" y="240.0" fill="#147a20">E = -1.200 V</text>
<text x="499.0" y="218.6" fill="#000000">E = -1.190 V</text>
<text x="219.0" y="709.7" fill="#2f7be0">E = -1.350 V</text>
<text x="262.7" y="738.7" fill="#000000">E = -1.325 V</text>
<text x="277.2" y="767.8" fill="#e01c18">E = -1.300 V</text>
<text x="289.7" y="797.4" fill="#1c1cb4">E = -1.275 V</text>
<text x="307.3" y="827.5" fill="#30de34">E = -1.250 V</text>
<text x="328.3" y="874.0" fill="#8f1ccc">E = -1.225 V</text>
<text x="423.8" y="943.6" fill="#147a20">E = -1.200 V</text>
<text x="574.9" y="1025.1" fill="#000000">E = -1.190 V</text>
<text x="114" y="44" font-size="32" fill="#000">(a)</text>
<text x="114" y="693.5" font-size="32" fill="#000">(b)</text>
</g>
<rect x="463.3" y="251.4" width="293.8" height="229.6" fill="#fff" stroke="#000" stroke-width="1"/>
<path d="M470.5,481.0 v-4.5 M470.5,251.4 v4.5 M506.3,481.0 v-4.5 M506.3,251.4 v4.5 M542.1,481.0 v-4.5 M542.1,251.4 v4.5 M578.0,481.0 v-4.5 M578.0,251.4 v4.5 M613.8,481.0 v-4.5 M613.8,251.4 v4.5 M649.6,481.0 v-4.5 M649.6,251.4 v4.5 M685.5,481.0 v-4.5 M685.5,251.4 v4.5 M721.3,481.0 v-4.5 M721.3,251.4 v4.5 M463.3,297.3 h4.5 M757.1,297.3 h-4.5 M463.3,343.2 h4.5 M757.1,343.2 h-4.5 M463.3,389.2 h4.5 M757.1,389.2 h-4.5 M463.3,435.1 h4.5 M757.1,435.1 h-4.5" stroke="#000" stroke-width="1" fill="none"/>
<path d="M470.5,300.5 L473.8,300.5 L473.8,461.0 L503.3,461.0 L503.3,403.9 L514.2,403.9 L712.0,277.1 L757.1,277.1" stroke="#000" stroke-width="1.3" fill="none"/>
<g font-family="'Liberation Serif', 'Times New Roman', serif" font-weight="bold" font-size="12" fill="#000">
<text x="470.5" y="498.6" text-anchor="middle">0</text>
<text x="506.3" y="498.6" text-anchor="middle">50</text>
<text x="542.1" y="498.6" text-anchor="middle">100</text>
<text x="578.0" y="498.6" text-anchor="middle">150</text>
<text x="613.8" y="498.6" text-anchor="middle">200</text>
<text x="649.6" y="498.6" text-anchor="middle">250</text>
<text x="685.5" y="498.6" text-anchor="middle">300</text>
<text x="721.3" y="498.6" text-anchor="middle">350</text>
<text x="757.1" y="498.6" text-anchor="middle">400</text>
<text x="456" y="255.4" text-anchor="end">-0.4</text>
<text x="456" y="301.3" text-anchor="end">-0.6</text>
<text x="456" y="347.2" text-anchor="end">-0.8</text>
<text x="456" y="393.2" text-anchor="end">-1</text>
<text x="456" y="439.1" text-anchor="end">-1.2</text>
<text x="456" y="485.0" text-anchor="end">-1.4</text>
<text x="613" y="519" text-anchor="middle" font-size="14.5">Time (s)</text>
<text transform="translate(423,366.5) rotate(-90)" text-anchor="middle" font-size="14.3">Potedntial (V vs. SSE)</text>
</g>
</svg>
</body>
</html>
